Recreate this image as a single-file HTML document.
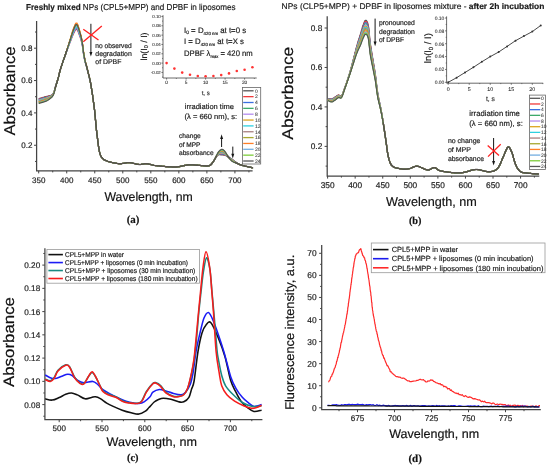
<!DOCTYPE html>
<html><head><meta charset="utf-8"><style>
html,body{margin:0;padding:0;background:#fff;}
body{width:550px;height:466px;overflow:hidden;}
svg{display:block;will-change:transform;font-family:"Liberation Sans",sans-serif;}
text{stroke:currentColor;stroke-width:0.18px;text-rendering:geometricPrecision;}
</style></head><body>
<svg width="550" height="466" viewBox="0 0 550 466">
<rect width="550" height="466" fill="#fff"/>
<text x="26.00" y="9.90" font-size="8.60" fill="#1a1a1a" color="#1a1a1a" textLength="209.60" lengthAdjust="spacingAndGlyphs"><tspan font-weight="bold">Freshly mixed</tspan> NPs (CPL5+MPP) and DPBF in liposomes</text>
<path d="M36.60,20.90V170.80H252.60" fill="none" stroke="#444" stroke-width="1.25"/>
<line x1="34.00" y1="145.25" x2="36.60" y2="145.25" stroke="#444" stroke-width="1.00"/>
<line x1="34.00" y1="112.90" x2="36.60" y2="112.90" stroke="#444" stroke-width="1.00"/>
<line x1="34.00" y1="80.55" x2="36.60" y2="80.55" stroke="#444" stroke-width="1.00"/>
<line x1="34.00" y1="48.20" x2="36.60" y2="48.20" stroke="#444" stroke-width="1.00"/>
<line x1="35.00" y1="161.43" x2="36.60" y2="161.43" stroke="#444" stroke-width="1.00"/>
<line x1="35.00" y1="129.07" x2="36.60" y2="129.07" stroke="#444" stroke-width="1.00"/>
<line x1="35.00" y1="96.73" x2="36.60" y2="96.73" stroke="#444" stroke-width="1.00"/>
<line x1="35.00" y1="64.38" x2="36.60" y2="64.38" stroke="#444" stroke-width="1.00"/>
<line x1="35.00" y1="32.03" x2="36.60" y2="32.03" stroke="#444" stroke-width="1.00"/>
<text x="32.40" y="148.13" font-size="8.00" text-anchor="end" fill="#222" color="#222">0.2</text>
<text x="32.40" y="115.78" font-size="8.00" text-anchor="end" fill="#222" color="#222">0.4</text>
<text x="32.40" y="83.43" font-size="8.00" text-anchor="end" fill="#222" color="#222">0.6</text>
<text x="32.40" y="51.08" font-size="8.00" text-anchor="end" fill="#222" color="#222">0.8</text>
<line x1="38.70" y1="170.80" x2="38.70" y2="173.40" stroke="#444" stroke-width="1.00"/>
<line x1="66.73" y1="170.80" x2="66.73" y2="173.40" stroke="#444" stroke-width="1.00"/>
<line x1="94.76" y1="170.80" x2="94.76" y2="173.40" stroke="#444" stroke-width="1.00"/>
<line x1="122.79" y1="170.80" x2="122.79" y2="173.40" stroke="#444" stroke-width="1.00"/>
<line x1="150.82" y1="170.80" x2="150.82" y2="173.40" stroke="#444" stroke-width="1.00"/>
<line x1="178.85" y1="170.80" x2="178.85" y2="173.40" stroke="#444" stroke-width="1.00"/>
<line x1="206.88" y1="170.80" x2="206.88" y2="173.40" stroke="#444" stroke-width="1.00"/>
<line x1="234.91" y1="170.80" x2="234.91" y2="173.40" stroke="#444" stroke-width="1.00"/>
<line x1="52.72" y1="170.80" x2="52.72" y2="172.40" stroke="#444" stroke-width="1.00"/>
<line x1="80.75" y1="170.80" x2="80.75" y2="172.40" stroke="#444" stroke-width="1.00"/>
<line x1="108.78" y1="170.80" x2="108.78" y2="172.40" stroke="#444" stroke-width="1.00"/>
<line x1="136.81" y1="170.80" x2="136.81" y2="172.40" stroke="#444" stroke-width="1.00"/>
<line x1="164.83" y1="170.80" x2="164.83" y2="172.40" stroke="#444" stroke-width="1.00"/>
<line x1="192.87" y1="170.80" x2="192.87" y2="172.40" stroke="#444" stroke-width="1.00"/>
<line x1="220.89" y1="170.80" x2="220.89" y2="172.40" stroke="#444" stroke-width="1.00"/>
<line x1="248.93" y1="170.80" x2="248.93" y2="172.40" stroke="#444" stroke-width="1.00"/>
<text x="38.70" y="182.90" font-size="8.00" text-anchor="middle" fill="#222" color="#222">350</text>
<text x="66.73" y="182.90" font-size="8.00" text-anchor="middle" fill="#222" color="#222">400</text>
<text x="94.76" y="182.90" font-size="8.00" text-anchor="middle" fill="#222" color="#222">450</text>
<text x="122.79" y="182.90" font-size="8.00" text-anchor="middle" fill="#222" color="#222">500</text>
<text x="150.82" y="182.90" font-size="8.00" text-anchor="middle" fill="#222" color="#222">550</text>
<text x="178.85" y="182.90" font-size="8.00" text-anchor="middle" fill="#222" color="#222">600</text>
<text x="206.88" y="182.90" font-size="8.00" text-anchor="middle" fill="#222" color="#222">650</text>
<text x="234.91" y="182.90" font-size="8.00" text-anchor="middle" fill="#222" color="#222">700</text>
<text x="15.00" y="91.00" font-size="15.60" text-anchor="middle" fill="#111" color="#111" textLength="89.00" lengthAdjust="spacingAndGlyphs" transform="rotate(-90 15.00 91.00)">Absorbance</text>
<text x="148.60" y="200.90" font-size="12.60" text-anchor="middle" fill="#111" color="#111" textLength="88.30" lengthAdjust="spacingAndGlyphs">Wavelength, nm</text>
<text x="133.00" y="223.30" font-size="10.90" text-anchor="middle" font-weight="bold" font-family="Liberation Serif" fill="#111" color="#111" textLength="12.70" lengthAdjust="spacingAndGlyphs">(a)</text>
<path d="M38.7,98.6L39.2,98.5L39.8,98.3L40.6,98.1L41.5,97.8L42.4,97.6L43.2,97.3L44.0,97.1L44.7,96.9L45.4,96.7L46.2,96.6L46.9,96.4L47.6,96.3L48.2,96.1L48.9,95.9L49.6,95.7L50.2,95.5L50.8,95.3L51.5,95.0L52.1,94.7L52.6,94.2L53.1,93.6L53.4,93.1L53.7,92.6L53.9,91.9L54.2,91.3L54.4,90.5L54.6,89.8L54.8,89.0L55.0,88.2L55.2,87.4L55.5,86.5L55.7,85.9L55.9,85.2L56.2,84.4L56.4,83.6L56.7,82.8L56.9,82.0L57.2,81.2L57.4,80.4L57.7,79.7L57.9,78.9L58.1,78.2L58.3,77.5L58.5,76.8L58.7,76.0L58.9,75.2L59.1,74.5L59.2,73.8L59.4,73.2L59.5,72.6L59.7,71.9L59.9,71.2L60.1,70.4L60.3,69.7L60.5,68.9L60.8,68.1L61.0,67.3L61.3,66.5L61.6,65.7L61.9,64.8L62.1,64.0L62.4,63.3L62.6,62.6L62.8,62.0L63.1,61.1L63.3,60.5L63.5,60.0L63.7,59.5L64.0,58.7L64.4,57.5L64.6,57.0L64.8,56.4L65.0,55.8L65.2,55.1L65.5,54.4L65.7,53.7L66.0,52.9L66.2,52.1L66.5,51.3L66.8,50.5L67.1,49.7L67.4,48.9L67.6,48.0L67.9,47.2L68.2,46.4L68.5,45.6L68.7,44.8L69.0,44.1L69.3,43.3L69.5,42.5L69.8,41.7L70.1,40.8L70.4,40.0L70.7,39.1L70.9,38.3L71.2,37.4L71.5,36.6L71.8,35.8L72.0,35.0L72.3,34.3L72.5,33.5L72.8,32.8L73.0,32.2L73.3,31.6L73.5,31.0L74.0,29.8L74.5,28.7L74.9,27.8L75.3,27.0L75.7,26.5L76.1,26.1L76.5,26.0L76.9,26.1L77.2,26.5L77.6,27.1L77.9,27.9L78.3,28.8L78.6,29.9L79.0,31.0L79.2,31.6L79.4,32.2L79.6,32.9L79.8,33.6L80.1,34.3L80.3,35.1L80.5,35.8L80.7,36.7L81.0,37.5L81.2,38.4L81.4,39.2L81.6,40.1L81.8,41.1L82.0,42.0L82.1,42.7L82.3,43.5L82.4,44.2L82.5,45.0L82.6,45.8L82.7,46.7L82.9,47.5L83.0,48.4L83.1,49.2L83.2,50.1L83.3,51.0L83.4,51.8L83.5,52.7L83.6,53.5L83.8,54.4L83.9,55.2L84.0,56.0L84.2,56.7L84.3,57.5L84.5,58.4L84.7,59.2L84.8,60.0L85.0,60.8L85.2,61.6L85.4,62.4L85.6,63.1L85.8,63.9L86.1,64.6L86.3,65.4L86.5,66.1L86.7,66.9L86.9,67.6L87.1,68.4L87.3,69.2L87.5,70.0L87.7,70.8L87.9,71.5L88.1,72.2L88.2,72.9L88.4,73.6L88.6,74.3L88.8,75.1L89.0,75.8L89.2,76.5L89.4,77.3L89.5,78.1L89.7,78.9L89.9,79.8L90.1,80.7L90.3,81.6L90.5,82.6L90.7,83.7L90.8,84.4L90.9,85.0L91.1,85.7L91.2,86.4L91.3,87.2L91.4,87.9L91.5,88.7L91.7,89.5L91.8,90.3L91.9,91.1L92.1,91.9L92.2,92.8L92.3,93.6L92.4,94.4L92.6,95.3L92.7,96.2L92.8,97.0L92.9,97.9L93.1,98.8L93.2,99.6L93.3,100.5L93.4,101.4L93.5,102.2L93.7,103.1L93.8,104.0L93.9,104.8L94.0,105.6L94.1,106.5L94.2,107.3L94.3,108.1L94.4,108.9L94.5,109.8L94.6,110.6L94.7,111.5L94.8,112.3L94.9,113.2L94.9,114.0L95.0,114.9L95.1,115.7L95.2,116.6L95.3,117.4L95.4,118.3L95.4,119.1L95.5,120.0L95.6,120.8L95.7,121.7L95.8,122.5L95.8,123.3L95.9,124.1L96.0,124.9L96.1,125.7L96.1,126.5L96.2,127.3L96.3,128.1L96.4,128.8L96.4,129.6L96.5,130.3L96.6,131.0L96.7,132.0L96.8,132.9L96.9,133.9L97.0,134.8L97.1,135.7L97.3,136.6L97.4,137.5L97.5,138.4L97.6,139.3L97.7,140.1L97.8,140.9L97.9,141.7L98.0,142.5L98.1,143.3L98.2,144.0L98.3,144.8L98.4,145.5L98.5,146.1L98.6,146.8L98.7,147.4L98.8,148.0L99.0,149.2L99.2,150.2L99.3,151.1L99.5,151.9L99.6,152.6L99.8,153.2L100.0,153.8L100.2,154.4L100.4,154.9L100.6,155.5L101.0,156.4L101.5,157.2L102.1,157.8L102.6,158.4L103.2,158.9L103.7,159.4L104.3,159.9L105.0,160.2L105.6,160.5L106.3,160.7L107.0,161.0L107.6,161.3L108.2,161.5L108.9,161.7L109.7,161.9L110.8,162.2L111.4,162.3L112.0,162.5L112.7,162.6L113.5,162.8L114.2,162.9L115.0,163.1L115.9,163.2L116.7,163.4L117.6,163.5L118.4,163.6L119.2,163.7L120.0,163.7L120.8,163.7L121.6,163.6L122.3,163.5L123.1,163.4L123.9,163.3L124.7,163.1L125.5,163.0L126.3,162.8L127.0,162.7L127.8,162.6L128.6,162.6L129.4,162.6L130.2,162.7L131.0,162.8L131.8,162.9L132.6,163.1L133.4,163.3L134.3,163.5L135.1,163.7L135.9,164.0L136.7,164.1L137.4,164.3L138.2,164.4L138.9,164.5L139.7,164.5L140.5,164.5L141.3,164.4L142.0,164.2L142.7,164.1L143.4,164.0L144.1,163.8L144.9,163.7L145.7,163.7L146.5,163.7L147.2,163.8L147.9,163.9L148.5,164.0L149.2,164.2L149.9,164.3L150.6,164.5L151.3,164.7L152.1,164.9L153.0,165.1L153.9,165.3L155.0,165.5L156.1,165.6L156.7,165.7L157.4,165.8L158.2,165.8L158.9,165.9L159.7,166.0L160.5,166.1L161.4,166.2L162.3,166.3L163.1,166.3L164.0,166.4L165.0,166.5L165.9,166.6L166.8,166.7L167.7,166.7L168.6,166.8L169.5,166.8L170.4,166.9L171.2,166.9L172.1,167.0L172.9,167.0L173.7,167.0L174.5,167.0L175.2,167.0L176.1,167.0L177.0,166.9L177.9,166.8L178.8,166.7L179.6,166.6L180.4,166.4L181.2,166.2L181.9,166.1L182.7,165.9L183.4,165.7L184.2,165.6L184.9,165.4L185.7,165.3L186.4,165.1L187.2,165.0L187.9,165.0L188.7,164.9L189.5,164.9L190.4,164.9L191.3,164.9L192.2,164.9L193.1,164.9L194.0,165.0L194.9,165.0L195.8,165.1L196.6,165.2L197.5,165.2L198.3,165.3L199.1,165.4L199.8,165.4L200.5,165.5L201.2,165.6L201.8,165.6L203.0,165.7L203.9,165.8L204.7,165.9L205.3,165.9L205.9,166.0L206.4,166.0L207.0,166.0L207.8,165.9L208.5,165.9L209.2,165.7L209.8,165.4L210.5,165.0L211.0,164.6L211.5,164.0L212.0,163.4L212.5,162.7L213.0,162.0L213.5,161.3L214.0,160.6L214.4,160.0L214.8,159.4L215.2,158.7L215.6,158.0L216.0,157.4L216.4,156.8L216.8,156.3L217.2,155.8L217.5,155.4L218.2,155.0L218.8,154.7L219.4,154.7L220.0,154.7L220.8,154.8L221.5,154.9L222.2,155.0L223.0,155.0L223.7,155.1L224.5,155.1L225.0,155.2L225.5,155.4L226.0,155.7L226.5,155.9L227.0,156.2L227.5,156.4L227.9,156.7L228.4,156.9L228.9,157.2L229.4,157.5L230.0,157.9L230.5,158.2L231.0,158.5L231.5,158.8L232.1,159.2L232.7,159.7L233.3,160.2L234.0,160.7L234.6,161.2L235.2,161.7L235.9,162.2L236.5,162.7L237.2,163.1L237.9,163.6L238.6,163.9L239.3,164.3L240.0,164.6L240.7,164.9L241.5,165.1L242.2,165.3L243.0,165.5L243.7,165.7L244.5,165.9L245.2,166.1L246.0,166.3L246.8,166.5L247.6,166.7L248.4,166.9L249.3,167.1L250.1,167.2L250.9,167.4L251.6,167.6L252.2,167.7L252.7,167.8" fill="none" stroke="#555555" stroke-width="1.20"/>
<path d="M38.7,99.0L39.2,98.9L39.8,98.7L40.6,98.5L41.5,98.2L42.4,98.0L43.2,97.7L44.0,97.5L44.7,97.3L45.4,97.1L46.2,96.9L46.9,96.8L47.6,96.6L48.2,96.4L48.9,96.2L49.6,96.0L50.2,95.8L50.8,95.5L51.5,95.2L52.1,94.9L52.6,94.4L53.1,93.8L53.4,93.3L53.7,92.7L53.9,92.1L54.2,91.4L54.4,90.6L54.6,89.9L54.8,89.1L55.0,88.3L55.2,87.5L55.5,86.6L55.7,85.9L55.9,85.2L56.2,84.5L56.4,83.7L56.7,82.9L56.9,82.1L57.2,81.3L57.4,80.5L57.7,79.7L57.9,78.9L58.1,78.2L58.3,77.5L58.5,76.9L58.7,76.0L58.9,75.2L59.1,74.5L59.2,73.9L59.4,73.2L59.5,72.6L59.7,71.9L59.9,71.2L60.1,70.4L60.3,69.7L60.5,69.0L60.8,68.2L61.0,67.4L61.3,66.5L61.6,65.7L61.9,64.9L62.1,64.1L62.4,63.4L62.6,62.7L62.8,62.0L63.1,61.2L63.3,60.6L63.5,60.1L63.7,59.6L64.0,58.8L64.4,57.7L64.6,57.2L64.8,56.6L65.0,56.0L65.2,55.4L65.5,54.7L65.7,54.0L66.0,53.3L66.2,52.5L66.5,51.8L66.8,51.0L67.1,50.3L67.4,49.5L67.6,48.7L67.9,48.0L68.2,47.3L68.5,46.5L68.7,45.8L69.0,45.2L69.3,44.5L69.5,43.8L69.8,43.0L70.1,42.3L70.4,41.6L70.7,40.8L70.9,40.1L71.2,39.4L71.5,38.6L71.8,38.0L72.0,37.3L72.3,36.6L72.5,36.0L72.8,35.4L73.0,34.8L73.3,34.3L73.5,33.8L74.0,32.8L74.5,31.8L74.9,31.0L75.3,30.3L75.7,29.8L76.1,29.5L76.5,29.4L76.9,29.5L77.2,29.9L77.6,30.4L77.9,31.2L78.3,32.0L78.6,33.0L79.0,34.0L79.2,34.5L79.4,35.1L79.6,35.7L79.8,36.3L80.1,36.9L80.3,37.6L80.5,38.3L80.7,39.0L81.0,39.8L81.2,40.5L81.4,41.3L81.6,42.1L81.8,43.0L82.0,43.8L82.1,44.5L82.3,45.2L82.4,45.9L82.5,46.6L82.6,47.4L82.7,48.2L82.9,49.0L83.0,49.8L83.1,50.6L83.2,51.5L83.3,52.3L83.4,53.1L83.5,53.9L83.6,54.7L83.8,55.5L83.9,56.3L84.0,57.0L84.2,57.8L84.3,58.5L84.5,59.3L84.7,60.1L84.8,60.8L85.0,61.6L85.2,62.3L85.4,63.0L85.6,63.7L85.8,64.4L86.1,65.1L86.3,65.8L86.5,66.6L86.7,67.3L86.9,68.0L87.1,68.7L87.3,69.5L87.5,70.3L87.7,71.0L87.9,71.7L88.1,72.4L88.2,73.1L88.4,73.8L88.6,74.5L88.8,75.2L89.0,75.9L89.2,76.7L89.4,77.4L89.5,78.2L89.7,79.0L89.9,79.9L90.1,80.8L90.3,81.7L90.5,82.7L90.7,83.8L90.8,84.4L90.9,85.1L91.1,85.8L91.2,86.5L91.3,87.2L91.4,88.0L91.5,88.7L91.7,89.5L91.8,90.3L91.9,91.1L92.1,91.9L92.2,92.8L92.3,93.6L92.4,94.5L92.6,95.3L92.7,96.2L92.8,97.0L92.9,97.9L93.1,98.8L93.2,99.7L93.3,100.5L93.4,101.4L93.5,102.3L93.7,103.1L93.8,104.0L93.9,104.8L94.0,105.7L94.1,106.5L94.2,107.3L94.3,108.1L94.4,109.0L94.5,109.8L94.6,110.6L94.7,111.5L94.8,112.3L94.9,113.2L94.9,114.0L95.0,114.9L95.1,115.7L95.2,116.6L95.3,117.4L95.4,118.3L95.4,119.1L95.5,120.0L95.6,120.8L95.7,121.7L95.8,122.5L95.8,123.3L95.9,124.1L96.0,124.9L96.1,125.7L96.1,126.5L96.2,127.3L96.3,128.1L96.4,128.8L96.4,129.6L96.5,130.3L96.6,131.0L96.7,132.0L96.8,132.9L96.9,133.9L97.0,134.8L97.1,135.7L97.3,136.6L97.4,137.5L97.5,138.4L97.6,139.3L97.7,140.1L97.8,140.9L97.9,141.7L98.0,142.5L98.1,143.3L98.2,144.0L98.3,144.8L98.4,145.5L98.5,146.1L98.6,146.8L98.7,147.4L98.8,148.0L99.0,149.2L99.2,150.2L99.3,151.1L99.5,151.9L99.6,152.6L99.8,153.2L100.0,153.8L100.2,154.4L100.4,154.9L100.6,155.5L101.0,156.4L101.5,157.2L102.1,157.8L102.6,158.4L103.2,158.9L103.7,159.4L104.3,159.9L105.0,160.2L105.6,160.5L106.3,160.7L107.0,161.0L107.6,161.3L108.2,161.5L108.9,161.7L109.7,161.9L110.8,162.2L111.4,162.3L112.0,162.5L112.7,162.6L113.5,162.8L114.2,162.9L115.0,163.1L115.9,163.2L116.7,163.4L117.6,163.5L118.4,163.6L119.2,163.7L120.0,163.7L120.8,163.7L121.6,163.6L122.3,163.5L123.1,163.4L123.9,163.3L124.7,163.1L125.5,163.0L126.3,162.8L127.0,162.7L127.8,162.6L128.6,162.6L129.4,162.6L130.2,162.7L131.0,162.8L131.8,162.9L132.6,163.1L133.4,163.3L134.3,163.5L135.1,163.7L135.9,164.0L136.7,164.1L137.4,164.3L138.2,164.4L138.9,164.5L139.7,164.5L140.5,164.5L141.3,164.4L142.0,164.2L142.7,164.1L143.4,164.0L144.1,163.8L144.9,163.7L145.7,163.7L146.5,163.7L147.2,163.8L147.9,163.9L148.5,164.0L149.2,164.2L149.9,164.3L150.6,164.5L151.3,164.7L152.1,164.9L153.0,165.1L153.9,165.3L155.0,165.5L156.1,165.6L156.7,165.7L157.4,165.8L158.2,165.8L158.9,165.9L159.7,166.0L160.5,166.1L161.4,166.2L162.3,166.3L163.1,166.3L164.0,166.4L165.0,166.5L165.9,166.6L166.8,166.7L167.7,166.7L168.6,166.8L169.5,166.8L170.4,166.9L171.2,166.9L172.1,167.0L172.9,167.0L173.7,167.0L174.5,167.0L175.2,167.0L176.1,167.0L177.0,166.9L177.9,166.8L178.8,166.7L179.6,166.6L180.4,166.4L181.2,166.2L181.9,166.1L182.7,165.9L183.4,165.7L184.2,165.6L184.9,165.4L185.7,165.3L186.4,165.1L187.2,165.0L187.9,165.0L188.7,164.9L189.5,164.9L190.4,164.9L191.3,164.9L192.2,164.9L193.1,164.9L194.0,165.0L194.9,165.0L195.8,165.1L196.6,165.2L197.5,165.2L198.3,165.3L199.1,165.4L199.8,165.4L200.5,165.5L201.2,165.6L201.8,165.6L203.0,165.7L203.9,165.8L204.7,165.9L205.3,165.9L205.9,166.0L206.4,166.0L207.0,166.0L207.8,165.9L208.5,165.9L209.2,165.7L209.8,165.4L210.5,165.0L211.0,164.6L211.5,164.0L212.0,163.4L212.5,162.7L213.0,162.0L213.5,161.3L214.0,160.6L214.4,160.0L214.8,159.3L215.2,158.7L215.6,158.0L216.0,157.3L216.4,156.7L216.8,156.1L217.2,155.7L217.5,155.3L218.2,154.7L218.8,154.5L219.4,154.4L220.0,154.3L220.8,154.3L221.5,154.4L222.2,154.5L223.0,154.6L223.7,154.6L224.5,154.8L225.0,154.9L225.5,155.2L226.0,155.5L226.5,155.8L227.0,156.1L227.5,156.3L227.9,156.6L228.4,156.9L228.9,157.3L229.4,157.6L230.0,158.0L230.5,158.3L231.0,158.6L231.5,159.0L232.1,159.4L232.7,159.8L233.3,160.3L234.0,160.9L234.6,161.3L235.2,161.8L235.9,162.2L236.5,162.7L237.2,163.2L237.9,163.6L238.6,163.9L239.3,164.3L240.0,164.6L240.7,164.9L241.5,165.1L242.2,165.3L243.0,165.5L243.7,165.7L244.5,165.9L245.2,166.1L246.0,166.3L246.8,166.5L247.6,166.7L248.4,166.9L249.3,167.1L250.1,167.2L250.9,167.4L251.6,167.6L252.2,167.7L252.7,167.8" fill="none" stroke="#f03a3a" stroke-width="1.20"/>
<path d="M38.7,99.4L39.2,99.3L39.8,99.1L40.6,98.9L41.5,98.6L42.4,98.4L43.2,98.1L44.0,97.9L44.7,97.7L45.4,97.5L46.2,97.3L46.9,97.1L47.6,97.0L48.2,96.8L48.9,96.5L49.6,96.3L50.2,96.0L50.8,95.8L51.5,95.4L52.1,95.0L52.6,94.6L53.1,93.9L53.4,93.4L53.7,92.8L53.9,92.2L54.2,91.5L54.4,90.8L54.6,90.0L54.8,89.2L55.0,88.4L55.2,87.5L55.5,86.7L55.7,86.0L55.9,85.3L56.2,84.5L56.4,83.8L56.7,83.0L56.9,82.1L57.2,81.3L57.4,80.5L57.7,79.7L57.9,79.0L58.1,78.2L58.3,77.5L58.5,76.9L58.7,76.0L58.9,75.3L59.1,74.6L59.2,73.9L59.4,73.3L59.5,72.6L59.7,71.9L59.9,71.2L60.1,70.4L60.3,69.7L60.5,69.0L60.8,68.2L61.0,67.4L61.3,66.5L61.6,65.7L61.9,64.9L62.1,64.1L62.4,63.3L62.6,62.7L62.8,62.0L63.1,61.2L63.3,60.6L63.5,60.1L63.7,59.6L64.0,58.8L64.4,57.6L64.6,57.1L64.8,56.5L65.0,55.9L65.2,55.3L65.5,54.6L65.7,53.9L66.0,53.2L66.2,52.4L66.5,51.6L66.8,50.9L67.1,50.1L67.4,49.3L67.6,48.5L67.9,47.8L68.2,47.0L68.5,46.3L68.7,45.6L69.0,44.9L69.3,44.1L69.5,43.4L69.8,42.6L70.1,41.9L70.4,41.1L70.7,40.3L70.9,39.6L71.2,38.8L71.5,38.0L71.8,37.3L72.0,36.6L72.3,35.9L72.5,35.3L72.8,34.6L73.0,34.0L73.3,33.5L73.5,33.0L74.0,31.9L74.5,30.9L74.9,30.0L75.3,29.4L75.7,28.8L76.1,28.5L76.5,28.4L76.9,28.5L77.2,28.9L77.6,29.5L77.9,30.2L78.3,31.1L78.6,32.1L79.0,33.1L79.2,33.7L79.4,34.2L79.6,34.8L79.8,35.5L80.1,36.2L80.3,36.8L80.5,37.6L80.7,38.3L81.0,39.1L81.2,39.9L81.4,40.7L81.6,41.6L81.8,42.4L82.0,43.3L82.1,44.0L82.3,44.7L82.4,45.4L82.5,46.2L82.6,46.9L82.7,47.7L82.9,48.6L83.0,49.4L83.1,50.2L83.2,51.1L83.3,51.9L83.4,52.7L83.5,53.5L83.6,54.4L83.8,55.2L83.9,56.0L84.0,56.7L84.2,57.5L84.3,58.2L84.5,59.0L84.7,59.8L84.8,60.6L85.0,61.4L85.2,62.1L85.4,62.8L85.6,63.5L85.8,64.3L86.1,65.0L86.3,65.7L86.5,66.4L86.7,67.2L86.9,67.9L87.1,68.6L87.3,69.4L87.5,70.2L87.7,70.9L87.9,71.7L88.1,72.4L88.2,73.1L88.4,73.8L88.6,74.5L88.8,75.2L89.0,75.9L89.2,76.6L89.4,77.4L89.5,78.2L89.7,79.0L89.9,79.8L90.1,80.7L90.3,81.7L90.5,82.7L90.7,83.7L90.8,84.4L90.9,85.1L91.1,85.8L91.2,86.5L91.3,87.2L91.4,88.0L91.5,88.7L91.7,89.5L91.8,90.3L91.9,91.1L92.1,91.9L92.2,92.8L92.3,93.6L92.4,94.5L92.6,95.3L92.7,96.2L92.8,97.0L92.9,97.9L93.1,98.8L93.2,99.6L93.3,100.5L93.4,101.4L93.5,102.2L93.7,103.1L93.8,104.0L93.9,104.8L94.0,105.7L94.1,106.5L94.2,107.3L94.3,108.1L94.4,108.9L94.5,109.8L94.6,110.6L94.7,111.5L94.8,112.3L94.9,113.2L94.9,114.0L95.0,114.9L95.1,115.7L95.2,116.6L95.3,117.4L95.4,118.3L95.4,119.1L95.5,120.0L95.6,120.8L95.7,121.7L95.8,122.5L95.8,123.3L95.9,124.1L96.0,124.9L96.1,125.7L96.1,126.5L96.2,127.3L96.3,128.1L96.4,128.8L96.4,129.6L96.5,130.3L96.6,131.0L96.7,132.0L96.8,132.9L96.9,133.9L97.0,134.8L97.1,135.7L97.3,136.6L97.4,137.5L97.5,138.4L97.6,139.3L97.7,140.1L97.8,140.9L97.9,141.7L98.0,142.5L98.1,143.3L98.2,144.0L98.3,144.8L98.4,145.5L98.5,146.1L98.6,146.8L98.7,147.4L98.8,148.0L99.0,149.2L99.2,150.2L99.3,151.1L99.5,151.9L99.6,152.6L99.8,153.2L100.0,153.8L100.2,154.4L100.4,154.9L100.6,155.5L101.0,156.4L101.5,157.2L102.1,157.8L102.6,158.4L103.2,158.9L103.7,159.4L104.3,159.9L105.0,160.2L105.6,160.5L106.3,160.7L107.0,161.0L107.6,161.3L108.2,161.5L108.9,161.7L109.7,161.9L110.8,162.2L111.4,162.3L112.0,162.5L112.7,162.6L113.5,162.8L114.2,162.9L115.0,163.1L115.9,163.2L116.7,163.4L117.6,163.5L118.4,163.6L119.2,163.7L120.0,163.7L120.8,163.7L121.6,163.6L122.3,163.5L123.1,163.4L123.9,163.3L124.7,163.1L125.5,163.0L126.3,162.8L127.0,162.7L127.8,162.6L128.6,162.6L129.4,162.6L130.2,162.7L131.0,162.8L131.8,162.9L132.6,163.1L133.4,163.3L134.3,163.5L135.1,163.7L135.9,164.0L136.7,164.1L137.4,164.3L138.2,164.4L138.9,164.5L139.7,164.5L140.5,164.5L141.3,164.4L142.0,164.2L142.7,164.1L143.4,164.0L144.1,163.8L144.9,163.7L145.7,163.7L146.5,163.7L147.2,163.8L147.9,163.9L148.5,164.0L149.2,164.2L149.9,164.3L150.6,164.5L151.3,164.7L152.1,164.9L153.0,165.1L153.9,165.3L155.0,165.5L156.1,165.6L156.7,165.7L157.4,165.8L158.2,165.8L158.9,165.9L159.7,166.0L160.5,166.1L161.4,166.2L162.3,166.3L163.1,166.3L164.0,166.4L165.0,166.5L165.9,166.6L166.8,166.7L167.7,166.7L168.6,166.8L169.5,166.8L170.4,166.9L171.2,166.9L172.1,167.0L172.9,167.0L173.7,167.0L174.5,167.0L175.2,167.0L176.1,167.0L177.0,166.9L177.9,166.8L178.8,166.7L179.6,166.6L180.4,166.4L181.2,166.2L181.9,166.1L182.7,165.9L183.4,165.7L184.2,165.6L184.9,165.4L185.7,165.3L186.4,165.1L187.2,165.0L187.9,165.0L188.7,164.9L189.5,164.9L190.4,164.9L191.3,164.9L192.2,164.9L193.1,164.9L194.0,165.0L194.9,165.0L195.8,165.1L196.6,165.2L197.5,165.2L198.3,165.3L199.1,165.4L199.8,165.4L200.5,165.5L201.2,165.6L201.8,165.6L203.0,165.7L203.9,165.8L204.7,165.9L205.3,165.9L205.9,166.0L206.4,166.0L207.0,166.0L207.8,165.9L208.5,165.9L209.2,165.7L209.8,165.4L210.5,165.0L211.0,164.6L211.5,164.0L212.0,163.4L212.5,162.7L213.0,162.0L213.5,161.3L214.0,160.6L214.4,160.0L214.8,159.3L215.2,158.6L215.6,157.9L216.0,157.3L216.4,156.6L216.8,156.0L217.2,155.5L217.5,155.1L218.2,154.5L218.8,154.2L219.4,154.1L220.0,154.0L220.8,153.9L221.5,154.0L222.2,154.1L223.0,154.1L223.7,154.2L224.5,154.4L225.0,154.6L225.5,154.9L226.0,155.2L226.5,155.6L227.0,156.0L227.5,156.3L227.9,156.6L228.4,156.9L228.9,157.3L229.4,157.7L230.0,158.1L230.5,158.4L231.0,158.8L231.5,159.1L232.1,159.6L232.7,160.0L233.3,160.5L234.0,161.0L234.6,161.4L235.2,161.9L235.9,162.3L236.5,162.8L237.2,163.2L237.9,163.6L238.6,164.0L239.3,164.3L240.0,164.6L240.7,164.9L241.5,165.1L242.2,165.3L243.0,165.5L243.7,165.7L244.5,165.9L245.2,166.1L246.0,166.3L246.8,166.5L247.6,166.7L248.4,166.9L249.3,167.1L250.1,167.2L250.9,167.4L251.6,167.6L252.2,167.7L252.7,167.8" fill="none" stroke="#3a6fe0" stroke-width="1.20"/>
<path d="M38.7,99.8L39.2,99.7L39.8,99.5L40.6,99.3L41.5,99.0L42.4,98.8L43.2,98.5L44.0,98.3L44.7,98.1L45.4,97.9L46.2,97.7L46.9,97.5L47.6,97.3L48.2,97.1L48.9,96.8L49.6,96.5L50.2,96.3L50.8,96.0L51.5,95.6L52.1,95.2L52.6,94.7L53.1,94.1L53.4,93.5L53.7,92.9L53.9,92.3L54.2,91.6L54.4,90.9L54.6,90.1L54.8,89.3L55.0,88.5L55.2,87.6L55.5,86.8L55.7,86.1L55.9,85.4L56.2,84.6L56.4,83.8L56.7,83.0L56.9,82.2L57.2,81.4L57.4,80.6L57.7,79.8L57.9,79.0L58.1,78.3L58.3,77.6L58.5,76.9L58.7,76.1L58.9,75.3L59.1,74.6L59.2,73.9L59.4,73.3L59.5,72.6L59.7,72.0L59.9,71.2L60.1,70.4L60.3,69.7L60.5,69.0L60.8,68.2L61.0,67.4L61.3,66.5L61.6,65.7L61.9,64.8L62.1,64.1L62.4,63.3L62.6,62.6L62.8,62.0L63.1,61.1L63.3,60.5L63.5,60.0L63.7,59.5L64.0,58.7L64.4,57.5L64.6,56.9L64.8,56.4L65.0,55.7L65.2,55.1L65.5,54.4L65.7,53.6L66.0,52.9L66.2,52.1L66.5,51.3L66.8,50.4L67.1,49.6L67.4,48.8L67.6,47.9L67.9,47.1L68.2,46.3L68.5,45.5L68.7,44.7L69.0,43.9L69.3,43.1L69.5,42.3L69.8,41.4L70.1,40.6L70.4,39.7L70.7,38.8L70.9,38.0L71.2,37.1L71.5,36.3L71.8,35.4L72.0,34.6L72.3,33.8L72.5,33.1L72.8,32.4L73.0,31.7L73.3,31.1L73.5,30.5L74.0,29.2L74.5,28.1L74.9,27.2L75.3,26.4L75.7,25.9L76.1,25.5L76.5,25.4L76.9,25.5L77.2,25.9L77.6,26.5L77.9,27.3L78.3,28.3L78.6,29.3L79.0,30.5L79.2,31.1L79.4,31.7L79.6,32.4L79.8,33.1L80.1,33.8L80.3,34.6L80.5,35.4L80.7,36.2L81.0,37.1L81.2,38.0L81.4,38.9L81.6,39.8L81.8,40.7L82.0,41.7L82.1,42.4L82.3,43.2L82.4,43.9L82.5,44.7L82.6,45.6L82.7,46.4L82.9,47.2L83.0,48.1L83.1,49.0L83.2,49.8L83.3,50.7L83.4,51.6L83.5,52.5L83.6,53.3L83.8,54.2L83.9,55.0L84.0,55.8L84.2,56.6L84.3,57.3L84.5,58.2L84.7,59.0L84.8,59.9L85.0,60.7L85.2,61.5L85.4,62.2L85.6,63.0L85.8,63.8L86.1,64.5L86.3,65.3L86.5,66.0L86.7,66.8L86.9,67.6L87.1,68.3L87.3,69.1L87.5,69.9L87.7,70.7L87.9,71.5L88.1,72.2L88.2,72.9L88.4,73.6L88.6,74.3L88.8,75.0L89.0,75.8L89.2,76.5L89.4,77.3L89.5,78.1L89.7,78.9L89.9,79.8L90.1,80.7L90.3,81.6L90.5,82.6L90.7,83.7L90.8,84.3L90.9,85.0L91.1,85.7L91.2,86.4L91.3,87.2L91.4,87.9L91.5,88.7L91.7,89.5L91.8,90.3L91.9,91.1L92.1,91.9L92.2,92.8L92.3,93.6L92.4,94.4L92.6,95.3L92.7,96.2L92.8,97.0L92.9,97.9L93.1,98.8L93.2,99.6L93.3,100.5L93.4,101.4L93.5,102.2L93.7,103.1L93.8,104.0L93.9,104.8L94.0,105.6L94.1,106.5L94.2,107.3L94.3,108.1L94.4,108.9L94.5,109.8L94.6,110.6L94.7,111.5L94.8,112.3L94.9,113.2L94.9,114.0L95.0,114.9L95.1,115.7L95.2,116.6L95.3,117.4L95.4,118.3L95.4,119.1L95.5,120.0L95.6,120.8L95.7,121.7L95.8,122.5L95.8,123.3L95.9,124.1L96.0,124.9L96.1,125.7L96.1,126.5L96.2,127.3L96.3,128.1L96.4,128.8L96.4,129.6L96.5,130.3L96.6,131.0L96.7,132.0L96.8,132.9L96.9,133.9L97.0,134.8L97.1,135.7L97.3,136.6L97.4,137.5L97.5,138.4L97.6,139.3L97.7,140.1L97.8,140.9L97.9,141.7L98.0,142.5L98.1,143.3L98.2,144.0L98.3,144.8L98.4,145.5L98.5,146.1L98.6,146.8L98.7,147.4L98.8,148.0L99.0,149.2L99.2,150.2L99.3,151.1L99.5,151.9L99.6,152.6L99.8,153.2L100.0,153.8L100.2,154.4L100.4,154.9L100.6,155.5L101.0,156.4L101.5,157.2L102.1,157.8L102.6,158.4L103.2,158.9L103.7,159.4L104.3,159.9L105.0,160.2L105.6,160.5L106.3,160.7L107.0,161.0L107.6,161.3L108.2,161.5L108.9,161.7L109.7,161.9L110.8,162.2L111.4,162.3L112.0,162.5L112.7,162.6L113.5,162.8L114.2,162.9L115.0,163.1L115.9,163.2L116.7,163.4L117.6,163.5L118.4,163.6L119.2,163.7L120.0,163.7L120.8,163.7L121.6,163.6L122.3,163.5L123.1,163.4L123.9,163.3L124.7,163.1L125.5,163.0L126.3,162.8L127.0,162.7L127.8,162.6L128.6,162.6L129.4,162.6L130.2,162.7L131.0,162.8L131.8,162.9L132.6,163.1L133.4,163.3L134.3,163.5L135.1,163.7L135.9,164.0L136.7,164.1L137.4,164.3L138.2,164.4L138.9,164.5L139.7,164.5L140.5,164.5L141.3,164.4L142.0,164.2L142.7,164.1L143.4,164.0L144.1,163.8L144.9,163.7L145.7,163.7L146.5,163.7L147.2,163.8L147.9,163.9L148.5,164.0L149.2,164.2L149.9,164.3L150.6,164.5L151.3,164.7L152.1,164.9L153.0,165.1L153.9,165.3L155.0,165.5L156.1,165.6L156.7,165.7L157.4,165.8L158.2,165.8L158.9,165.9L159.7,166.0L160.5,166.1L161.4,166.2L162.3,166.3L163.1,166.3L164.0,166.4L165.0,166.5L165.9,166.6L166.8,166.7L167.7,166.7L168.6,166.8L169.5,166.8L170.4,166.9L171.2,166.9L172.1,167.0L172.9,167.0L173.7,167.0L174.5,167.0L175.2,167.0L176.1,167.0L177.0,166.9L177.9,166.8L178.8,166.7L179.6,166.6L180.4,166.4L181.2,166.2L181.9,166.1L182.7,165.9L183.4,165.7L184.2,165.6L184.9,165.4L185.7,165.3L186.4,165.1L187.2,165.0L187.9,165.0L188.7,164.9L189.5,164.9L190.4,164.9L191.3,164.9L192.2,164.9L193.1,164.9L194.0,165.0L194.9,165.0L195.8,165.1L196.6,165.2L197.5,165.2L198.3,165.3L199.1,165.4L199.8,165.4L200.5,165.5L201.2,165.6L201.8,165.6L203.0,165.7L203.9,165.8L204.7,165.9L205.3,165.9L205.9,166.0L206.4,166.0L207.0,166.0L207.8,165.9L208.5,165.9L209.2,165.7L209.8,165.4L210.5,165.0L211.0,164.6L211.5,164.0L212.0,163.4L212.5,162.7L213.0,162.0L213.5,161.3L214.0,160.6L214.4,159.9L214.8,159.3L215.2,158.6L215.6,157.9L216.0,157.2L216.4,156.5L216.8,155.9L217.2,155.4L217.5,155.0L218.2,154.3L218.8,153.9L219.4,153.7L220.0,153.6L220.8,153.5L221.5,153.5L222.2,153.6L223.0,153.7L223.7,153.8L224.5,154.1L225.0,154.3L225.5,154.6L226.0,155.0L226.5,155.4L227.0,155.8L227.5,156.2L227.9,156.6L228.4,157.0L228.9,157.4L229.4,157.8L230.0,158.2L230.5,158.5L231.0,158.9L231.5,159.3L232.1,159.7L232.7,160.2L233.3,160.6L234.0,161.1L234.6,161.5L235.2,161.9L235.9,162.4L236.5,162.8L237.2,163.2L237.9,163.6L238.6,164.0L239.3,164.3L240.0,164.6L240.7,164.9L241.5,165.1L242.2,165.3L243.0,165.5L243.7,165.7L244.5,165.9L245.2,166.1L246.0,166.3L246.8,166.5L247.6,166.7L248.4,166.9L249.3,167.1L250.1,167.2L250.9,167.4L251.6,167.6L252.2,167.7L252.7,167.8" fill="none" stroke="#3daa6a" stroke-width="1.20"/>
<path d="M38.7,100.2L39.2,100.1L39.8,99.9L40.6,99.7L41.5,99.4L42.4,99.2L43.2,98.9L44.0,98.7L44.7,98.5L45.4,98.3L46.2,98.1L46.9,97.9L47.6,97.6L48.2,97.4L48.9,97.1L49.6,96.8L50.2,96.5L50.8,96.2L51.5,95.8L52.1,95.4L52.6,94.9L53.1,94.2L53.4,93.7L53.7,93.1L53.9,92.4L54.2,91.7L54.4,91.0L54.6,90.2L54.8,89.4L55.0,88.5L55.2,87.7L55.5,86.8L55.7,86.2L55.9,85.4L56.2,84.7L56.4,83.9L56.7,83.1L56.9,82.3L57.2,81.4L57.4,80.6L57.7,79.8L57.9,79.0L58.1,78.3L58.3,77.6L58.5,76.9L58.7,76.1L58.9,75.3L59.1,74.6L59.2,73.9L59.4,73.3L59.5,72.6L59.7,72.0L59.9,71.3L60.1,70.5L60.3,69.8L60.5,69.0L60.8,68.2L61.0,67.4L61.3,66.5L61.6,65.7L61.9,64.9L62.1,64.1L62.4,63.3L62.6,62.6L62.8,62.0L63.1,61.2L63.3,60.6L63.5,60.1L63.7,59.6L64.0,58.8L64.4,57.6L64.6,57.1L64.8,56.5L65.0,55.9L65.2,55.2L65.5,54.5L65.7,53.8L66.0,53.1L66.2,52.3L66.5,51.5L66.8,50.7L67.1,49.9L67.4,49.1L67.6,48.4L67.9,47.6L68.2,46.8L68.5,46.0L68.7,45.3L69.0,44.6L69.3,43.8L69.5,43.1L69.8,42.3L70.1,41.5L70.4,40.7L70.7,39.9L70.9,39.1L71.2,38.3L71.5,37.5L71.8,36.8L72.0,36.0L72.3,35.3L72.5,34.6L72.8,34.0L73.0,33.3L73.3,32.8L73.5,32.2L74.0,31.1L74.5,30.1L74.9,29.2L75.3,28.5L75.7,27.9L76.1,27.6L76.5,27.5L76.9,27.6L77.2,28.0L77.6,28.6L77.9,29.4L78.3,30.3L78.6,31.3L79.0,32.3L79.2,32.9L79.4,33.5L79.6,34.1L79.8,34.8L80.1,35.5L80.3,36.2L80.5,36.9L80.7,37.7L81.0,38.5L81.2,39.3L81.4,40.2L81.6,41.0L81.8,41.9L82.0,42.8L82.1,43.5L82.3,44.2L82.4,45.0L82.5,45.7L82.6,46.5L82.7,47.3L82.9,48.2L83.0,49.0L83.1,49.8L83.2,50.7L83.3,51.5L83.4,52.4L83.5,53.2L83.6,54.0L83.8,54.9L83.9,55.7L84.0,56.4L84.2,57.2L84.3,57.9L84.5,58.8L84.7,59.6L84.8,60.4L85.0,61.1L85.2,61.9L85.4,62.6L85.6,63.4L85.8,64.1L86.1,64.8L86.3,65.6L86.5,66.3L86.7,67.0L86.9,67.8L87.1,68.6L87.3,69.3L87.5,70.1L87.7,70.9L87.9,71.6L88.1,72.3L88.2,73.0L88.4,73.7L88.6,74.4L88.8,75.1L89.0,75.8L89.2,76.6L89.4,77.3L89.5,78.1L89.7,79.0L89.9,79.8L90.1,80.7L90.3,81.7L90.5,82.7L90.7,83.7L90.8,84.4L90.9,85.1L91.1,85.7L91.2,86.5L91.3,87.2L91.4,88.0L91.5,88.7L91.7,89.5L91.8,90.3L91.9,91.1L92.1,91.9L92.2,92.8L92.3,93.6L92.4,94.5L92.6,95.3L92.7,96.2L92.8,97.0L92.9,97.9L93.1,98.8L93.2,99.6L93.3,100.5L93.4,101.4L93.5,102.2L93.7,103.1L93.8,104.0L93.9,104.8L94.0,105.7L94.1,106.5L94.2,107.3L94.3,108.1L94.4,108.9L94.5,109.8L94.6,110.6L94.7,111.5L94.8,112.3L94.9,113.2L94.9,114.0L95.0,114.9L95.1,115.7L95.2,116.6L95.3,117.4L95.4,118.3L95.4,119.1L95.5,120.0L95.6,120.8L95.7,121.7L95.8,122.5L95.8,123.3L95.9,124.1L96.0,124.9L96.1,125.7L96.1,126.5L96.2,127.3L96.3,128.1L96.4,128.8L96.4,129.6L96.5,130.3L96.6,131.0L96.7,132.0L96.8,132.9L96.9,133.9L97.0,134.8L97.1,135.7L97.3,136.6L97.4,137.5L97.5,138.4L97.6,139.3L97.7,140.1L97.8,140.9L97.9,141.7L98.0,142.5L98.1,143.3L98.2,144.0L98.3,144.8L98.4,145.5L98.5,146.1L98.6,146.8L98.7,147.4L98.8,148.0L99.0,149.2L99.2,150.2L99.3,151.1L99.5,151.9L99.6,152.6L99.8,153.2L100.0,153.8L100.2,154.4L100.4,154.9L100.6,155.5L101.0,156.4L101.5,157.2L102.1,157.8L102.6,158.4L103.2,158.9L103.7,159.4L104.3,159.9L105.0,160.2L105.6,160.5L106.3,160.7L107.0,161.0L107.6,161.3L108.2,161.5L108.9,161.7L109.7,161.9L110.8,162.2L111.4,162.3L112.0,162.5L112.7,162.6L113.5,162.8L114.2,162.9L115.0,163.1L115.9,163.2L116.7,163.4L117.6,163.5L118.4,163.6L119.2,163.7L120.0,163.7L120.8,163.7L121.6,163.6L122.3,163.5L123.1,163.4L123.9,163.3L124.7,163.1L125.5,163.0L126.3,162.8L127.0,162.7L127.8,162.6L128.6,162.6L129.4,162.6L130.2,162.7L131.0,162.8L131.8,162.9L132.6,163.1L133.4,163.3L134.3,163.5L135.1,163.7L135.9,164.0L136.7,164.1L137.4,164.3L138.2,164.4L138.9,164.5L139.7,164.5L140.5,164.5L141.3,164.4L142.0,164.2L142.7,164.1L143.4,164.0L144.1,163.8L144.9,163.7L145.7,163.7L146.5,163.7L147.2,163.8L147.9,163.9L148.5,164.0L149.2,164.2L149.9,164.3L150.6,164.5L151.3,164.7L152.1,164.9L153.0,165.1L153.9,165.3L155.0,165.5L156.1,165.6L156.7,165.7L157.4,165.8L158.2,165.8L158.9,165.9L159.7,166.0L160.5,166.1L161.4,166.2L162.3,166.3L163.1,166.3L164.0,166.4L165.0,166.5L165.9,166.6L166.8,166.7L167.7,166.7L168.6,166.8L169.5,166.8L170.4,166.9L171.2,166.9L172.1,167.0L172.9,167.0L173.7,167.0L174.5,167.0L175.2,167.0L176.1,167.0L177.0,166.9L177.9,166.8L178.8,166.7L179.6,166.6L180.4,166.4L181.2,166.2L181.9,166.1L182.7,165.9L183.4,165.7L184.2,165.6L184.9,165.4L185.7,165.3L186.4,165.1L187.2,165.0L187.9,165.0L188.7,164.9L189.5,164.9L190.4,164.9L191.3,164.9L192.2,164.9L193.1,164.9L194.0,165.0L194.9,165.0L195.8,165.1L196.6,165.2L197.5,165.2L198.3,165.3L199.1,165.4L199.8,165.4L200.5,165.5L201.2,165.6L201.8,165.6L203.0,165.7L203.9,165.8L204.7,165.9L205.3,165.9L205.9,166.0L206.4,166.0L207.0,166.0L207.8,165.9L208.5,165.9L209.2,165.7L209.8,165.4L210.5,165.0L211.0,164.6L211.5,164.0L212.0,163.4L212.5,162.7L213.0,162.0L213.5,161.3L214.0,160.5L214.4,159.9L214.8,159.3L215.2,158.5L215.6,157.8L216.0,157.1L216.4,156.4L216.8,155.8L217.2,155.3L217.5,154.8L218.2,154.1L218.8,153.7L219.4,153.4L220.0,153.2L220.8,153.1L221.5,153.1L222.2,153.1L223.0,153.2L223.7,153.4L224.5,153.7L225.0,154.0L225.5,154.4L226.0,154.8L226.5,155.3L227.0,155.7L227.5,156.1L227.9,156.5L228.4,157.0L228.9,157.4L229.4,157.8L230.0,158.3L230.5,158.7L231.0,159.1L231.5,159.5L232.1,159.9L232.7,160.3L233.3,160.8L234.0,161.2L234.6,161.6L235.2,162.0L235.9,162.4L236.5,162.9L237.2,163.3L237.9,163.6L238.6,164.0L239.3,164.3L240.0,164.6L240.7,164.9L241.5,165.1L242.2,165.3L243.0,165.5L243.7,165.7L244.5,165.9L245.2,166.1L246.0,166.3L246.8,166.5L247.6,166.7L248.4,166.9L249.3,167.1L250.1,167.2L250.9,167.4L251.6,167.6L252.2,167.7L252.7,167.8" fill="none" stroke="#b48cf0" stroke-width="1.20"/>
<path d="M38.7,100.6L39.2,100.5L39.8,100.3L40.6,100.1L41.5,99.8L42.4,99.6L43.2,99.3L44.0,99.1L44.7,98.9L45.4,98.7L46.2,98.4L46.9,98.2L47.6,98.0L48.2,97.7L48.9,97.4L49.6,97.1L50.2,96.8L50.8,96.4L51.5,96.0L52.1,95.6L52.6,95.0L53.1,94.4L53.4,93.8L53.7,93.2L53.9,92.5L54.2,91.8L54.4,91.1L54.6,90.3L54.8,89.5L55.0,88.6L55.2,87.8L55.5,86.9L55.7,86.2L55.9,85.5L56.2,84.7L56.4,83.9L56.7,83.1L56.9,82.3L57.2,81.5L57.4,80.7L57.7,79.9L57.9,79.1L58.1,78.3L58.3,77.6L58.5,77.0L58.7,76.1L58.9,75.3L59.1,74.6L59.2,74.0L59.4,73.3L59.5,72.7L59.7,72.0L59.9,71.3L60.1,70.5L60.3,69.8L60.5,69.0L60.8,68.2L61.0,67.4L61.3,66.5L61.6,65.7L61.9,64.8L62.1,64.0L62.4,63.3L62.6,62.6L62.8,62.0L63.1,61.1L63.3,60.5L63.5,60.0L63.7,59.4L64.0,58.6L64.4,57.4L64.6,56.9L64.8,56.3L65.0,55.6L65.2,55.0L65.5,54.2L65.7,53.5L66.0,52.7L66.2,51.9L66.5,51.1L66.8,50.2L67.1,49.4L67.4,48.5L67.6,47.6L67.9,46.8L68.2,45.9L68.5,45.1L68.7,44.3L69.0,43.5L69.3,42.6L69.5,41.8L69.8,40.9L70.1,40.0L70.4,39.0L70.7,38.1L70.9,37.2L71.2,36.3L71.5,35.4L71.8,34.5L72.0,33.7L72.3,32.9L72.5,32.1L72.8,31.3L73.0,30.6L73.3,29.9L73.5,29.3L74.0,28.0L74.5,26.8L74.9,25.9L75.3,25.1L75.7,24.5L76.1,24.1L76.5,24.0L76.9,24.1L77.2,24.5L77.6,25.2L77.9,26.0L78.3,27.0L78.6,28.1L79.0,29.2L79.2,29.9L79.4,30.5L79.6,31.2L79.8,32.0L80.1,32.8L80.3,33.6L80.5,34.4L80.7,35.3L81.0,36.2L81.2,37.1L81.4,38.0L81.6,39.0L81.8,39.9L82.0,40.9L82.1,41.7L82.3,42.4L82.4,43.2L82.5,44.1L82.6,44.9L82.7,45.8L82.9,46.6L83.0,47.5L83.1,48.4L83.2,49.3L83.3,50.2L83.4,51.1L83.5,51.9L83.6,52.8L83.8,53.7L83.9,54.5L84.0,55.3L84.2,56.1L84.3,56.9L84.5,57.8L84.7,58.7L84.8,59.5L85.0,60.4L85.2,61.2L85.4,62.0L85.6,62.7L85.8,63.5L86.1,64.3L86.3,65.1L86.5,65.8L86.7,66.6L86.9,67.4L87.1,68.2L87.3,69.0L87.5,69.8L87.7,70.6L87.9,71.4L88.1,72.1L88.2,72.8L88.4,73.5L88.6,74.2L88.8,75.0L89.0,75.7L89.2,76.5L89.4,77.2L89.5,78.0L89.7,78.9L89.9,79.7L90.1,80.6L90.3,81.6L90.5,82.6L90.7,83.7L90.8,84.3L90.9,85.0L91.1,85.7L91.2,86.4L91.3,87.2L91.4,87.9L91.5,88.7L91.7,89.5L91.8,90.3L91.9,91.1L92.1,91.9L92.2,92.7L92.3,93.6L92.4,94.4L92.6,95.3L92.7,96.2L92.8,97.0L92.9,97.9L93.1,98.8L93.2,99.6L93.3,100.5L93.4,101.4L93.5,102.2L93.7,103.1L93.8,104.0L93.9,104.8L94.0,105.6L94.1,106.5L94.2,107.3L94.3,108.1L94.4,108.9L94.5,109.8L94.6,110.6L94.7,111.5L94.8,112.3L94.9,113.2L94.9,114.0L95.0,114.9L95.1,115.7L95.2,116.6L95.3,117.4L95.4,118.3L95.4,119.1L95.5,120.0L95.6,120.8L95.7,121.7L95.8,122.5L95.8,123.3L95.9,124.1L96.0,124.9L96.1,125.7L96.1,126.5L96.2,127.3L96.3,128.1L96.4,128.8L96.4,129.6L96.5,130.3L96.6,131.0L96.7,132.0L96.8,132.9L96.9,133.9L97.0,134.8L97.1,135.7L97.3,136.6L97.4,137.5L97.5,138.4L97.6,139.3L97.7,140.1L97.8,140.9L97.9,141.7L98.0,142.5L98.1,143.3L98.2,144.0L98.3,144.8L98.4,145.5L98.5,146.1L98.6,146.8L98.7,147.4L98.8,148.0L99.0,149.2L99.2,150.2L99.3,151.1L99.5,151.9L99.6,152.6L99.8,153.2L100.0,153.8L100.2,154.4L100.4,154.9L100.6,155.5L101.0,156.4L101.5,157.2L102.1,157.8L102.6,158.4L103.2,158.9L103.7,159.4L104.3,159.9L105.0,160.2L105.6,160.5L106.3,160.7L107.0,161.0L107.6,161.3L108.2,161.5L108.9,161.7L109.7,161.9L110.8,162.2L111.4,162.3L112.0,162.5L112.7,162.6L113.5,162.8L114.2,162.9L115.0,163.1L115.9,163.2L116.7,163.4L117.6,163.5L118.4,163.6L119.2,163.7L120.0,163.7L120.8,163.7L121.6,163.6L122.3,163.5L123.1,163.4L123.9,163.3L124.7,163.1L125.5,163.0L126.3,162.8L127.0,162.7L127.8,162.6L128.6,162.6L129.4,162.6L130.2,162.7L131.0,162.8L131.8,162.9L132.6,163.1L133.4,163.3L134.3,163.5L135.1,163.7L135.9,164.0L136.7,164.1L137.4,164.3L138.2,164.4L138.9,164.5L139.7,164.5L140.5,164.5L141.3,164.4L142.0,164.2L142.7,164.1L143.4,164.0L144.1,163.8L144.9,163.7L145.7,163.7L146.5,163.7L147.2,163.8L147.9,163.9L148.5,164.0L149.2,164.2L149.9,164.3L150.6,164.5L151.3,164.7L152.1,164.9L153.0,165.1L153.9,165.3L155.0,165.5L156.1,165.6L156.7,165.7L157.4,165.8L158.2,165.8L158.9,165.9L159.7,166.0L160.5,166.1L161.4,166.2L162.3,166.3L163.1,166.3L164.0,166.4L165.0,166.5L165.9,166.6L166.8,166.7L167.7,166.7L168.6,166.8L169.5,166.8L170.4,166.9L171.2,166.9L172.1,167.0L172.9,167.0L173.7,167.0L174.5,167.0L175.2,167.0L176.1,167.0L177.0,166.9L177.9,166.8L178.8,166.7L179.6,166.6L180.4,166.4L181.2,166.2L181.9,166.1L182.7,165.9L183.4,165.7L184.2,165.6L184.9,165.4L185.7,165.3L186.4,165.1L187.2,165.0L187.9,165.0L188.7,164.9L189.5,164.9L190.4,164.9L191.3,164.9L192.2,164.9L193.1,164.9L194.0,165.0L194.9,165.0L195.8,165.1L196.6,165.2L197.5,165.2L198.3,165.3L199.1,165.4L199.8,165.4L200.5,165.5L201.2,165.6L201.8,165.6L203.0,165.7L203.9,165.8L204.7,165.9L205.3,165.9L205.9,166.0L206.4,166.0L207.0,166.0L207.8,165.9L208.5,165.9L209.2,165.7L209.8,165.4L210.5,165.0L211.0,164.6L211.5,164.0L212.0,163.4L212.5,162.7L213.0,162.0L213.5,161.3L214.0,160.5L214.4,159.9L214.8,159.2L215.2,158.5L215.6,157.8L216.0,157.0L216.4,156.3L216.8,155.7L217.2,155.1L217.5,154.7L218.2,153.9L218.8,153.4L219.4,153.1L220.0,152.9L220.8,152.7L221.5,152.6L222.2,152.7L223.0,152.8L223.7,153.0L224.5,153.4L225.0,153.7L225.5,154.1L226.0,154.6L226.5,155.1L227.0,155.6L227.5,156.0L227.9,156.5L228.4,157.0L228.9,157.4L229.4,157.9L230.0,158.4L230.5,158.8L231.0,159.2L231.5,159.6L232.1,160.0L232.7,160.5L233.3,160.9L234.0,161.4L234.6,161.7L235.2,162.1L235.9,162.5L236.5,162.9L237.2,163.3L237.9,163.6L238.6,164.0L239.3,164.3L240.0,164.6L240.7,164.9L241.5,165.1L242.2,165.3L243.0,165.5L243.7,165.7L244.5,165.9L245.2,166.1L246.0,166.3L246.8,166.5L247.6,166.7L248.4,166.9L249.3,167.1L250.1,167.2L250.9,167.4L251.6,167.6L252.2,167.7L252.7,167.8" fill="none" stroke="#dda520" stroke-width="1.20"/>
<path d="M38.7,101.0L39.2,100.9L39.8,100.7L40.6,100.5L41.5,100.2L42.4,100.0L43.2,99.7L44.0,99.5L44.7,99.3L45.4,99.0L46.2,98.8L46.9,98.6L47.6,98.3L48.2,98.0L48.9,97.7L49.6,97.4L50.2,97.0L50.8,96.7L51.5,96.2L52.1,95.8L52.6,95.2L53.1,94.5L53.4,93.9L53.7,93.3L53.9,92.6L54.2,91.9L54.4,91.2L54.6,90.4L54.8,89.6L55.0,88.7L55.2,87.9L55.5,87.0L55.7,86.3L55.9,85.6L56.2,84.8L56.4,84.0L56.7,83.2L56.9,82.4L57.2,81.5L57.4,80.7L57.7,79.9L57.9,79.1L58.1,78.4L58.3,77.7L58.5,77.0L58.7,76.1L58.9,75.4L59.1,74.7L59.2,74.0L59.4,73.3L59.5,72.7L59.7,72.0L59.9,71.3L60.1,70.5L60.3,69.8L60.5,69.0L60.8,68.2L61.0,67.4L61.3,66.6L61.6,65.7L61.9,64.9L62.1,64.1L62.4,63.3L62.6,62.6L62.8,62.0L63.1,61.1L63.3,60.6L63.5,60.1L63.7,59.5L64.0,58.8L64.4,57.5L64.6,57.0L64.8,56.5L65.0,55.8L65.2,55.2L65.5,54.5L65.7,53.8L66.0,53.0L66.2,52.2L66.5,51.5L66.8,50.7L67.1,49.8L67.4,49.0L67.6,48.2L67.9,47.4L68.2,46.6L68.5,45.9L68.7,45.1L69.0,44.4L69.3,43.6L69.5,42.8L69.8,42.0L70.1,41.2L70.4,40.4L70.7,39.6L70.9,38.8L71.2,37.9L71.5,37.2L71.8,36.4L72.0,35.6L72.3,34.9L72.5,34.2L72.8,33.5L73.0,32.9L73.3,32.3L73.5,31.7L74.0,30.6L74.5,29.5L74.9,28.6L75.3,27.9L75.7,27.4L76.1,27.0L76.5,26.9L76.9,27.0L77.2,27.4L77.6,28.0L77.9,28.8L78.3,29.7L78.6,30.7L79.0,31.8L79.2,32.4L79.4,33.0L79.6,33.6L79.8,34.3L80.1,35.0L80.3,35.7L80.5,36.5L80.7,37.3L81.0,38.1L81.2,38.9L81.4,39.8L81.6,40.7L81.8,41.6L82.0,42.5L82.1,43.2L82.3,43.9L82.4,44.7L82.5,45.5L82.6,46.3L82.7,47.1L82.9,47.9L83.0,48.7L83.1,49.6L83.2,50.4L83.3,51.3L83.4,52.2L83.5,53.0L83.6,53.8L83.8,54.7L83.9,55.5L84.0,56.3L84.2,57.0L84.3,57.8L84.5,58.6L84.7,59.4L84.8,60.2L85.0,61.0L85.2,61.8L85.4,62.5L85.6,63.3L85.8,64.0L86.1,64.7L86.3,65.5L86.5,66.2L86.7,67.0L86.9,67.7L87.1,68.5L87.3,69.3L87.5,70.1L87.7,70.8L87.9,71.6L88.1,72.3L88.2,73.0L88.4,73.7L88.6,74.4L88.8,75.1L89.0,75.8L89.2,76.6L89.4,77.3L89.5,78.1L89.7,78.9L89.9,79.8L90.1,80.7L90.3,81.6L90.5,82.7L90.7,83.7L90.8,84.4L90.9,85.0L91.1,85.7L91.2,86.5L91.3,87.2L91.4,87.9L91.5,88.7L91.7,89.5L91.8,90.3L91.9,91.1L92.1,91.9L92.2,92.8L92.3,93.6L92.4,94.5L92.6,95.3L92.7,96.2L92.8,97.0L92.9,97.9L93.1,98.8L93.2,99.6L93.3,100.5L93.4,101.4L93.5,102.2L93.7,103.1L93.8,104.0L93.9,104.8L94.0,105.6L94.1,106.5L94.2,107.3L94.3,108.1L94.4,108.9L94.5,109.8L94.6,110.6L94.7,111.5L94.8,112.3L94.9,113.2L94.9,114.0L95.0,114.9L95.1,115.7L95.2,116.6L95.3,117.4L95.4,118.3L95.4,119.1L95.5,120.0L95.6,120.8L95.7,121.7L95.8,122.5L95.8,123.3L95.9,124.1L96.0,124.9L96.1,125.7L96.1,126.5L96.2,127.3L96.3,128.1L96.4,128.8L96.4,129.6L96.5,130.3L96.6,131.0L96.7,132.0L96.8,132.9L96.9,133.9L97.0,134.8L97.1,135.7L97.3,136.6L97.4,137.5L97.5,138.4L97.6,139.3L97.7,140.1L97.8,140.9L97.9,141.7L98.0,142.5L98.1,143.3L98.2,144.0L98.3,144.8L98.4,145.5L98.5,146.1L98.6,146.8L98.7,147.4L98.8,148.0L99.0,149.2L99.2,150.2L99.3,151.1L99.5,151.9L99.6,152.6L99.8,153.2L100.0,153.8L100.2,154.4L100.4,154.9L100.6,155.5L101.0,156.4L101.5,157.2L102.1,157.8L102.6,158.4L103.2,158.9L103.7,159.4L104.3,159.9L105.0,160.2L105.6,160.5L106.3,160.7L107.0,161.0L107.6,161.3L108.2,161.5L108.9,161.7L109.7,161.9L110.8,162.2L111.4,162.3L112.0,162.5L112.7,162.6L113.5,162.8L114.2,162.9L115.0,163.1L115.9,163.2L116.7,163.4L117.6,163.5L118.4,163.6L119.2,163.7L120.0,163.7L120.8,163.7L121.6,163.6L122.3,163.5L123.1,163.4L123.9,163.3L124.7,163.1L125.5,163.0L126.3,162.8L127.0,162.7L127.8,162.6L128.6,162.6L129.4,162.6L130.2,162.7L131.0,162.8L131.8,162.9L132.6,163.1L133.4,163.3L134.3,163.5L135.1,163.7L135.9,164.0L136.7,164.1L137.4,164.3L138.2,164.4L138.9,164.5L139.7,164.5L140.5,164.5L141.3,164.4L142.0,164.2L142.7,164.1L143.4,164.0L144.1,163.8L144.9,163.7L145.7,163.7L146.5,163.7L147.2,163.8L147.9,163.9L148.5,164.0L149.2,164.2L149.9,164.3L150.6,164.5L151.3,164.7L152.1,164.9L153.0,165.1L153.9,165.3L155.0,165.5L156.1,165.6L156.7,165.7L157.4,165.8L158.2,165.8L158.9,165.9L159.7,166.0L160.5,166.1L161.4,166.2L162.3,166.3L163.1,166.3L164.0,166.4L165.0,166.5L165.9,166.6L166.8,166.7L167.7,166.7L168.6,166.8L169.5,166.8L170.4,166.9L171.2,166.9L172.1,167.0L172.9,167.0L173.7,167.0L174.5,167.0L175.2,167.0L176.1,167.0L177.0,166.9L177.9,166.8L178.8,166.7L179.6,166.6L180.4,166.4L181.2,166.2L181.9,166.1L182.7,165.9L183.4,165.7L184.2,165.6L184.9,165.4L185.7,165.3L186.4,165.1L187.2,165.0L187.9,165.0L188.7,164.9L189.5,164.9L190.4,164.9L191.3,164.9L192.2,164.9L193.1,164.9L194.0,165.0L194.9,165.0L195.8,165.1L196.6,165.2L197.5,165.2L198.3,165.3L199.1,165.4L199.8,165.4L200.5,165.5L201.2,165.6L201.8,165.6L203.0,165.7L203.9,165.8L204.7,165.9L205.3,165.9L205.9,166.0L206.4,166.0L207.0,166.0L207.8,165.9L208.5,165.9L209.2,165.7L209.8,165.4L210.5,165.0L211.0,164.6L211.5,164.0L212.0,163.4L212.5,162.7L213.0,162.0L213.5,161.3L214.0,160.5L214.4,159.9L214.8,159.2L215.2,158.5L215.6,157.7L216.0,157.0L216.4,156.3L216.8,155.6L217.2,155.0L217.5,154.5L218.2,153.7L218.8,153.1L219.4,152.8L220.0,152.5L220.8,152.2L221.5,152.2L222.2,152.2L223.0,152.3L223.7,152.6L224.5,153.0L225.0,153.4L225.5,153.9L226.0,154.4L226.5,154.9L227.0,155.5L227.5,156.0L227.9,156.5L228.4,157.0L228.9,157.5L229.4,158.0L230.0,158.5L230.5,158.9L231.0,159.4L231.5,159.8L232.1,160.2L232.7,160.6L233.3,161.1L234.0,161.5L234.6,161.8L235.2,162.2L235.9,162.6L236.5,162.9L237.2,163.3L237.9,163.7L238.6,164.0L239.3,164.3L240.0,164.6L240.7,164.9L241.5,165.1L242.2,165.3L243.0,165.6L243.7,165.7L244.5,165.9L245.2,166.1L246.0,166.3L246.8,166.5L247.6,166.7L248.4,166.9L249.3,167.1L250.1,167.2L250.9,167.4L251.6,167.6L252.2,167.7L252.7,167.8" fill="none" stroke="#2ed0e0" stroke-width="1.20"/>
<path d="M38.7,101.4L39.2,101.3L39.8,101.1L40.6,100.9L41.5,100.6L42.4,100.4L43.2,100.1L44.0,99.9L44.7,99.7L45.4,99.4L46.2,99.2L46.9,98.9L47.6,98.7L48.2,98.4L48.9,98.0L49.6,97.6L50.2,97.3L50.8,96.9L51.5,96.4L52.1,95.9L52.6,95.4L53.1,94.6L53.4,94.1L53.7,93.4L53.9,92.8L54.2,92.0L54.4,91.3L54.6,90.5L54.8,89.7L55.0,88.8L55.2,88.0L55.5,87.1L55.7,86.4L55.9,85.6L56.2,84.9L56.4,84.1L56.7,83.2L56.9,82.4L57.2,81.6L57.4,80.7L57.7,79.9L57.9,79.2L58.1,78.4L58.3,77.7L58.5,77.0L58.7,76.2L58.9,75.4L59.1,74.7L59.2,74.0L59.4,73.4L59.5,72.7L59.7,72.0L59.9,71.3L60.1,70.5L60.3,69.8L60.5,69.0L60.8,68.2L61.0,67.4L61.3,66.5L61.6,65.7L61.9,64.9L62.1,64.1L62.4,63.3L62.6,62.6L62.8,62.0L63.1,61.1L63.3,60.5L63.5,60.0L63.7,59.5L64.0,58.7L64.4,57.4L64.6,56.9L64.8,56.3L65.0,55.7L65.2,55.0L65.5,54.3L65.7,53.6L66.0,52.8L66.2,52.0L66.5,51.2L66.8,50.3L67.1,49.5L67.4,48.6L67.6,47.8L67.9,46.9L68.2,46.1L68.5,45.3L68.7,44.5L69.0,43.7L69.3,42.9L69.5,42.0L69.8,41.1L70.1,40.3L70.4,39.4L70.7,38.5L70.9,37.6L71.2,36.7L71.5,35.8L71.8,35.0L72.0,34.1L72.3,33.3L72.5,32.6L72.8,31.8L73.0,31.2L73.3,30.5L73.5,29.9L74.0,28.6L74.5,27.5L74.9,26.5L75.3,25.8L75.7,25.2L76.1,24.8L76.5,24.7L76.9,24.8L77.2,25.2L77.6,25.9L77.9,26.7L78.3,27.6L78.6,28.7L79.0,29.9L79.2,30.5L79.4,31.1L79.6,31.8L79.8,32.5L80.1,33.3L80.3,34.1L80.5,34.9L80.7,35.8L81.0,36.6L81.2,37.5L81.4,38.4L81.6,39.4L81.8,40.3L82.0,41.3L82.1,42.0L82.3,42.8L82.4,43.6L82.5,44.4L82.6,45.2L82.7,46.1L82.9,46.9L83.0,47.8L83.1,48.7L83.2,49.6L83.3,50.4L83.4,51.3L83.5,52.2L83.6,53.1L83.8,53.9L83.9,54.7L84.0,55.6L84.2,56.4L84.3,57.1L84.5,58.0L84.7,58.9L84.8,59.7L85.0,60.5L85.2,61.3L85.4,62.1L85.6,62.9L85.8,63.6L86.1,64.4L86.3,65.2L86.5,65.9L86.7,66.7L86.9,67.5L87.1,68.3L87.3,69.1L87.5,69.9L87.7,70.7L87.9,71.4L88.1,72.1L88.2,72.9L88.4,73.6L88.6,74.3L88.8,75.0L89.0,75.7L89.2,76.5L89.4,77.2L89.5,78.0L89.7,78.9L89.9,79.7L90.1,80.6L90.3,81.6L90.5,82.6L90.7,83.7L90.8,84.3L90.9,85.0L91.1,85.7L91.2,86.4L91.3,87.2L91.4,87.9L91.5,88.7L91.7,89.5L91.8,90.3L91.9,91.1L92.1,91.9L92.2,92.7L92.3,93.6L92.4,94.4L92.6,95.3L92.7,96.2L92.8,97.0L92.9,97.9L93.1,98.8L93.2,99.6L93.3,100.5L93.4,101.4L93.5,102.2L93.7,103.1L93.8,104.0L93.9,104.8L94.0,105.6L94.1,106.5L94.2,107.3L94.3,108.1L94.4,108.9L94.5,109.8L94.6,110.6L94.7,111.5L94.8,112.3L94.9,113.2L94.9,114.0L95.0,114.9L95.1,115.7L95.2,116.6L95.3,117.4L95.4,118.3L95.4,119.1L95.5,120.0L95.6,120.8L95.7,121.7L95.8,122.5L95.8,123.3L95.9,124.1L96.0,124.9L96.1,125.7L96.1,126.5L96.2,127.3L96.3,128.1L96.4,128.8L96.4,129.6L96.5,130.3L96.6,131.0L96.7,132.0L96.8,132.9L96.9,133.9L97.0,134.8L97.1,135.7L97.3,136.6L97.4,137.5L97.5,138.4L97.6,139.3L97.7,140.1L97.8,140.9L97.9,141.7L98.0,142.5L98.1,143.3L98.2,144.0L98.3,144.8L98.4,145.5L98.5,146.1L98.6,146.8L98.7,147.4L98.8,148.0L99.0,149.2L99.2,150.2L99.3,151.1L99.5,151.9L99.6,152.6L99.8,153.2L100.0,153.8L100.2,154.4L100.4,154.9L100.6,155.5L101.0,156.4L101.5,157.2L102.1,157.8L102.6,158.4L103.2,158.9L103.7,159.4L104.3,159.9L105.0,160.2L105.6,160.5L106.3,160.7L107.0,161.0L107.6,161.3L108.2,161.5L108.9,161.7L109.7,161.9L110.8,162.2L111.4,162.3L112.0,162.5L112.7,162.6L113.5,162.8L114.2,162.9L115.0,163.1L115.9,163.2L116.7,163.4L117.6,163.5L118.4,163.6L119.2,163.7L120.0,163.7L120.8,163.7L121.6,163.6L122.3,163.5L123.1,163.4L123.9,163.3L124.7,163.1L125.5,163.0L126.3,162.8L127.0,162.7L127.8,162.6L128.6,162.6L129.4,162.6L130.2,162.7L131.0,162.8L131.8,162.9L132.6,163.1L133.4,163.3L134.3,163.5L135.1,163.7L135.9,164.0L136.7,164.1L137.4,164.3L138.2,164.4L138.9,164.5L139.7,164.5L140.5,164.5L141.3,164.4L142.0,164.2L142.7,164.1L143.4,164.0L144.1,163.8L144.9,163.7L145.7,163.7L146.5,163.7L147.2,163.8L147.9,163.9L148.5,164.0L149.2,164.2L149.9,164.3L150.6,164.5L151.3,164.7L152.1,164.9L153.0,165.1L153.9,165.3L155.0,165.5L156.1,165.6L156.7,165.7L157.4,165.8L158.2,165.8L158.9,165.9L159.7,166.0L160.5,166.1L161.4,166.2L162.3,166.3L163.1,166.3L164.0,166.4L165.0,166.5L165.9,166.6L166.8,166.7L167.7,166.7L168.6,166.8L169.5,166.8L170.4,166.9L171.2,166.9L172.1,167.0L172.9,167.0L173.7,167.0L174.5,167.0L175.2,167.0L176.1,167.0L177.0,166.9L177.9,166.8L178.8,166.7L179.6,166.6L180.4,166.4L181.2,166.2L181.9,166.1L182.7,165.9L183.4,165.7L184.2,165.6L184.9,165.4L185.7,165.3L186.4,165.1L187.2,165.0L187.9,165.0L188.7,164.9L189.5,164.9L190.4,164.9L191.3,164.9L192.2,164.9L193.1,164.9L194.0,165.0L194.9,165.0L195.8,165.1L196.6,165.2L197.5,165.2L198.3,165.3L199.1,165.4L199.8,165.4L200.5,165.5L201.2,165.6L201.8,165.6L203.0,165.7L203.9,165.8L204.7,165.9L205.3,165.9L205.9,166.0L206.4,166.0L207.0,166.0L207.8,165.9L208.5,165.9L209.2,165.7L209.8,165.4L210.5,165.0L211.0,164.6L211.5,164.0L212.0,163.4L212.5,162.7L213.0,162.0L213.5,161.2L214.0,160.5L214.4,159.9L214.8,159.2L215.2,158.4L215.6,157.7L216.0,156.9L216.4,156.2L216.8,155.5L217.2,154.9L217.5,154.3L218.2,153.5L218.8,152.9L219.4,152.5L220.0,152.1L220.8,151.8L221.5,151.7L222.2,151.7L223.0,151.9L223.7,152.2L224.5,152.6L225.0,153.1L225.5,153.6L226.0,154.2L226.5,154.8L227.0,155.4L227.5,155.9L227.9,156.4L228.4,157.0L228.9,157.5L229.4,158.1L230.0,158.6L230.5,159.1L231.0,159.5L231.5,159.9L232.1,160.4L232.7,160.8L233.3,161.2L234.0,161.6L234.6,162.0L235.2,162.3L235.9,162.6L236.5,163.0L237.2,163.3L237.9,163.7L238.6,164.0L239.3,164.3L240.0,164.6L240.7,164.9L241.5,165.1L242.2,165.3L243.0,165.6L243.7,165.7L244.5,165.9L245.2,166.1L246.0,166.3L246.8,166.5L247.6,166.7L248.4,166.9L249.3,167.1L250.1,167.2L250.9,167.4L251.6,167.6L252.2,167.7L252.7,167.8" fill="none" stroke="#a88080" stroke-width="1.20"/>
<path d="M38.7,101.8L39.2,101.7L39.8,101.5L40.6,101.3L41.5,101.0L42.4,100.8L43.2,100.5L44.0,100.3L44.7,100.1L45.4,99.8L46.2,99.6L46.9,99.3L47.6,99.0L48.2,98.7L48.9,98.3L49.6,97.9L50.2,97.5L50.8,97.1L51.5,96.6L52.1,96.1L52.6,95.5L53.1,94.8L53.4,94.2L53.7,93.6L53.9,92.9L54.2,92.2L54.4,91.4L54.6,90.6L54.8,89.8L55.0,88.9L55.2,88.0L55.5,87.2L55.7,86.4L55.9,85.7L56.2,84.9L56.4,84.1L56.7,83.3L56.9,82.5L57.2,81.6L57.4,80.8L57.7,80.0L57.9,79.2L58.1,78.4L58.3,77.7L58.5,77.1L58.7,76.2L58.9,75.4L59.1,74.7L59.2,74.0L59.4,73.4L59.5,72.7L59.7,72.0L59.9,71.3L60.1,70.5L60.3,69.8L60.5,69.0L60.8,68.2L61.0,67.4L61.3,66.5L61.6,65.7L61.9,64.9L62.1,64.1L62.4,63.3L62.6,62.6L62.8,62.0L63.1,61.1L63.3,60.5L63.5,60.0L63.7,59.4L64.0,58.6L64.4,57.4L64.6,56.9L64.8,56.3L65.0,55.6L65.2,54.9L65.5,54.2L65.7,53.5L66.0,52.7L66.2,51.9L66.5,51.0L66.8,50.2L67.1,49.3L67.4,48.5L67.6,47.6L67.9,46.7L68.2,45.9L68.5,45.0L68.7,44.2L69.0,43.4L69.3,42.5L69.5,41.6L69.8,40.7L70.1,39.8L70.4,38.9L70.7,38.0L70.9,37.1L71.2,36.1L71.5,35.2L71.8,34.3L72.0,33.5L72.3,32.6L72.5,31.8L72.8,31.1L73.0,30.4L73.3,29.7L73.5,29.1L74.0,27.7L74.5,26.6L74.9,25.6L75.3,24.8L75.7,24.2L76.1,23.8L76.5,23.7L76.9,23.8L77.2,24.3L77.6,24.9L77.9,25.7L78.3,26.7L78.6,27.8L79.0,29.0L79.2,29.6L79.4,30.3L79.6,31.0L79.8,31.7L80.1,32.5L80.3,33.3L80.5,34.2L80.7,35.1L81.0,36.0L81.2,36.9L81.4,37.8L81.6,38.8L81.8,39.8L82.0,40.8L82.1,41.5L82.3,42.3L82.4,43.1L82.5,43.9L82.6,44.8L82.7,45.6L82.9,46.5L83.0,47.4L83.1,48.3L83.2,49.2L83.3,50.1L83.4,51.0L83.5,51.8L83.6,52.7L83.8,53.6L83.9,54.4L84.0,55.2L84.2,56.1L84.3,56.8L84.5,57.7L84.7,58.6L84.8,59.5L85.0,60.3L85.2,61.1L85.4,61.9L85.6,62.7L85.8,63.5L86.1,64.3L86.3,65.0L86.5,65.8L86.7,66.6L86.9,67.4L87.1,68.2L87.3,69.0L87.5,69.8L87.7,70.6L87.9,71.3L88.1,72.1L88.2,72.8L88.4,73.5L88.6,74.2L88.8,75.0L89.0,75.7L89.2,76.4L89.4,77.2L89.5,78.0L89.7,78.8L89.9,79.7L90.1,80.6L90.3,81.6L90.5,82.6L90.7,83.7L90.8,84.3L90.9,85.0L91.1,85.7L91.2,86.4L91.3,87.2L91.4,87.9L91.5,88.7L91.7,89.5L91.8,90.3L91.9,91.1L92.1,91.9L92.2,92.7L92.3,93.6L92.4,94.4L92.6,95.3L92.7,96.2L92.8,97.0L92.9,97.9L93.1,98.8L93.2,99.6L93.3,100.5L93.4,101.4L93.5,102.2L93.7,103.1L93.8,104.0L93.9,104.8L94.0,105.6L94.1,106.5L94.2,107.3L94.3,108.1L94.4,108.9L94.5,109.8L94.6,110.6L94.7,111.5L94.8,112.3L94.9,113.2L94.9,114.0L95.0,114.9L95.1,115.7L95.2,116.6L95.3,117.4L95.4,118.3L95.4,119.1L95.5,120.0L95.6,120.8L95.7,121.7L95.8,122.5L95.8,123.3L95.9,124.1L96.0,124.9L96.1,125.7L96.1,126.5L96.2,127.3L96.3,128.1L96.4,128.8L96.4,129.6L96.5,130.3L96.6,131.0L96.7,132.0L96.8,132.9L96.9,133.9L97.0,134.8L97.1,135.7L97.3,136.6L97.4,137.5L97.5,138.4L97.6,139.3L97.7,140.1L97.8,140.9L97.9,141.7L98.0,142.5L98.1,143.3L98.2,144.0L98.3,144.8L98.4,145.5L98.5,146.1L98.6,146.8L98.7,147.4L98.8,148.0L99.0,149.2L99.2,150.2L99.3,151.1L99.5,151.9L99.6,152.6L99.8,153.2L100.0,153.8L100.2,154.4L100.4,154.9L100.6,155.5L101.0,156.4L101.5,157.2L102.1,157.8L102.6,158.4L103.2,158.9L103.7,159.4L104.3,159.9L105.0,160.2L105.6,160.5L106.3,160.7L107.0,161.0L107.6,161.3L108.2,161.5L108.9,161.7L109.7,161.9L110.8,162.2L111.4,162.3L112.0,162.5L112.7,162.6L113.5,162.8L114.2,162.9L115.0,163.1L115.9,163.2L116.7,163.4L117.6,163.5L118.4,163.6L119.2,163.7L120.0,163.7L120.8,163.7L121.6,163.6L122.3,163.5L123.1,163.4L123.9,163.3L124.7,163.1L125.5,163.0L126.3,162.8L127.0,162.7L127.8,162.6L128.6,162.6L129.4,162.6L130.2,162.7L131.0,162.8L131.8,162.9L132.6,163.1L133.4,163.3L134.3,163.5L135.1,163.7L135.9,164.0L136.7,164.1L137.4,164.3L138.2,164.4L138.9,164.5L139.7,164.5L140.5,164.5L141.3,164.4L142.0,164.2L142.7,164.1L143.4,164.0L144.1,163.8L144.9,163.7L145.7,163.7L146.5,163.7L147.2,163.8L147.9,163.9L148.5,164.0L149.2,164.2L149.9,164.3L150.6,164.5L151.3,164.7L152.1,164.9L153.0,165.1L153.9,165.3L155.0,165.5L156.1,165.6L156.7,165.7L157.4,165.8L158.2,165.8L158.9,165.9L159.7,166.0L160.5,166.1L161.4,166.2L162.3,166.3L163.1,166.3L164.0,166.4L165.0,166.5L165.9,166.6L166.8,166.7L167.7,166.7L168.6,166.8L169.5,166.8L170.4,166.9L171.2,166.9L172.1,167.0L172.9,167.0L173.7,167.0L174.5,167.0L175.2,167.0L176.1,167.0L177.0,166.9L177.9,166.8L178.8,166.7L179.6,166.6L180.4,166.4L181.2,166.2L181.9,166.1L182.7,165.9L183.4,165.7L184.2,165.6L184.9,165.4L185.7,165.3L186.4,165.1L187.2,165.0L187.9,165.0L188.7,164.9L189.5,164.9L190.4,164.9L191.3,164.9L192.2,164.9L193.1,164.9L194.0,165.0L194.9,165.0L195.8,165.1L196.6,165.2L197.5,165.2L198.3,165.3L199.1,165.4L199.8,165.4L200.5,165.5L201.2,165.6L201.8,165.6L203.0,165.7L203.9,165.8L204.7,165.9L205.3,165.9L205.9,166.0L206.4,166.0L207.0,166.0L207.8,165.9L208.5,165.9L209.2,165.7L209.8,165.4L210.5,165.0L211.0,164.6L211.5,164.0L212.0,163.4L212.5,162.7L213.0,162.0L213.5,161.2L214.0,160.5L214.4,159.8L214.8,159.1L215.2,158.4L215.6,157.6L216.0,156.8L216.4,156.1L216.8,155.4L217.2,154.7L217.5,154.2L218.2,153.3L218.8,152.6L219.4,152.1L220.0,151.8L220.8,151.4L221.5,151.2L222.2,151.3L223.0,151.4L223.7,151.7L224.5,152.3L225.0,152.8L225.5,153.3L226.0,154.0L226.5,154.6L227.0,155.3L227.5,155.8L227.9,156.4L228.4,157.0L228.9,157.6L229.4,158.1L230.0,158.7L230.5,159.2L231.0,159.6L231.5,160.1L232.1,160.5L232.7,161.0L233.3,161.4L234.0,161.8L234.6,162.1L235.2,162.4L235.9,162.7L236.5,163.0L237.2,163.4L237.9,163.7L238.6,164.0L239.3,164.3L240.0,164.6L240.7,164.9L241.5,165.1L242.2,165.3L243.0,165.6L243.7,165.7L244.5,165.9L245.2,166.1L246.0,166.3L246.8,166.5L247.6,166.7L248.4,166.9L249.3,167.1L250.1,167.2L250.9,167.4L251.6,167.6L252.2,167.7L252.7,167.8" fill="none" stroke="#a8a830" stroke-width="1.20"/>
<path d="M38.7,102.2L39.2,102.1L39.8,101.9L40.6,101.7L41.5,101.4L42.4,101.2L43.2,100.9L44.0,100.7L44.7,100.5L45.4,100.2L46.2,100.0L46.9,99.7L47.6,99.4L48.2,99.0L48.9,98.6L49.6,98.2L50.2,97.8L50.8,97.3L51.5,96.8L52.1,96.3L52.6,95.7L53.1,94.9L53.4,94.3L53.7,93.7L53.9,93.0L54.2,92.3L54.4,91.5L54.6,90.7L54.8,89.9L55.0,89.0L55.2,88.1L55.5,87.2L55.7,86.5L55.9,85.8L56.2,85.0L56.4,84.2L56.7,83.3L56.9,82.5L57.2,81.7L57.4,80.8L57.7,80.0L57.9,79.2L58.1,78.5L58.3,77.8L58.5,77.1L58.7,76.2L58.9,75.4L59.1,74.7L59.2,74.0L59.4,73.4L59.5,72.7L59.7,72.1L59.9,71.3L60.1,70.5L60.3,69.8L60.5,69.0L60.8,68.2L61.0,67.4L61.3,66.5L61.6,65.7L61.9,64.9L62.1,64.1L62.4,63.3L62.6,62.6L62.8,62.0L63.1,61.1L63.3,60.5L63.5,60.0L63.7,59.4L64.0,58.6L64.4,57.4L64.6,56.8L64.8,56.2L65.0,55.6L65.2,54.9L65.5,54.2L65.7,53.4L66.0,52.6L66.2,51.8L66.5,50.9L66.8,50.1L67.1,49.2L67.4,48.3L67.6,47.4L67.9,46.6L68.2,45.7L68.5,44.8L68.7,44.0L69.0,43.1L69.3,42.3L69.5,41.4L69.8,40.5L70.1,39.5L70.4,38.6L70.7,37.6L70.9,36.7L71.2,35.7L71.5,34.8L71.8,33.9L72.0,33.0L72.3,32.2L72.5,31.3L72.8,30.6L73.0,29.8L73.3,29.1L73.5,28.5L74.0,27.1L74.5,25.9L74.9,24.9L75.3,24.1L75.7,23.5L76.1,23.1L76.5,23.0L76.9,23.1L77.2,23.6L77.6,24.2L77.9,25.0L78.3,26.0L78.6,27.1L79.0,28.4L79.2,29.0L79.4,29.7L79.6,30.4L79.8,31.2L80.1,32.0L80.3,32.8L80.5,33.7L80.7,34.6L81.0,35.5L81.2,36.4L81.4,37.4L81.6,38.4L81.8,39.4L82.0,40.4L82.1,41.1L82.3,41.9L82.4,42.8L82.5,43.6L82.6,44.4L82.7,45.3L82.9,46.2L83.0,47.1L83.1,48.0L83.2,48.9L83.3,49.8L83.4,50.7L83.5,51.6L83.6,52.5L83.8,53.3L83.9,54.2L84.0,55.0L84.2,55.8L84.3,56.6L84.5,57.5L84.7,58.4L84.8,59.3L85.0,60.1L85.2,61.0L85.4,61.8L85.6,62.6L85.8,63.4L86.1,64.1L86.3,64.9L86.5,65.7L86.7,66.5L86.9,67.3L87.1,68.1L87.3,68.9L87.5,69.7L87.7,70.5L87.9,71.3L88.1,72.0L88.2,72.8L88.4,73.5L88.6,74.2L88.8,74.9L89.0,75.7L89.2,76.4L89.4,77.2L89.5,78.0L89.7,78.8L89.9,79.7L90.1,80.6L90.3,81.6L90.5,82.6L90.7,83.7L90.8,84.3L90.9,85.0L91.1,85.7L91.2,86.4L91.3,87.1L91.4,87.9L91.5,88.7L91.7,89.5L91.8,90.3L91.9,91.1L92.1,91.9L92.2,92.7L92.3,93.6L92.4,94.4L92.6,95.3L92.7,96.2L92.8,97.0L92.9,97.9L93.1,98.8L93.2,99.6L93.3,100.5L93.4,101.4L93.5,102.2L93.7,103.1L93.8,104.0L93.9,104.8L94.0,105.6L94.1,106.5L94.2,107.3L94.3,108.1L94.4,108.9L94.5,109.8L94.6,110.6L94.7,111.5L94.8,112.3L94.9,113.2L94.9,114.0L95.0,114.9L95.1,115.7L95.2,116.6L95.3,117.4L95.4,118.3L95.4,119.1L95.5,120.0L95.6,120.8L95.7,121.7L95.8,122.5L95.8,123.3L95.9,124.1L96.0,124.9L96.1,125.7L96.1,126.5L96.2,127.3L96.3,128.1L96.4,128.8L96.4,129.6L96.5,130.3L96.6,131.0L96.7,132.0L96.8,132.9L96.9,133.9L97.0,134.8L97.1,135.7L97.3,136.6L97.4,137.5L97.5,138.4L97.6,139.3L97.7,140.1L97.8,140.9L97.9,141.7L98.0,142.5L98.1,143.3L98.2,144.0L98.3,144.8L98.4,145.5L98.5,146.1L98.6,146.8L98.7,147.4L98.8,148.0L99.0,149.2L99.2,150.2L99.3,151.1L99.5,151.9L99.6,152.6L99.8,153.2L100.0,153.8L100.2,154.4L100.4,154.9L100.6,155.5L101.0,156.4L101.5,157.2L102.1,157.8L102.6,158.4L103.2,158.9L103.7,159.4L104.3,159.9L105.0,160.2L105.6,160.5L106.3,160.7L107.0,161.0L107.6,161.3L108.2,161.5L108.9,161.7L109.7,161.9L110.8,162.2L111.4,162.3L112.0,162.5L112.7,162.6L113.5,162.8L114.2,162.9L115.0,163.1L115.9,163.2L116.7,163.4L117.6,163.5L118.4,163.6L119.2,163.7L120.0,163.7L120.8,163.7L121.6,163.6L122.3,163.5L123.1,163.4L123.9,163.3L124.7,163.1L125.5,163.0L126.3,162.8L127.0,162.7L127.8,162.6L128.6,162.6L129.4,162.6L130.2,162.7L131.0,162.8L131.8,162.9L132.6,163.1L133.4,163.3L134.3,163.5L135.1,163.7L135.9,164.0L136.7,164.1L137.4,164.3L138.2,164.4L138.9,164.5L139.7,164.5L140.5,164.5L141.3,164.4L142.0,164.2L142.7,164.1L143.4,164.0L144.1,163.8L144.9,163.7L145.7,163.7L146.5,163.7L147.2,163.8L147.9,163.9L148.5,164.0L149.2,164.2L149.9,164.3L150.6,164.5L151.3,164.7L152.1,164.9L153.0,165.1L153.9,165.3L155.0,165.5L156.1,165.6L156.7,165.7L157.4,165.8L158.2,165.8L158.9,165.9L159.7,166.0L160.5,166.1L161.4,166.2L162.3,166.3L163.1,166.3L164.0,166.4L165.0,166.5L165.9,166.6L166.8,166.7L167.7,166.7L168.6,166.8L169.5,166.8L170.4,166.9L171.2,166.9L172.1,167.0L172.9,167.0L173.7,167.0L174.5,167.0L175.2,167.0L176.1,167.0L177.0,166.9L177.9,166.8L178.8,166.7L179.6,166.6L180.4,166.4L181.2,166.2L181.9,166.1L182.7,165.9L183.4,165.7L184.2,165.6L184.9,165.4L185.7,165.3L186.4,165.1L187.2,165.0L187.9,165.0L188.7,164.9L189.5,164.9L190.4,164.9L191.3,164.9L192.2,164.9L193.1,164.9L194.0,165.0L194.9,165.0L195.8,165.1L196.6,165.2L197.5,165.2L198.3,165.3L199.1,165.4L199.8,165.4L200.5,165.5L201.2,165.6L201.8,165.6L203.0,165.7L203.9,165.8L204.7,165.9L205.3,165.9L205.9,166.0L206.4,166.0L207.0,166.0L207.8,165.9L208.5,165.9L209.2,165.7L209.8,165.4L210.5,165.0L211.0,164.6L211.5,164.0L212.0,163.4L212.5,162.7L213.0,162.0L213.5,161.2L214.0,160.4L214.4,159.8L214.8,159.1L215.2,158.3L215.6,157.6L216.0,156.8L216.4,156.0L216.8,155.3L217.2,154.6L217.5,154.0L218.2,153.0L218.8,152.3L219.4,151.8L220.0,151.4L220.8,151.0L221.5,150.8L222.2,150.8L223.0,151.0L223.7,151.3L224.5,151.9L225.0,152.5L225.5,153.1L226.0,153.7L226.5,154.4L227.0,155.2L227.5,155.8L227.9,156.4L228.4,157.0L228.9,157.6L229.4,158.2L230.0,158.8L230.5,159.3L231.0,159.8L231.5,160.3L232.1,160.7L232.7,161.1L233.3,161.5L234.0,161.9L234.6,162.2L235.2,162.5L235.9,162.8L236.5,163.1L237.2,163.4L237.9,163.7L238.6,164.0L239.3,164.3L240.0,164.6L240.7,164.9L241.5,165.1L242.2,165.3L243.0,165.6L243.7,165.7L244.5,165.9L245.2,166.1L246.0,166.3L246.8,166.5L247.6,166.7L248.4,166.9L249.3,167.1L250.1,167.2L250.9,167.4L251.6,167.6L252.2,167.7L252.7,167.8" fill="none" stroke="#ff7f27" stroke-width="1.20"/>
<path d="M38.7,102.6L39.2,102.5L39.8,102.3L40.6,102.1L41.5,101.8L42.4,101.6L43.2,101.3L44.0,101.1L44.7,100.9L45.4,100.6L46.2,100.3L46.9,100.0L47.6,99.7L48.2,99.3L48.9,98.9L49.6,98.4L50.2,98.0L50.8,97.5L51.5,97.1L52.1,96.5L52.6,95.8L53.1,95.1L53.4,94.5L53.7,93.8L53.9,93.1L54.2,92.4L54.4,91.6L54.6,90.8L54.8,89.9L55.0,89.1L55.2,88.2L55.5,87.3L55.7,86.6L55.9,85.8L56.2,85.0L56.4,84.2L56.7,83.4L56.9,82.6L57.2,81.7L57.4,80.9L57.7,80.1L57.9,79.3L58.1,78.5L58.3,77.8L58.5,77.1L58.7,76.2L58.9,75.5L59.1,74.7L59.2,74.1L59.4,73.4L59.5,72.8L59.7,72.1L59.9,71.4L60.1,70.6L60.3,69.8L60.5,69.1L60.8,68.3L61.0,67.4L61.3,66.6L61.6,65.7L61.9,64.9L62.1,64.1L62.4,63.4L62.6,62.7L62.8,62.0L63.1,61.1L63.3,60.6L63.5,60.1L63.7,59.5L64.0,58.7L64.4,57.5L64.6,57.0L64.8,56.4L65.0,55.8L65.2,55.1L65.5,54.4L65.7,53.7L66.0,53.0L66.2,52.2L66.5,51.4L66.8,50.6L67.1,49.8L67.4,48.9L67.6,48.1L67.9,47.3L68.2,46.5L68.5,45.7L68.7,44.9L69.0,44.2L69.3,43.4L69.5,42.6L69.8,41.8L70.1,41.0L70.4,40.1L70.7,39.3L70.9,38.4L71.2,37.6L71.5,36.8L71.8,36.0L72.0,35.2L72.3,34.5L72.5,33.7L72.8,33.1L73.0,32.4L73.3,31.8L73.5,31.2L74.0,30.0L74.5,29.0L74.9,28.1L75.3,27.3L75.7,26.8L76.1,26.4L76.5,26.3L76.9,26.4L77.2,26.8L77.6,27.4L77.9,28.2L78.3,29.1L78.6,30.2L79.0,31.3L79.2,31.8L79.4,32.5L79.6,33.1L79.8,33.8L80.1,34.5L80.3,35.3L80.5,36.1L80.7,36.9L81.0,37.7L81.2,38.5L81.4,39.4L81.6,40.3L81.8,41.2L82.0,42.2L82.1,42.9L82.3,43.6L82.4,44.4L82.5,45.2L82.6,46.0L82.7,46.8L82.9,47.6L83.0,48.5L83.1,49.3L83.2,50.2L83.3,51.1L83.4,51.9L83.5,52.8L83.6,53.6L83.8,54.5L83.9,55.3L84.0,56.1L84.2,56.8L84.3,57.6L84.5,58.4L84.7,59.3L84.8,60.1L85.0,60.9L85.2,61.7L85.4,62.4L85.6,63.2L85.8,63.9L86.1,64.7L86.3,65.4L86.5,66.1L86.7,66.9L86.9,67.7L87.1,68.4L87.3,69.2L87.5,70.0L87.7,70.8L87.9,71.5L88.1,72.2L88.2,72.9L88.4,73.7L88.6,74.4L88.8,75.1L89.0,75.8L89.2,76.5L89.4,77.3L89.5,78.1L89.7,78.9L89.9,79.8L90.1,80.7L90.3,81.6L90.5,82.6L90.7,83.7L90.8,84.4L90.9,85.0L91.1,85.7L91.2,86.5L91.3,87.2L91.4,87.9L91.5,88.7L91.7,89.5L91.8,90.3L91.9,91.1L92.1,91.9L92.2,92.8L92.3,93.6L92.4,94.4L92.6,95.3L92.7,96.2L92.8,97.0L92.9,97.9L93.1,98.8L93.2,99.6L93.3,100.5L93.4,101.4L93.5,102.2L93.7,103.1L93.8,104.0L93.9,104.8L94.0,105.6L94.1,106.5L94.2,107.3L94.3,108.1L94.4,108.9L94.5,109.8L94.6,110.6L94.7,111.5L94.8,112.3L94.9,113.2L94.9,114.0L95.0,114.9L95.1,115.7L95.2,116.6L95.3,117.4L95.4,118.3L95.4,119.1L95.5,120.0L95.6,120.8L95.7,121.7L95.8,122.5L95.8,123.3L95.9,124.1L96.0,124.9L96.1,125.7L96.1,126.5L96.2,127.3L96.3,128.1L96.4,128.8L96.4,129.6L96.5,130.3L96.6,131.0L96.7,132.0L96.8,132.9L96.9,133.9L97.0,134.8L97.1,135.7L97.3,136.6L97.4,137.5L97.5,138.4L97.6,139.3L97.7,140.1L97.8,140.9L97.9,141.7L98.0,142.5L98.1,143.3L98.2,144.0L98.3,144.8L98.4,145.5L98.5,146.1L98.6,146.8L98.7,147.4L98.8,148.0L99.0,149.2L99.2,150.2L99.3,151.1L99.5,151.9L99.6,152.6L99.8,153.2L100.0,153.8L100.2,154.4L100.4,154.9L100.6,155.5L101.0,156.4L101.5,157.2L102.1,157.8L102.6,158.4L103.2,158.9L103.7,159.4L104.3,159.9L105.0,160.2L105.6,160.5L106.3,160.7L107.0,161.0L107.6,161.3L108.2,161.5L108.9,161.7L109.7,161.9L110.8,162.2L111.4,162.3L112.0,162.5L112.7,162.6L113.5,162.8L114.2,162.9L115.0,163.1L115.9,163.2L116.7,163.4L117.6,163.5L118.4,163.6L119.2,163.7L120.0,163.7L120.8,163.7L121.6,163.6L122.3,163.5L123.1,163.4L123.9,163.3L124.7,163.1L125.5,163.0L126.3,162.8L127.0,162.7L127.8,162.6L128.6,162.6L129.4,162.6L130.2,162.7L131.0,162.8L131.8,162.9L132.6,163.1L133.4,163.3L134.3,163.5L135.1,163.7L135.9,164.0L136.7,164.1L137.4,164.3L138.2,164.4L138.9,164.5L139.7,164.5L140.5,164.5L141.3,164.4L142.0,164.2L142.7,164.1L143.4,164.0L144.1,163.8L144.9,163.7L145.7,163.7L146.5,163.7L147.2,163.8L147.9,163.9L148.5,164.0L149.2,164.2L149.9,164.3L150.6,164.5L151.3,164.7L152.1,164.9L153.0,165.1L153.9,165.3L155.0,165.5L156.1,165.6L156.7,165.7L157.4,165.8L158.2,165.8L158.9,165.9L159.7,166.0L160.5,166.1L161.4,166.2L162.3,166.3L163.1,166.3L164.0,166.4L165.0,166.5L165.9,166.6L166.8,166.7L167.7,166.7L168.6,166.8L169.5,166.8L170.4,166.9L171.2,166.9L172.1,167.0L172.9,167.0L173.7,167.0L174.5,167.0L175.2,167.0L176.1,167.0L177.0,166.9L177.9,166.8L178.8,166.7L179.6,166.6L180.4,166.4L181.2,166.2L181.9,166.1L182.7,165.9L183.4,165.7L184.2,165.6L184.9,165.4L185.7,165.3L186.4,165.1L187.2,165.0L187.9,165.0L188.7,164.9L189.5,164.9L190.4,164.9L191.3,164.9L192.2,164.9L193.1,164.9L194.0,165.0L194.9,165.0L195.8,165.1L196.6,165.2L197.5,165.2L198.3,165.3L199.1,165.4L199.8,165.4L200.5,165.5L201.2,165.6L201.8,165.6L203.0,165.7L203.9,165.8L204.7,165.9L205.3,165.9L205.9,166.0L206.4,166.0L207.0,166.0L207.8,165.9L208.5,165.9L209.2,165.7L209.8,165.4L210.5,165.0L211.0,164.6L211.5,164.0L212.0,163.4L212.5,162.7L213.0,162.0L213.5,161.2L214.0,160.4L214.4,159.8L214.8,159.1L215.2,158.3L215.6,157.5L216.0,156.7L216.4,155.9L216.8,155.2L217.2,154.5L217.5,153.9L218.2,152.8L218.8,152.1L219.4,151.5L220.0,151.0L220.8,150.6L221.5,150.3L222.2,150.3L223.0,150.5L223.7,150.9L224.5,151.6L225.0,152.1L225.5,152.8L226.0,153.5L226.5,154.3L227.0,155.0L227.5,155.7L227.9,156.3L228.4,157.0L228.9,157.6L229.4,158.3L230.0,158.9L230.5,159.4L231.0,159.9L231.5,160.4L232.1,160.9L232.7,161.3L233.3,161.7L234.0,162.0L234.6,162.3L235.2,162.6L235.9,162.8L236.5,163.1L237.2,163.4L237.9,163.7L238.6,164.0L239.3,164.3L240.0,164.6L240.7,164.9L241.5,165.1L242.2,165.3L243.0,165.6L243.7,165.7L244.5,165.9L245.2,166.1L246.0,166.3L246.8,166.5L247.6,166.7L248.4,166.9L249.3,167.1L250.1,167.2L250.9,167.4L251.6,167.6L252.2,167.7L252.7,167.8" fill="none" stroke="#74aee0" stroke-width="1.20"/>
<path d="M38.7,103.0L39.2,102.9L39.8,102.7L40.6,102.5L41.5,102.2L42.4,102.0L43.2,101.7L44.0,101.5L44.7,101.3L45.4,101.0L46.2,100.7L46.9,100.4L47.6,100.0L48.2,99.6L48.9,99.2L49.6,98.7L50.2,98.3L50.8,97.8L51.5,97.3L52.1,96.7L52.6,96.0L53.1,95.2L53.4,94.6L53.7,93.9L53.9,93.2L54.2,92.5L54.4,91.7L54.6,90.9L54.8,90.0L55.0,89.2L55.2,88.3L55.5,87.4L55.7,86.7L55.9,85.9L56.2,85.1L56.4,84.3L56.7,83.5L56.9,82.6L57.2,81.8L57.4,80.9L57.7,80.1L57.9,79.3L58.1,78.5L58.3,77.8L58.5,77.1L58.7,76.3L58.9,75.5L59.1,74.8L59.2,74.1L59.4,73.4L59.5,72.8L59.7,72.1L59.9,71.4L60.1,70.6L60.3,69.9L60.5,69.1L60.8,68.3L61.0,67.4L61.3,66.6L61.6,65.7L61.9,64.9L62.1,64.1L62.4,63.3L62.6,62.6L62.8,62.0L63.1,61.1L63.3,60.5L63.5,60.0L63.7,59.5L64.0,58.7L64.4,57.5L64.6,56.9L64.8,56.4L65.0,55.7L65.2,55.1L65.5,54.3L65.7,53.6L66.0,52.8L66.2,52.0L66.5,51.2L66.8,50.4L67.1,49.6L67.4,48.7L67.6,47.9L67.9,47.0L68.2,46.2L68.5,45.4L68.7,44.6L69.0,43.8L69.3,43.0L69.5,42.2L69.8,41.3L70.1,40.4L70.4,39.6L70.7,38.7L70.9,37.8L71.2,36.9L71.5,36.1L71.8,35.2L72.0,34.4L72.3,33.6L72.5,32.9L72.8,32.1L73.0,31.5L73.3,30.8L73.5,30.3L74.0,29.0L74.5,27.9L74.9,26.9L75.3,26.1L75.7,25.6L76.1,25.2L76.5,25.1L76.9,25.2L77.2,25.6L77.6,26.2L77.9,27.0L78.3,28.0L78.6,29.1L79.0,30.2L79.2,30.8L79.4,31.5L79.6,32.1L79.8,32.9L80.1,33.6L80.3,34.4L80.5,35.2L80.7,36.0L81.0,36.9L81.2,37.8L81.4,38.7L81.6,39.6L81.8,40.6L82.0,41.5L82.1,42.2L82.3,43.0L82.4,43.8L82.5,44.6L82.6,45.4L82.7,46.3L82.9,47.1L83.0,48.0L83.1,48.9L83.2,49.7L83.3,50.6L83.4,51.5L83.5,52.3L83.6,53.2L83.8,54.0L83.9,54.9L84.0,55.7L84.2,56.5L84.3,57.2L84.5,58.1L84.7,59.0L84.8,59.8L85.0,60.6L85.2,61.4L85.4,62.2L85.6,62.9L85.8,63.7L86.1,64.5L86.3,65.2L86.5,66.0L86.7,66.8L86.9,67.5L87.1,68.3L87.3,69.1L87.5,69.9L87.7,70.7L87.9,71.4L88.1,72.2L88.2,72.9L88.4,73.6L88.6,74.3L88.8,75.0L89.0,75.8L89.2,76.5L89.4,77.3L89.5,78.1L89.7,78.9L89.9,79.7L90.1,80.7L90.3,81.6L90.5,82.6L90.7,83.7L90.8,84.3L90.9,85.0L91.1,85.7L91.2,86.4L91.3,87.2L91.4,87.9L91.5,88.7L91.7,89.5L91.8,90.3L91.9,91.1L92.1,91.9L92.2,92.8L92.3,93.6L92.4,94.4L92.6,95.3L92.7,96.2L92.8,97.0L92.9,97.9L93.1,98.8L93.2,99.6L93.3,100.5L93.4,101.4L93.5,102.2L93.7,103.1L93.8,104.0L93.9,104.8L94.0,105.6L94.1,106.5L94.2,107.3L94.3,108.1L94.4,108.9L94.5,109.8L94.6,110.6L94.7,111.5L94.8,112.3L94.9,113.2L94.9,114.0L95.0,114.9L95.1,115.7L95.2,116.6L95.3,117.4L95.4,118.3L95.4,119.1L95.5,120.0L95.6,120.8L95.7,121.7L95.8,122.5L95.8,123.3L95.9,124.1L96.0,124.9L96.1,125.7L96.1,126.5L96.2,127.3L96.3,128.1L96.4,128.8L96.4,129.6L96.5,130.3L96.6,131.0L96.7,132.0L96.8,132.9L96.9,133.9L97.0,134.8L97.1,135.7L97.3,136.6L97.4,137.5L97.5,138.4L97.6,139.3L97.7,140.1L97.8,140.9L97.9,141.7L98.0,142.5L98.1,143.3L98.2,144.0L98.3,144.8L98.4,145.5L98.5,146.1L98.6,146.8L98.7,147.4L98.8,148.0L99.0,149.2L99.2,150.2L99.3,151.1L99.5,151.9L99.6,152.6L99.8,153.2L100.0,153.8L100.2,154.4L100.4,154.9L100.6,155.5L101.0,156.4L101.5,157.2L102.1,157.8L102.6,158.4L103.2,158.9L103.7,159.4L104.3,159.9L105.0,160.2L105.6,160.5L106.3,160.7L107.0,161.0L107.6,161.3L108.2,161.5L108.9,161.7L109.7,161.9L110.8,162.2L111.4,162.3L112.0,162.5L112.7,162.6L113.5,162.8L114.2,162.9L115.0,163.1L115.9,163.2L116.7,163.4L117.6,163.5L118.4,163.6L119.2,163.7L120.0,163.7L120.8,163.7L121.6,163.6L122.3,163.5L123.1,163.4L123.9,163.3L124.7,163.1L125.5,163.0L126.3,162.8L127.0,162.7L127.8,162.6L128.6,162.6L129.4,162.6L130.2,162.7L131.0,162.8L131.8,162.9L132.6,163.1L133.4,163.3L134.3,163.5L135.1,163.7L135.9,164.0L136.7,164.1L137.4,164.3L138.2,164.4L138.9,164.5L139.7,164.5L140.5,164.5L141.3,164.4L142.0,164.2L142.7,164.1L143.4,164.0L144.1,163.8L144.9,163.7L145.7,163.7L146.5,163.7L147.2,163.8L147.9,163.9L148.5,164.0L149.2,164.2L149.9,164.3L150.6,164.5L151.3,164.7L152.1,164.9L153.0,165.1L153.9,165.3L155.0,165.5L156.1,165.6L156.7,165.7L157.4,165.8L158.2,165.8L158.9,165.9L159.7,166.0L160.5,166.1L161.4,166.2L162.3,166.3L163.1,166.3L164.0,166.4L165.0,166.5L165.9,166.6L166.8,166.7L167.7,166.7L168.6,166.8L169.5,166.8L170.4,166.9L171.2,166.9L172.1,167.0L172.9,167.0L173.7,167.0L174.5,167.0L175.2,167.0L176.1,167.0L177.0,166.9L177.9,166.8L178.8,166.7L179.6,166.6L180.4,166.4L181.2,166.2L181.9,166.1L182.7,165.9L183.4,165.7L184.2,165.6L184.9,165.4L185.7,165.3L186.4,165.1L187.2,165.0L187.9,165.0L188.7,164.9L189.5,164.9L190.4,164.9L191.3,164.9L192.2,164.9L193.1,164.9L194.0,165.0L194.9,165.0L195.8,165.1L196.6,165.2L197.5,165.2L198.3,165.3L199.1,165.4L199.8,165.4L200.5,165.5L201.2,165.6L201.8,165.6L203.0,165.7L203.9,165.8L204.7,165.9L205.3,165.9L205.9,166.0L206.4,166.0L207.0,166.0L207.8,165.9L208.5,165.9L209.2,165.7L209.8,165.4L210.5,165.0L211.0,164.5L211.5,164.0L212.0,163.4L212.5,162.7L213.0,162.0L213.5,161.2L214.0,160.4L214.4,159.8L214.8,159.0L215.2,158.3L215.6,157.4L216.0,156.6L216.4,155.8L216.8,155.0L217.2,154.3L217.5,153.7L218.2,152.6L218.8,151.8L219.4,151.2L220.0,150.7L220.8,150.1L221.5,149.9L222.2,149.9L223.0,150.1L223.7,150.5L224.5,151.2L225.0,151.8L225.5,152.5L226.0,153.3L226.5,154.1L227.0,154.9L227.5,155.6L227.9,156.3L228.4,157.0L228.9,157.7L229.4,158.4L230.0,159.0L230.5,159.6L231.0,160.1L231.5,160.6L232.1,161.0L232.7,161.4L233.3,161.8L234.0,162.1L234.6,162.4L235.2,162.6L235.9,162.9L236.5,163.2L237.2,163.5L237.9,163.8L238.6,164.1L239.3,164.3L240.0,164.6L240.7,164.9L241.5,165.1L242.2,165.4L243.0,165.6L243.7,165.7L244.5,165.9L245.2,166.1L246.0,166.3L246.8,166.5L247.6,166.7L248.4,166.9L249.3,167.1L250.1,167.2L250.9,167.4L251.6,167.6L252.2,167.7L252.7,167.8" fill="none" stroke="#7dcc3a" stroke-width="1.20"/>
<path d="M38.7,103.4L39.2,103.3L39.8,103.1L40.6,102.9L41.5,102.6L42.4,102.4L43.2,102.1L44.0,101.9L44.7,101.7L45.4,101.4L46.2,101.1L46.9,100.8L47.6,100.4L48.2,100.0L48.9,99.5L49.6,99.0L50.2,98.5L50.8,98.0L51.5,97.5L52.1,96.8L52.6,96.2L53.1,95.4L53.4,94.7L53.7,94.1L53.9,93.4L54.2,92.6L54.4,91.8L54.6,91.0L54.8,90.1L55.0,89.3L55.2,88.4L55.5,87.5L55.7,86.7L55.9,86.0L56.2,85.2L56.4,84.3L56.7,83.5L56.9,82.7L57.2,81.8L57.4,81.0L57.7,80.1L57.9,79.3L58.1,78.6L58.3,77.9L58.5,77.2L58.7,76.3L58.9,75.5L59.1,74.8L59.2,74.1L59.4,73.5L59.5,72.8L59.7,72.1L59.9,71.4L60.1,70.6L60.3,69.9L60.5,69.1L60.8,68.3L61.0,67.4L61.3,66.6L61.6,65.7L61.9,64.9L62.1,64.1L62.4,63.3L62.6,62.6L62.8,62.0L63.1,61.1L63.3,60.5L63.5,60.0L63.7,59.5L64.0,58.7L64.4,57.4L64.6,56.9L64.8,56.3L65.0,55.7L65.2,55.0L65.5,54.3L65.7,53.5L66.0,52.8L66.2,52.0L66.5,51.1L66.8,50.3L67.1,49.5L67.4,48.6L67.6,47.7L67.9,46.9L68.2,46.1L68.5,45.2L68.7,44.4L69.0,43.6L69.3,42.8L69.5,41.9L69.8,41.1L70.1,40.2L70.4,39.3L70.7,38.4L70.9,37.5L71.2,36.6L71.5,35.7L71.8,34.9L72.0,34.0L72.3,33.2L72.5,32.4L72.8,31.7L73.0,31.0L73.3,30.3L73.5,29.8L74.0,28.5L74.5,27.3L74.9,26.3L75.3,25.6L75.7,25.0L76.1,24.6L76.5,24.5L76.9,24.6L77.2,25.0L77.6,25.7L77.9,26.5L78.3,27.4L78.6,28.5L79.0,29.7L79.2,30.3L79.4,31.0L79.6,31.6L79.8,32.4L80.1,33.1L80.3,33.9L80.5,34.8L80.7,35.6L81.0,36.5L81.2,37.4L81.4,38.3L81.6,39.3L81.8,40.2L82.0,41.2L82.1,41.9L82.3,42.7L82.4,43.5L82.5,44.3L82.6,45.1L82.7,46.0L82.9,46.9L83.0,47.7L83.1,48.6L83.2,49.5L83.3,50.4L83.4,51.3L83.5,52.1L83.6,53.0L83.8,53.8L83.9,54.7L84.0,55.5L84.2,56.3L84.3,57.1L84.5,58.0L84.7,58.8L84.8,59.7L85.0,60.5L85.2,61.3L85.4,62.1L85.6,62.8L85.8,63.6L86.1,64.4L86.3,65.1L86.5,65.9L86.7,66.7L86.9,67.5L87.1,68.2L87.3,69.1L87.5,69.9L87.7,70.6L87.9,71.4L88.1,72.1L88.2,72.8L88.4,73.6L88.6,74.3L88.8,75.0L89.0,75.7L89.2,76.5L89.4,77.2L89.5,78.0L89.7,78.9L89.9,79.7L90.1,80.6L90.3,81.6L90.5,82.6L90.7,83.7L90.8,84.3L90.9,85.0L91.1,85.7L91.2,86.4L91.3,87.2L91.4,87.9L91.5,88.7L91.7,89.5L91.8,90.3L91.9,91.1L92.1,91.9L92.2,92.7L92.3,93.6L92.4,94.4L92.6,95.3L92.7,96.2L92.8,97.0L92.9,97.9L93.1,98.8L93.2,99.6L93.3,100.5L93.4,101.4L93.5,102.2L93.7,103.1L93.8,104.0L93.9,104.8L94.0,105.6L94.1,106.5L94.2,107.3L94.3,108.1L94.4,108.9L94.5,109.8L94.6,110.6L94.7,111.5L94.8,112.3L94.9,113.2L94.9,114.0L95.0,114.9L95.1,115.7L95.2,116.6L95.3,117.4L95.4,118.3L95.4,119.1L95.5,120.0L95.6,120.8L95.7,121.7L95.8,122.5L95.8,123.3L95.9,124.1L96.0,124.9L96.1,125.7L96.1,126.5L96.2,127.3L96.3,128.1L96.4,128.8L96.4,129.6L96.5,130.3L96.6,131.0L96.7,132.0L96.8,132.9L96.9,133.9L97.0,134.8L97.1,135.7L97.3,136.6L97.4,137.5L97.5,138.4L97.6,139.3L97.7,140.1L97.8,140.9L97.9,141.7L98.0,142.5L98.1,143.3L98.2,144.0L98.3,144.8L98.4,145.5L98.5,146.1L98.6,146.8L98.7,147.4L98.8,148.0L99.0,149.2L99.2,150.2L99.3,151.1L99.5,151.9L99.6,152.6L99.8,153.2L100.0,153.8L100.2,154.4L100.4,154.9L100.6,155.5L101.0,156.4L101.5,157.2L102.1,157.8L102.6,158.4L103.2,158.9L103.7,159.4L104.3,159.9L105.0,160.2L105.6,160.5L106.3,160.7L107.0,161.0L107.6,161.3L108.2,161.5L108.9,161.7L109.7,161.9L110.8,162.2L111.4,162.3L112.0,162.5L112.7,162.6L113.5,162.8L114.2,162.9L115.0,163.1L115.9,163.2L116.7,163.4L117.6,163.5L118.4,163.6L119.2,163.7L120.0,163.7L120.8,163.7L121.6,163.6L122.3,163.5L123.1,163.4L123.9,163.3L124.7,163.1L125.5,163.0L126.3,162.8L127.0,162.7L127.8,162.6L128.6,162.6L129.4,162.6L130.2,162.7L131.0,162.8L131.8,162.9L132.6,163.1L133.4,163.3L134.3,163.5L135.1,163.7L135.9,164.0L136.7,164.1L137.4,164.3L138.2,164.4L138.9,164.5L139.7,164.5L140.5,164.5L141.3,164.4L142.0,164.2L142.7,164.1L143.4,164.0L144.1,163.8L144.9,163.7L145.7,163.7L146.5,163.7L147.2,163.8L147.9,163.9L148.5,164.0L149.2,164.2L149.9,164.3L150.6,164.5L151.3,164.7L152.1,164.9L153.0,165.1L153.9,165.3L155.0,165.5L156.1,165.6L156.7,165.7L157.4,165.8L158.2,165.8L158.9,165.9L159.7,166.0L160.5,166.1L161.4,166.2L162.3,166.3L163.1,166.3L164.0,166.4L165.0,166.5L165.9,166.6L166.8,166.7L167.7,166.7L168.6,166.8L169.5,166.8L170.4,166.9L171.2,166.9L172.1,167.0L172.9,167.0L173.7,167.0L174.5,167.0L175.2,167.0L176.1,167.0L177.0,166.9L177.9,166.8L178.8,166.7L179.6,166.6L180.4,166.4L181.2,166.2L181.9,166.1L182.7,165.9L183.4,165.7L184.2,165.6L184.9,165.4L185.7,165.3L186.4,165.1L187.2,165.0L187.9,165.0L188.7,164.9L189.5,164.9L190.4,164.9L191.3,164.9L192.2,164.9L193.1,164.9L194.0,165.0L194.9,165.0L195.8,165.1L196.6,165.2L197.5,165.2L198.3,165.3L199.1,165.4L199.8,165.4L200.5,165.5L201.2,165.6L201.8,165.6L203.0,165.7L203.9,165.8L204.7,165.9L205.3,165.9L205.9,166.0L206.4,166.0L207.0,166.0L207.8,165.9L208.5,165.9L209.2,165.7L209.8,165.4L210.5,165.0L211.0,164.5L211.5,164.0L212.0,163.4L212.5,162.7L213.0,162.0L213.5,161.2L214.0,160.4L214.4,159.7L214.8,159.0L215.2,158.2L215.6,157.4L216.0,156.6L216.4,155.7L216.8,154.9L217.2,154.2L217.5,153.6L218.2,152.4L218.8,151.5L219.4,150.9L220.0,150.3L220.8,149.7L221.5,149.4L222.2,149.4L223.0,149.6L223.7,150.1L224.5,150.9L225.0,151.5L225.5,152.3L226.0,153.1L226.5,153.9L227.0,154.8L227.5,155.5L227.9,156.3L228.4,157.0L228.9,157.7L229.4,158.4L230.0,159.1L230.5,159.7L231.0,160.2L231.5,160.7L232.1,161.2L232.7,161.6L233.3,162.0L234.0,162.3L234.6,162.5L235.2,162.7L235.9,163.0L236.5,163.2L237.2,163.5L237.9,163.8L238.6,164.1L239.3,164.4L240.0,164.6L240.7,164.9L241.5,165.1L242.2,165.4L243.0,165.6L243.7,165.7L244.5,165.9L245.2,166.1L246.0,166.3L246.8,166.5L247.6,166.7L248.4,166.9L249.3,167.1L250.1,167.2L250.9,167.4L251.6,167.6L252.2,167.7L252.7,167.8" fill="none" stroke="#555555" stroke-width="1.20"/>
<path d="M55.0,88.7L55.2,87.9L55.5,87.0L55.7,86.3L55.9,85.6L56.2,84.8L56.4,84.0L56.7,83.2L56.9,82.4L57.2,81.5L57.4,80.7L57.7,79.9L57.9,79.1L58.1,78.4L58.3,77.7L58.5,77.0L58.7,76.1L58.9,75.4L59.1,74.6L59.2,74.0L59.4,73.3L59.5,72.7L59.7,72.0L59.9,71.3L60.1,70.5L60.3,69.8L60.5,69.0L60.8,68.2L61.0,67.4L61.3,66.5L61.6,65.7L61.9,64.9L62.1,64.1L62.4,63.3L62.6,62.6L62.8,62.0L63.1,61.1L63.3,60.5L63.5,60.0L63.7,59.5L64.0,58.7L64.4,57.5L64.6,57.0L64.8,56.4L65.0,55.8L65.2,55.1L65.5,54.4L65.7,53.7L66.0,52.9L66.2,52.1L66.5,51.3L66.8,50.5L67.1,49.7 M85.8,63.8L86.1,64.6L86.3,65.3L86.5,66.1L86.7,66.8L86.9,67.6L87.1,68.4L87.3,69.2L87.5,70.0L87.7,70.7L87.9,71.5L88.1,72.2L88.2,72.9L88.4,73.6L88.6,74.3L88.8,75.1L89.0,75.8L89.2,76.5L89.4,77.3L89.5,78.1L89.7,78.9L89.9,79.8L90.1,80.7L90.3,81.6L90.5,82.6L90.7,83.7L90.8,84.4L90.9,85.0L91.1,85.7L91.2,86.4L91.3,87.2L91.4,87.9L91.5,88.7L91.7,89.5L91.8,90.3L91.9,91.1L92.1,91.9L92.2,92.8L92.3,93.6L92.4,94.4L92.6,95.3L92.7,96.2L92.8,97.0L92.9,97.9L93.1,98.8L93.2,99.6L93.3,100.5L93.4,101.4L93.5,102.2L93.7,103.1L93.8,104.0L93.9,104.8L94.0,105.6L94.1,106.5L94.2,107.3L94.3,108.1L94.4,108.9L94.5,109.8L94.6,110.6L94.7,111.5L94.8,112.3L94.9,113.2L94.9,114.0L95.0,114.9L95.1,115.7L95.2,116.6L95.3,117.4L95.4,118.3L95.4,119.1L95.5,120.0L95.6,120.8L95.7,121.7L95.8,122.5L95.8,123.3L95.9,124.1L96.0,124.9L96.1,125.7L96.1,126.5L96.2,127.3L96.3,128.1L96.4,128.8L96.4,129.6L96.5,130.3L96.6,131.0L96.7,132.0L96.8,132.9L96.9,133.9L97.0,134.8L97.1,135.7L97.3,136.6L97.4,137.5L97.5,138.4L97.6,139.3L97.7,140.1L97.8,140.9L97.9,141.7L98.0,142.5L98.1,143.3L98.2,144.0L98.3,144.8L98.4,145.5L98.5,146.1L98.6,146.8L98.7,147.4L98.8,148.0L99.0,149.2L99.2,150.2L99.3,151.1L99.5,151.9L99.6,152.6L99.8,153.2L100.0,153.8L100.2,154.4L100.4,154.9L100.6,155.5L101.0,156.4L101.5,157.2L102.1,157.8L102.6,158.4L103.2,158.9L103.7,159.4L104.3,159.9L105.0,160.2L105.6,160.5L106.3,160.7L107.0,161.0L107.6,161.3L108.2,161.5L108.9,161.7L109.7,161.9L110.8,162.2L111.4,162.3L112.0,162.5L112.7,162.6L113.5,162.8L114.2,162.9L115.0,163.1L115.9,163.2L116.7,163.4L117.6,163.5L118.4,163.6L119.2,163.7L120.0,163.7L120.8,163.7L121.6,163.6L122.3,163.5L123.1,163.4L123.9,163.3L124.7,163.1L125.5,163.0L126.3,162.8L127.0,162.7L127.8,162.6L128.6,162.6L129.4,162.6L130.2,162.7L131.0,162.8L131.8,162.9L132.6,163.1L133.4,163.3L134.3,163.5L135.1,163.7L135.9,164.0L136.7,164.1L137.4,164.3L138.2,164.4L138.9,164.5L139.7,164.5L140.5,164.5L141.3,164.4L142.0,164.2L142.7,164.1L143.4,164.0L144.1,163.8L144.9,163.7L145.7,163.7L146.5,163.7L147.2,163.8L147.9,163.9L148.5,164.0L149.2,164.2L149.9,164.3L150.6,164.5L151.3,164.7L152.1,164.9L153.0,165.1L153.9,165.3L155.0,165.5L156.1,165.6L156.7,165.7L157.4,165.8L158.2,165.8L158.9,165.9L159.7,166.0L160.5,166.1L161.4,166.2L162.3,166.3L163.1,166.3L164.0,166.4L165.0,166.5L165.9,166.6L166.8,166.7L167.7,166.7L168.6,166.8L169.5,166.8L170.4,166.9L171.2,166.9L172.1,167.0L172.9,167.0L173.7,167.0L174.5,167.0L175.2,167.0L176.1,167.0L177.0,166.9L177.9,166.8L178.8,166.7L179.6,166.6L180.4,166.4L181.2,166.2L181.9,166.1L182.7,165.9L183.4,165.7L184.2,165.6L184.9,165.4L185.7,165.3L186.4,165.1L187.2,165.0L187.9,165.0L188.7,164.9L189.5,164.9L190.4,164.9L191.3,164.9L192.2,164.9L193.1,164.9L194.0,165.0L194.9,165.0L195.8,165.1L196.6,165.2L197.5,165.2L198.3,165.3L199.1,165.4L199.8,165.4L200.5,165.5L201.2,165.6L201.8,165.6L203.0,165.7L203.9,165.8L204.7,165.9L205.3,165.9L205.9,166.0L206.4,166.0L207.0,166.0L207.8,165.9L208.5,165.9L209.2,165.7L209.8,165.4L210.5,165.0L211.0,164.6L211.5,164.0L212.0,163.4L212.5,162.7L213.0,162.0L213.5,161.3L214.0,160.5L214.4,159.9L214.8,159.2L215.2,158.5L215.6,157.7L216.0,157.0L216.4,156.3 M227.5,156.0L227.9,156.5L228.4,157.0L228.9,157.5L229.4,158.0 M235.2,162.2L235.9,162.6L236.5,162.9L237.2,163.3L237.9,163.7L238.6,164.0L239.3,164.3L240.0,164.6L240.7,164.9L241.5,165.1L242.2,165.3L243.0,165.6L243.7,165.7L244.5,165.9L245.2,166.1L246.0,166.3L246.8,166.5L247.6,166.7L248.4,166.9L249.3,167.1L250.1,167.2L250.9,167.4L251.6,167.6L252.2,167.7L252.7,167.8" fill="none" stroke="#57524c" stroke-width="1.35" stroke-linecap="round"/>
<line x1="90.90" y1="23.80" x2="90.90" y2="52.40" stroke="#151515" stroke-width="1.00"/>
<path d="M89.40,51.90L92.40,51.90L90.90,56.50Z" fill="#151515"/>
<line x1="83.30" y1="29.30" x2="98.50" y2="40.00" stroke="#ff2020" stroke-width="1.30"/>
<line x1="101.80" y1="26.00" x2="83.30" y2="41.80" stroke="#ff2020" stroke-width="1.30"/>
<text x="95.30" y="47.80" font-size="6.90" fill="#1a1a1a" color="#1a1a1a" textLength="36.50" lengthAdjust="spacingAndGlyphs">no observed</text>
<text x="95.30" y="56.00" font-size="6.90" fill="#1a1a1a" color="#1a1a1a" textLength="36.50" lengthAdjust="spacingAndGlyphs">degradation</text>
<text x="95.30" y="63.80" font-size="6.90" fill="#1a1a1a" color="#1a1a1a">of DPBF</text>
<text x="184.80" y="108.90" font-size="7.50" fill="#1a1a1a" color="#1a1a1a" textLength="49.20" lengthAdjust="spacingAndGlyphs">irradiation time</text>
<text x="184.50" y="119.20" font-size="7.50" fill="#1a1a1a" color="#1a1a1a" textLength="52.70" lengthAdjust="spacingAndGlyphs">(λ = 660 nm), s:</text>
<text x="179.00" y="138.20" font-size="6.70" fill="#1a1a1a" color="#1a1a1a" textLength="21.80" lengthAdjust="spacingAndGlyphs">change</text>
<text x="179.00" y="146.60" font-size="6.70" fill="#1a1a1a" color="#1a1a1a" textLength="21.50" lengthAdjust="spacingAndGlyphs">of MPP</text>
<text x="179.00" y="155.40" font-size="6.70" fill="#1a1a1a" color="#1a1a1a" textLength="34.60" lengthAdjust="spacingAndGlyphs">absorbance</text>
<line x1="221.60" y1="147.00" x2="221.60" y2="138.40" stroke="#151515" stroke-width="1.00"/>
<path d="M220.10,138.90L223.10,138.90L221.60,134.30Z" fill="#151515"/>
<line x1="232.80" y1="146.60" x2="232.80" y2="154.30" stroke="#151515" stroke-width="1.00"/>
<path d="M231.30,153.80L234.30,153.80L232.80,158.40Z" fill="#151515"/>
<rect x="242.40" y="87.40" width="18.30" height="76.60" fill="#fff" stroke="#666" stroke-width="0.8"/>
<line x1="243.20" y1="90.80" x2="253.60" y2="90.80" stroke="#555555" stroke-width="1.30"/>
<text x="255.00" y="92.60" font-size="5.00" fill="#333" color="#333" style="stroke-width:0.06px">0</text>
<line x1="243.20" y1="96.65" x2="253.60" y2="96.65" stroke="#f03a3a" stroke-width="1.30"/>
<text x="255.00" y="98.45" font-size="5.00" fill="#333" color="#333" style="stroke-width:0.06px">2</text>
<line x1="243.20" y1="102.50" x2="253.60" y2="102.50" stroke="#3a6fe0" stroke-width="1.30"/>
<text x="255.00" y="104.30" font-size="5.00" fill="#333" color="#333" style="stroke-width:0.06px">4</text>
<line x1="243.20" y1="108.35" x2="253.60" y2="108.35" stroke="#3daa6a" stroke-width="1.30"/>
<text x="255.00" y="110.15" font-size="5.00" fill="#333" color="#333" style="stroke-width:0.06px">6</text>
<line x1="243.20" y1="114.20" x2="253.60" y2="114.20" stroke="#b48cf0" stroke-width="1.30"/>
<text x="255.00" y="116.00" font-size="5.00" fill="#333" color="#333" style="stroke-width:0.06px">8</text>
<line x1="243.20" y1="120.05" x2="253.60" y2="120.05" stroke="#dda520" stroke-width="1.30"/>
<text x="255.00" y="121.85" font-size="5.00" fill="#333" color="#333" style="stroke-width:0.06px">10</text>
<line x1="243.20" y1="125.90" x2="253.60" y2="125.90" stroke="#2ed0e0" stroke-width="1.30"/>
<text x="255.00" y="127.70" font-size="5.00" fill="#333" color="#333" style="stroke-width:0.06px">12</text>
<line x1="243.20" y1="131.75" x2="253.60" y2="131.75" stroke="#a88080" stroke-width="1.30"/>
<text x="255.00" y="133.55" font-size="5.00" fill="#333" color="#333" style="stroke-width:0.06px">14</text>
<line x1="243.20" y1="137.60" x2="253.60" y2="137.60" stroke="#a8a830" stroke-width="1.30"/>
<text x="255.00" y="139.40" font-size="5.00" fill="#333" color="#333" style="stroke-width:0.06px">16</text>
<line x1="243.20" y1="143.45" x2="253.60" y2="143.45" stroke="#ff7f27" stroke-width="1.30"/>
<text x="255.00" y="145.25" font-size="5.00" fill="#333" color="#333" style="stroke-width:0.06px">18</text>
<line x1="243.20" y1="149.30" x2="253.60" y2="149.30" stroke="#74aee0" stroke-width="1.30"/>
<text x="255.00" y="151.10" font-size="5.00" fill="#333" color="#333" style="stroke-width:0.06px">20</text>
<line x1="243.20" y1="155.15" x2="253.60" y2="155.15" stroke="#7dcc3a" stroke-width="1.30"/>
<text x="255.00" y="156.95" font-size="5.00" fill="#333" color="#333" style="stroke-width:0.06px">22</text>
<line x1="243.20" y1="161.00" x2="253.60" y2="161.00" stroke="#555555" stroke-width="1.30"/>
<text x="255.00" y="162.80" font-size="5.00" fill="#333" color="#333" style="stroke-width:0.06px">24</text>
<path d="M163.00,15.20V78.00H256.70" fill="none" stroke="#444" stroke-width="0.80"/>
<line x1="161.40" y1="16.45" x2="163.00" y2="16.45" stroke="#444" stroke-width="0.70"/>
<line x1="161.40" y1="25.78" x2="163.00" y2="25.78" stroke="#444" stroke-width="0.70"/>
<line x1="161.40" y1="35.11" x2="163.00" y2="35.11" stroke="#444" stroke-width="0.70"/>
<line x1="161.40" y1="44.44" x2="163.00" y2="44.44" stroke="#444" stroke-width="0.70"/>
<line x1="161.40" y1="53.77" x2="163.00" y2="53.77" stroke="#444" stroke-width="0.70"/>
<line x1="161.40" y1="63.10" x2="163.00" y2="63.10" stroke="#444" stroke-width="0.70"/>
<line x1="161.40" y1="72.43" x2="163.00" y2="72.43" stroke="#444" stroke-width="0.70"/>
<line x1="162.10" y1="21.12" x2="163.00" y2="21.12" stroke="#444" stroke-width="0.70"/>
<line x1="162.10" y1="30.45" x2="163.00" y2="30.45" stroke="#444" stroke-width="0.70"/>
<line x1="162.10" y1="39.77" x2="163.00" y2="39.77" stroke="#444" stroke-width="0.70"/>
<line x1="162.10" y1="49.11" x2="163.00" y2="49.11" stroke="#444" stroke-width="0.70"/>
<line x1="162.10" y1="58.44" x2="163.00" y2="58.44" stroke="#444" stroke-width="0.70"/>
<line x1="162.10" y1="67.77" x2="163.00" y2="67.77" stroke="#444" stroke-width="0.70"/>
<line x1="162.10" y1="77.09" x2="163.00" y2="77.09" stroke="#444" stroke-width="0.70"/>
<text x="160.80" y="18.03" font-size="4.40" text-anchor="end" fill="#222" color="#222" style="stroke-width:0.06px">0.10</text>
<text x="160.80" y="27.36" font-size="4.40" text-anchor="end" fill="#222" color="#222" style="stroke-width:0.06px">0.08</text>
<text x="160.80" y="36.69" font-size="4.40" text-anchor="end" fill="#222" color="#222" style="stroke-width:0.06px">0.06</text>
<text x="160.80" y="46.02" font-size="4.40" text-anchor="end" fill="#222" color="#222" style="stroke-width:0.06px">0.04</text>
<text x="160.80" y="55.35" font-size="4.40" text-anchor="end" fill="#222" color="#222" style="stroke-width:0.06px">0.02</text>
<text x="160.80" y="64.68" font-size="4.40" text-anchor="end" fill="#222" color="#222" style="stroke-width:0.06px">0.00</text>
<text x="160.80" y="74.01" font-size="4.40" text-anchor="end" fill="#222" color="#222" style="stroke-width:0.06px">-0.02</text>
<line x1="166.60" y1="78.00" x2="166.60" y2="79.60" stroke="#444" stroke-width="0.70"/>
<line x1="186.10" y1="78.00" x2="186.10" y2="79.60" stroke="#444" stroke-width="0.70"/>
<line x1="205.60" y1="78.00" x2="205.60" y2="79.60" stroke="#444" stroke-width="0.70"/>
<line x1="225.10" y1="78.00" x2="225.10" y2="79.60" stroke="#444" stroke-width="0.70"/>
<line x1="244.60" y1="78.00" x2="244.60" y2="79.60" stroke="#444" stroke-width="0.70"/>
<line x1="176.35" y1="78.00" x2="176.35" y2="78.90" stroke="#444" stroke-width="0.70"/>
<line x1="195.85" y1="78.00" x2="195.85" y2="78.90" stroke="#444" stroke-width="0.70"/>
<line x1="215.35" y1="78.00" x2="215.35" y2="78.90" stroke="#444" stroke-width="0.70"/>
<line x1="234.85" y1="78.00" x2="234.85" y2="78.90" stroke="#444" stroke-width="0.70"/>
<line x1="254.35" y1="78.00" x2="254.35" y2="78.90" stroke="#444" stroke-width="0.70"/>
<text x="166.60" y="84.20" font-size="4.80" text-anchor="middle" fill="#222" color="#222" style="stroke-width:0.06px">0</text>
<text x="186.10" y="84.20" font-size="4.80" text-anchor="middle" fill="#222" color="#222" style="stroke-width:0.06px">5</text>
<text x="205.60" y="84.20" font-size="4.80" text-anchor="middle" fill="#222" color="#222" style="stroke-width:0.06px">10</text>
<text x="225.10" y="84.20" font-size="4.80" text-anchor="middle" fill="#222" color="#222" style="stroke-width:0.06px">15</text>
<text x="244.60" y="84.20" font-size="4.80" text-anchor="middle" fill="#222" color="#222" style="stroke-width:0.06px">20</text>
<text x="205.70" y="94.60" font-size="6.20" text-anchor="middle" fill="#333" color="#333" textLength="8.00" lengthAdjust="spacingAndGlyphs">t, s</text>
<text x="146.50" y="46.50" font-size="8.80" text-anchor="middle" fill="#222" color="#222" transform="rotate(-90 146.50 46.50)">ln(I<tspan font-size="5.60" dy="1.60">0</tspan><tspan dy="-1.60"> / I)</tspan></text>
<circle cx="166.60" cy="63.10" r="1.3" fill="#f33"/>
<circle cx="174.40" cy="68.60" r="1.3" fill="#f33"/>
<circle cx="182.20" cy="72.60" r="1.3" fill="#f33"/>
<circle cx="190.00" cy="74.70" r="1.3" fill="#f33"/>
<circle cx="197.80" cy="76.00" r="1.3" fill="#f33"/>
<circle cx="205.60" cy="76.30" r="1.3" fill="#f33"/>
<circle cx="213.40" cy="76.00" r="1.3" fill="#f33"/>
<circle cx="221.20" cy="75.10" r="1.3" fill="#f33"/>
<circle cx="229.00" cy="73.40" r="1.3" fill="#f33"/>
<circle cx="236.80" cy="71.00" r="1.3" fill="#f33"/>
<circle cx="244.60" cy="69.80" r="1.3" fill="#f33"/>
<circle cx="252.40" cy="67.20" r="1.3" fill="#f33"/>
<text x="184.00" y="32.80" font-size="8.00" fill="#1a1a1a" color="#1a1a1a" textLength="62.20" lengthAdjust="spacingAndGlyphs">I<tspan font-size="5.00" dy="1.60">0</tspan><tspan dy="-1.60"> = D</tspan><tspan font-size="4.40" dy="2.00">420 nm</tspan><tspan dy="-2.00"> at t=0 s</tspan></text>
<text x="184.00" y="43.80" font-size="8.00" fill="#1a1a1a" color="#1a1a1a" textLength="60.00" lengthAdjust="spacingAndGlyphs">I = D<tspan font-size="4.40" dy="2.00">420 nm</tspan><tspan dy="-2.00"> at t=X s</tspan></text>
<text x="184.00" y="55.60" font-size="8.00" fill="#1a1a1a" color="#1a1a1a" textLength="68.70" lengthAdjust="spacingAndGlyphs">DPBF λ<tspan font-size="4.40" dy="2.00">max</tspan><tspan dy="-2.00"> = 420 nm</tspan></text>
<text x="281.60" y="8.90" font-size="8.30" fill="#1a1a1a" color="#1a1a1a" textLength="262.80" lengthAdjust="spacingAndGlyphs">NPs (CLP5+MPP) + DPBF in liposomes mixture - <tspan font-weight="bold">after 2h incubation</tspan></text>
<path d="M327.20,16.30V176.00H539.30" fill="none" stroke="#444" stroke-width="1.25"/>
<line x1="324.60" y1="146.38" x2="327.20" y2="146.38" stroke="#444" stroke-width="1.00"/>
<line x1="324.60" y1="106.92" x2="327.20" y2="106.92" stroke="#444" stroke-width="1.00"/>
<line x1="324.60" y1="67.46" x2="327.20" y2="67.46" stroke="#444" stroke-width="1.00"/>
<line x1="324.60" y1="28.00" x2="327.20" y2="28.00" stroke="#444" stroke-width="1.00"/>
<line x1="325.60" y1="166.11" x2="327.20" y2="166.11" stroke="#444" stroke-width="1.00"/>
<line x1="325.60" y1="126.65" x2="327.20" y2="126.65" stroke="#444" stroke-width="1.00"/>
<line x1="325.60" y1="87.19" x2="327.20" y2="87.19" stroke="#444" stroke-width="1.00"/>
<line x1="325.60" y1="47.73" x2="327.20" y2="47.73" stroke="#444" stroke-width="1.00"/>
<text x="322.30" y="149.37" font-size="8.30" text-anchor="end" fill="#222" color="#222">0.2</text>
<text x="322.30" y="109.91" font-size="8.30" text-anchor="end" fill="#222" color="#222">0.4</text>
<text x="322.30" y="70.45" font-size="8.30" text-anchor="end" fill="#222" color="#222">0.6</text>
<text x="322.30" y="30.99" font-size="8.30" text-anchor="end" fill="#222" color="#222">0.8</text>
<line x1="327.60" y1="176.00" x2="327.60" y2="178.60" stroke="#444" stroke-width="1.00"/>
<line x1="355.17" y1="176.00" x2="355.17" y2="178.60" stroke="#444" stroke-width="1.00"/>
<line x1="382.74" y1="176.00" x2="382.74" y2="178.60" stroke="#444" stroke-width="1.00"/>
<line x1="410.31" y1="176.00" x2="410.31" y2="178.60" stroke="#444" stroke-width="1.00"/>
<line x1="437.88" y1="176.00" x2="437.88" y2="178.60" stroke="#444" stroke-width="1.00"/>
<line x1="465.45" y1="176.00" x2="465.45" y2="178.60" stroke="#444" stroke-width="1.00"/>
<line x1="493.02" y1="176.00" x2="493.02" y2="178.60" stroke="#444" stroke-width="1.00"/>
<line x1="520.59" y1="176.00" x2="520.59" y2="178.60" stroke="#444" stroke-width="1.00"/>
<line x1="341.39" y1="176.00" x2="341.39" y2="177.60" stroke="#444" stroke-width="1.00"/>
<line x1="368.96" y1="176.00" x2="368.96" y2="177.60" stroke="#444" stroke-width="1.00"/>
<line x1="396.53" y1="176.00" x2="396.53" y2="177.60" stroke="#444" stroke-width="1.00"/>
<line x1="424.10" y1="176.00" x2="424.10" y2="177.60" stroke="#444" stroke-width="1.00"/>
<line x1="451.67" y1="176.00" x2="451.67" y2="177.60" stroke="#444" stroke-width="1.00"/>
<line x1="479.24" y1="176.00" x2="479.24" y2="177.60" stroke="#444" stroke-width="1.00"/>
<line x1="506.81" y1="176.00" x2="506.81" y2="177.60" stroke="#444" stroke-width="1.00"/>
<line x1="534.38" y1="176.00" x2="534.38" y2="177.60" stroke="#444" stroke-width="1.00"/>
<text x="327.60" y="187.70" font-size="8.30" text-anchor="middle" fill="#222" color="#222">350</text>
<text x="355.17" y="187.70" font-size="8.30" text-anchor="middle" fill="#222" color="#222">400</text>
<text x="382.74" y="187.70" font-size="8.30" text-anchor="middle" fill="#222" color="#222">450</text>
<text x="410.31" y="187.70" font-size="8.30" text-anchor="middle" fill="#222" color="#222">500</text>
<text x="437.88" y="187.70" font-size="8.30" text-anchor="middle" fill="#222" color="#222">550</text>
<text x="465.45" y="187.70" font-size="8.30" text-anchor="middle" fill="#222" color="#222">600</text>
<text x="493.02" y="187.70" font-size="8.30" text-anchor="middle" fill="#222" color="#222">650</text>
<text x="520.59" y="187.70" font-size="8.30" text-anchor="middle" fill="#222" color="#222">700</text>
<text x="293.50" y="93.20" font-size="15.60" text-anchor="middle" fill="#111" color="#111" textLength="93.00" lengthAdjust="spacingAndGlyphs" transform="rotate(-90 293.50 93.20)">Absorbance</text>
<text x="431.50" y="205.80" font-size="12.80" text-anchor="middle" fill="#111" color="#111" textLength="90.80" lengthAdjust="spacingAndGlyphs">Wavelength, nm</text>
<text x="415.20" y="224.00" font-size="10.60" text-anchor="middle" font-weight="bold" font-family="Liberation Serif" fill="#111" color="#111" textLength="12.50" lengthAdjust="spacingAndGlyphs">(b)</text>
<path d="M327.9,98.6L328.4,98.7L329.2,98.8L330.1,98.9L331.0,99.0L331.8,98.9L332.5,98.7L333.1,98.3L333.7,97.9L334.4,97.4L335.0,97.0L335.6,96.7L336.2,96.3L336.8,95.8L337.4,95.5L337.9,95.2L338.5,95.0L339.3,95.3L340.0,95.8L340.7,96.2L341.4,95.9L341.7,95.6L341.9,95.2L342.2,94.7L342.4,94.2L342.7,93.6L342.9,92.9L343.2,92.1L343.5,91.3L343.8,90.4L344.1,89.4L344.5,88.4L344.7,87.8L344.9,87.2L345.1,86.6L345.4,86.0L345.6,85.3L345.9,84.7L346.1,83.9L346.4,83.2L346.6,82.5L346.9,81.7L347.2,80.9L347.4,80.1L347.7,79.3L348.0,78.4L348.3,77.5L348.5,76.7L348.8,75.7L349.1,74.8L349.4,73.9L349.7,72.9L350.0,71.9L350.2,71.2L350.4,70.4L350.6,69.7L350.9,68.9L351.1,68.0L351.3,67.2L351.6,66.3L351.8,65.4L352.0,64.5L352.3,63.6L352.5,62.6L352.8,61.7L353.0,60.7L353.3,59.8L353.5,58.8L353.8,57.9L354.0,56.9L354.2,56.0L354.5,55.0L354.7,54.1L354.9,53.2L355.2,52.3L355.4,51.4L355.6,50.5L355.8,49.7L356.0,48.9L356.2,48.1L356.4,47.4L356.6,46.7L356.8,46.0L357.2,44.7L357.5,43.5L357.8,42.4L358.1,41.4L358.4,40.4L358.7,39.6L358.9,38.8L359.2,38.0L359.4,37.3L359.6,36.6L359.8,35.9L360.1,35.3L360.3,34.6L360.5,33.9L360.8,32.8L361.1,31.9L361.3,30.9L361.6,30.0L361.8,29.2L362.1,28.4L362.3,27.6L362.5,26.8L362.8,26.1L363.0,25.4L363.4,24.4L363.7,23.4L364.1,22.4L364.5,21.6L364.8,20.9L365.2,20.5L365.6,20.3L366.0,20.4L366.4,20.6L366.8,21.1L367.2,21.7L367.6,22.7L367.9,23.9L368.3,25.4L368.4,26.0L368.5,26.6L368.6,27.2L368.7,27.8L368.8,28.5L368.8,29.2L368.9,30.0L369.0,30.7L369.1,31.5L369.1,32.3L369.2,33.2L369.3,34.0L369.4,34.9L369.5,35.8L369.6,36.8L369.6,37.7L369.8,38.7L369.9,39.7L370.0,40.7L370.1,41.8L370.2,42.8L370.4,43.9L370.5,44.7L370.6,45.4L370.7,46.2L370.9,47.0L371.0,47.9L371.1,48.7L371.3,49.6L371.4,50.5L371.6,51.4L371.7,52.3L371.9,53.3L372.0,54.2L372.2,55.2L372.4,56.2L372.5,57.1L372.7,58.1L372.9,59.1L373.0,60.1L373.2,61.0L373.3,62.0L373.5,63.0L373.7,63.9L373.8,64.9L374.0,65.8L374.1,66.7L374.3,67.6L374.4,68.5L374.6,69.4L374.7,70.2L374.8,71.1L375.0,71.9L375.1,72.7L375.2,73.4L375.4,74.5L375.5,75.5L375.6,76.5L375.8,77.5L375.9,78.4L376.0,79.4L376.1,80.3L376.2,81.2L376.3,82.0L376.4,82.9L376.5,83.7L376.6,84.5L376.7,85.4L376.8,86.1L376.9,86.9L377.0,87.7L377.1,88.5L377.2,89.2L377.3,90.0L377.4,90.7L377.5,91.5L377.6,92.2L377.7,92.9L377.9,93.9L378.0,94.9L378.2,95.9L378.4,96.8L378.6,97.7L378.7,98.6L378.9,99.5L379.1,100.3L379.3,101.1L379.5,101.9L379.6,102.8L379.8,103.6L380.0,104.4L380.2,105.2L380.3,106.0L380.5,106.9L380.7,107.7L380.8,108.5L381.0,109.4L381.1,110.2L381.3,111.0L381.4,111.7L381.6,112.5L381.7,113.3L381.9,114.1L382.0,114.9L382.1,115.8L382.3,116.6L382.4,117.5L382.6,118.4L382.7,119.3L382.9,120.2L383.0,121.0L383.1,121.7L383.3,122.5L383.4,123.3L383.5,124.1L383.6,124.9L383.8,125.7L383.9,126.6L384.0,127.4L384.1,128.2L384.3,129.1L384.4,130.0L384.5,130.8L384.6,131.7L384.8,132.5L384.9,133.4L385.0,134.3L385.1,135.1L385.3,136.0L385.4,136.8L385.5,137.6L385.6,138.5L385.7,139.3L385.9,140.2L386.0,141.1L386.1,142.0L386.2,142.8L386.3,143.7L386.5,144.6L386.6,145.5L386.7,146.4L386.8,147.3L386.9,148.2L387.0,149.0L387.2,149.8L387.3,150.7L387.4,151.5L387.5,152.2L387.6,153.0L387.8,153.7L387.9,154.4L388.0,155.0L388.2,156.1L388.5,157.2L388.7,158.1L388.9,159.0L389.1,159.8L389.4,160.6L389.6,161.3L389.8,161.9L390.1,162.5L390.3,163.1L390.6,163.7L391.1,164.6L391.6,165.3L392.2,165.8L392.7,166.3L393.3,166.7L394.0,167.1L394.6,167.4L395.3,167.7L396.0,167.9L396.8,168.1L397.5,168.2L398.3,168.4L399.0,168.5L399.7,168.6L400.5,168.8L401.2,168.9L402.0,169.0L402.7,169.1L403.5,169.2L404.3,169.2L405.1,169.2L405.9,169.1L406.6,169.1L407.4,169.0L408.3,168.9L409.1,168.7L410.0,168.5L410.6,168.3L411.3,168.0L411.9,167.7L412.6,167.4L413.3,167.1L414.0,166.8L414.8,166.5L415.5,166.3L416.3,166.2L417.2,166.2L417.9,166.3L418.6,166.5L419.3,166.7L420.1,167.0L420.9,167.4L421.7,167.7L422.5,168.1L423.3,168.5L424.1,168.9L424.9,169.2L425.6,169.5L426.4,169.7L427.1,169.9L427.7,170.0L428.6,170.0L429.4,169.8L430.2,169.4L430.9,169.0L431.6,168.6L432.3,168.2L433.0,167.9L433.7,167.6L434.4,167.6L435.0,167.7L435.5,167.9L436.0,168.2L436.5,168.6L437.0,169.0L437.5,169.5L438.2,169.9L439.0,170.3L439.9,170.7L441.1,171.0L441.7,171.1L442.3,171.2L442.9,171.3L443.6,171.5L444.3,171.6L445.1,171.7L445.9,171.8L446.7,171.9L447.5,172.1L448.4,172.2L449.2,172.3L450.1,172.4L451.0,172.5L451.9,172.6L452.8,172.6L453.7,172.7L454.5,172.8L455.4,172.8L456.3,172.9L457.1,172.9L457.9,172.9L458.7,172.9L459.5,172.9L460.2,172.9L461.1,172.8L462.0,172.7L462.9,172.6L463.7,172.4L464.6,172.2L465.4,172.0L466.3,171.8L467.1,171.6L467.9,171.3L468.7,171.1L469.5,170.8L470.3,170.6L471.1,170.3L471.8,170.1L472.6,169.9L473.3,169.8L474.1,169.7L474.8,169.6L475.5,169.5L476.4,169.5L477.3,169.5L478.1,169.6L479.0,169.7L479.8,169.9L480.6,170.1L481.4,170.3L482.2,170.5L483.0,170.7L483.7,170.9L484.4,171.1L485.1,171.3L485.8,171.4L486.5,171.5L487.1,171.6L488.1,171.7L489.0,171.7L489.9,171.7L490.7,171.6L491.5,171.5L492.2,171.4L492.9,171.3L493.5,171.1L494.2,170.8L494.9,170.5L495.5,170.1L496.1,169.8L496.7,169.3L497.2,168.8L497.8,168.2L498.3,167.5L498.9,166.6L499.2,166.0L499.6,165.4L499.9,164.7L500.2,164.0L500.6,163.2L500.9,162.4L501.3,161.6L501.6,160.8L501.9,159.9L502.3,159.1L502.6,158.3L502.9,157.5L503.3,156.7L503.6,156.0L504.0,155.2L504.4,154.3L504.8,153.3L505.1,152.4L505.5,151.4L505.9,150.5L506.3,149.7L506.7,148.9L507.0,148.3L507.4,147.7L507.8,147.3L508.1,147.1L508.6,147.0L509.1,147.3L509.6,147.8L510.1,148.5L510.5,149.4L511.0,150.4L511.4,151.4L511.9,152.5L512.1,153.1L512.4,153.8L512.6,154.5L512.8,155.3L513.1,156.1L513.3,157.0L513.5,157.9L513.8,158.7L514.0,159.6L514.2,160.5L514.5,161.3L514.7,162.1L515.0,162.9L515.2,163.6L515.5,164.3L515.9,165.1L516.3,165.9L516.6,166.7L517.0,167.5L517.4,168.1L517.8,168.8L518.3,169.4L518.7,170.0L519.2,170.5L519.7,171.0L520.2,171.4L520.9,171.8L521.5,172.2L522.2,172.4L523.0,172.6L523.7,172.7L524.5,172.8L525.4,172.9L526.3,173.0L527.3,173.1L528.0,173.2L528.8,173.3L529.6,173.4L530.5,173.4L531.5,173.5L532.4,173.6L533.3,173.7L534.3,173.7L535.2,173.8L536.0,173.8L536.8,173.9L537.5,173.9L538.0,174.0L538.5,174.0" fill="none" stroke="#555555" stroke-width="1.20"/>
<path d="M327.9,98.8L328.4,98.8L329.2,99.0L330.1,99.1L331.0,99.2L331.8,99.1L332.5,98.9L333.1,98.6L333.7,98.1L334.4,97.7L335.0,97.3L335.6,96.9L336.2,96.5L336.8,96.1L337.4,95.7L337.9,95.4L338.5,95.2L339.3,95.5L340.0,96.0L340.7,96.4L341.4,96.1L341.7,95.7L341.9,95.3L342.2,94.8L342.4,94.3L342.7,93.7L342.9,93.0L343.2,92.2L343.5,91.4L343.8,90.5L344.1,89.5L344.5,88.5L344.7,87.9L344.9,87.3L345.1,86.7L345.4,86.1L345.6,85.4L345.9,84.7L346.1,84.0L346.4,83.3L346.6,82.6L346.9,81.8L347.2,81.0L347.4,80.2L347.7,79.4L348.0,78.5L348.3,77.7L348.5,76.8L348.8,75.9L349.1,74.9L349.4,74.0L349.7,73.0L350.0,72.1L350.2,71.4L350.4,70.6L350.6,69.8L350.9,69.1L351.1,68.2L351.3,67.4L351.6,66.5L351.8,65.6L352.0,64.8L352.3,63.8L352.5,62.9L352.8,62.0L353.0,61.1L353.3,60.1L353.5,59.2L353.8,58.2L354.0,57.3L354.2,56.4L354.5,55.4L354.7,54.5L354.9,53.6L355.2,52.8L355.4,51.9L355.6,51.1L355.8,50.2L356.0,49.5L356.2,48.7L356.4,48.0L356.6,47.3L356.8,46.6L357.2,45.3L357.5,44.1L357.8,43.1L358.1,42.1L358.4,41.2L358.7,40.4L358.9,39.6L359.2,38.9L359.4,38.2L359.6,37.5L359.8,36.8L360.1,36.2L360.3,35.5L360.5,34.8L360.8,33.8L361.1,32.9L361.3,31.9L361.6,31.1L361.8,30.2L362.1,29.4L362.3,28.6L362.5,27.9L362.8,27.2L363.0,26.5L363.4,25.5L363.7,24.5L364.1,23.6L364.5,22.7L364.8,22.1L365.2,21.6L365.6,21.5L366.0,21.5L366.4,21.8L366.8,22.2L367.2,22.9L367.6,23.8L367.9,25.0L368.3,26.5L368.4,27.1L368.5,27.6L368.6,28.3L368.7,28.9L368.8,29.6L368.8,30.3L368.9,31.0L369.0,31.8L369.1,32.6L369.1,33.4L369.2,34.2L369.3,35.1L369.4,36.0L369.5,36.9L369.6,37.8L369.6,38.8L369.8,39.7L369.9,40.7L370.0,41.7L370.1,42.8L370.2,43.8L370.4,44.9L370.5,45.6L370.6,46.4L370.7,47.2L370.9,48.0L371.0,48.8L371.1,49.6L371.3,50.5L371.4,51.4L371.6,52.3L371.7,53.2L371.9,54.1L372.0,55.1L372.2,56.0L372.4,57.0L372.5,57.9L372.7,58.9L372.9,59.8L373.0,60.8L373.2,61.7L373.3,62.7L373.5,63.7L373.7,64.6L373.8,65.5L374.0,66.4L374.1,67.4L374.3,68.3L374.4,69.1L374.6,70.0L374.7,70.8L374.8,71.7L375.0,72.5L375.1,73.2L375.2,74.0L375.4,75.0L375.5,76.0L375.6,77.0L375.8,78.0L375.9,78.9L376.0,79.8L376.1,80.7L376.2,81.6L376.3,82.5L376.4,83.3L376.5,84.2L376.6,85.0L376.7,85.8L376.8,86.6L376.9,87.3L377.0,88.1L377.1,88.9L377.2,89.6L377.3,90.4L377.4,91.1L377.5,91.8L377.6,92.5L377.7,93.3L377.9,94.3L378.0,95.3L378.2,96.2L378.4,97.1L378.6,98.0L378.7,98.9L378.9,99.7L379.1,100.6L379.3,101.4L379.5,102.2L379.6,103.0L379.8,103.8L380.0,104.6L380.2,105.4L380.3,106.2L380.5,107.1L380.7,107.9L380.8,108.7L381.0,109.5L381.1,110.3L381.3,111.1L381.4,111.9L381.6,112.7L381.7,113.5L381.9,114.3L382.0,115.1L382.1,115.9L382.3,116.7L382.4,117.6L382.6,118.5L382.7,119.4L382.9,120.3L383.0,121.0L383.1,121.8L383.3,122.6L383.4,123.4L383.5,124.2L383.6,125.0L383.8,125.8L383.9,126.6L384.0,127.5L384.1,128.3L384.3,129.2L384.4,130.0L384.5,130.9L384.6,131.7L384.8,132.6L384.9,133.5L385.0,134.3L385.1,135.2L385.3,136.0L385.4,136.8L385.5,137.7L385.6,138.5L385.7,139.4L385.9,140.2L386.0,141.1L386.1,142.0L386.2,142.9L386.3,143.8L386.5,144.7L386.6,145.6L386.7,146.4L386.8,147.3L386.9,148.2L387.0,149.0L387.2,149.9L387.3,150.7L387.4,151.5L387.5,152.2L387.6,153.0L387.8,153.7L387.9,154.4L388.0,155.0L388.2,156.1L388.5,157.2L388.7,158.1L388.9,159.0L389.1,159.8L389.4,160.6L389.6,161.3L389.8,161.9L390.1,162.5L390.3,163.1L390.6,163.7L391.1,164.6L391.6,165.3L392.2,165.8L392.7,166.3L393.3,166.7L394.0,167.1L394.6,167.4L395.3,167.7L396.0,167.9L396.8,168.1L397.5,168.2L398.3,168.4L399.0,168.5L399.7,168.6L400.5,168.8L401.2,168.9L402.0,169.0L402.7,169.1L403.5,169.2L404.3,169.2L405.1,169.2L405.9,169.1L406.6,169.1L407.4,169.0L408.3,168.9L409.1,168.7L410.0,168.5L410.6,168.3L411.3,168.0L411.9,167.7L412.6,167.4L413.3,167.1L414.0,166.8L414.8,166.5L415.5,166.3L416.3,166.2L417.2,166.2L417.9,166.3L418.6,166.5L419.3,166.7L420.1,167.0L420.9,167.4L421.7,167.7L422.5,168.1L423.3,168.5L424.1,168.9L424.9,169.2L425.6,169.5L426.4,169.7L427.1,169.9L427.7,170.0L428.6,170.0L429.4,169.8L430.2,169.4L430.9,169.0L431.6,168.6L432.3,168.2L433.0,167.9L433.7,167.6L434.4,167.6L435.0,167.7L435.5,167.9L436.0,168.2L436.5,168.6L437.0,169.0L437.5,169.5L438.2,169.9L439.0,170.3L439.9,170.7L441.1,171.0L441.7,171.1L442.3,171.2L442.9,171.3L443.6,171.5L444.3,171.6L445.1,171.7L445.9,171.8L446.7,171.9L447.5,172.1L448.4,172.2L449.2,172.3L450.1,172.4L451.0,172.5L451.9,172.6L452.8,172.6L453.7,172.7L454.5,172.8L455.4,172.8L456.3,172.9L457.1,172.9L457.9,172.9L458.7,172.9L459.5,172.9L460.2,172.9L461.1,172.8L462.0,172.7L462.9,172.6L463.7,172.4L464.6,172.2L465.4,172.0L466.3,171.8L467.1,171.6L467.9,171.3L468.7,171.1L469.5,170.8L470.3,170.6L471.1,170.3L471.8,170.1L472.6,169.9L473.3,169.8L474.1,169.7L474.8,169.6L475.5,169.5L476.4,169.5L477.3,169.5L478.1,169.6L479.0,169.7L479.8,169.9L480.6,170.1L481.4,170.3L482.2,170.5L483.0,170.7L483.7,170.9L484.4,171.1L485.1,171.3L485.8,171.4L486.5,171.5L487.1,171.6L488.1,171.7L489.0,171.7L489.9,171.7L490.7,171.6L491.5,171.5L492.2,171.4L492.9,171.3L493.5,171.1L494.2,170.8L494.9,170.5L495.5,170.1L496.1,169.8L496.7,169.3L497.2,168.8L497.8,168.2L498.3,167.5L498.9,166.6L499.2,166.0L499.6,165.4L499.9,164.7L500.2,164.0L500.6,163.2L500.9,162.4L501.3,161.6L501.6,160.8L501.9,159.9L502.3,159.1L502.6,158.3L502.9,157.5L503.3,156.7L503.6,156.0L504.0,155.2L504.4,154.3L504.8,153.3L505.1,152.4L505.5,151.4L505.9,150.5L506.3,149.7L506.7,148.9L507.0,148.3L507.4,147.7L507.8,147.3L508.1,147.1L508.6,147.0L509.1,147.3L509.6,147.8L510.1,148.5L510.5,149.4L511.0,150.4L511.4,151.4L511.9,152.5L512.1,153.1L512.4,153.8L512.6,154.5L512.8,155.3L513.1,156.1L513.3,157.0L513.5,157.9L513.8,158.7L514.0,159.6L514.2,160.5L514.5,161.3L514.7,162.1L515.0,162.9L515.2,163.6L515.5,164.3L515.9,165.1L516.3,165.9L516.6,166.7L517.0,167.5L517.4,168.1L517.8,168.8L518.3,169.4L518.7,170.0L519.2,170.5L519.7,171.0L520.2,171.4L520.9,171.8L521.5,172.2L522.2,172.4L523.0,172.6L523.7,172.7L524.5,172.8L525.4,172.9L526.3,173.0L527.3,173.1L528.0,173.2L528.8,173.3L529.6,173.4L530.5,173.4L531.5,173.5L532.4,173.6L533.3,173.7L534.3,173.7L535.2,173.8L536.0,173.8L536.8,173.9L537.5,173.9L538.0,174.0L538.5,174.0" fill="none" stroke="#f03a3a" stroke-width="1.20"/>
<path d="M327.9,98.9L328.4,99.0L329.2,99.2L330.1,99.3L331.0,99.4L331.8,99.4L332.5,99.2L333.1,98.8L333.7,98.4L334.4,98.0L335.0,97.5L335.6,97.2L336.2,96.8L336.8,96.3L337.4,95.9L337.9,95.6L338.5,95.5L339.3,95.6L340.0,96.2L340.7,96.6L341.4,96.2L341.7,95.9L341.9,95.5L342.2,95.0L342.4,94.4L342.7,93.8L342.9,93.1L343.2,92.3L343.5,91.5L343.8,90.6L344.1,89.6L344.5,88.6L344.7,88.0L344.9,87.4L345.1,86.8L345.4,86.2L345.6,85.5L345.9,84.8L346.1,84.1L346.4,83.4L346.6,82.7L346.9,81.9L347.2,81.1L347.4,80.3L347.7,79.5L348.0,78.6L348.3,77.8L348.5,76.9L348.8,76.0L349.1,75.1L349.4,74.2L349.7,73.2L350.0,72.2L350.2,71.5L350.4,70.8L350.6,70.0L350.9,69.3L351.1,68.4L351.3,67.6L351.6,66.8L351.8,65.9L352.0,65.0L352.3,64.1L352.5,63.2L352.8,62.3L353.0,61.4L353.3,60.5L353.5,59.5L353.8,58.6L354.0,57.7L354.2,56.8L354.5,55.9L354.7,55.0L354.9,54.1L355.2,53.2L355.4,52.4L355.6,51.6L355.8,50.8L356.0,50.0L356.2,49.3L356.4,48.6L356.6,47.9L356.8,47.2L357.2,46.0L357.5,44.8L357.8,43.8L358.1,42.8L358.4,41.9L358.7,41.1L358.9,40.4L359.2,39.7L359.4,39.0L359.6,38.4L359.8,37.7L360.1,37.1L360.3,36.4L360.5,35.7L360.8,34.8L361.1,33.8L361.3,32.9L361.6,32.1L361.8,31.3L362.1,30.5L362.3,29.7L362.5,29.0L362.8,28.3L363.0,27.6L363.4,26.6L363.7,25.6L364.1,24.7L364.5,23.9L364.8,23.2L365.2,22.8L365.6,22.6L366.0,22.7L366.4,22.9L366.8,23.4L367.2,24.0L367.6,24.9L367.9,26.1L368.3,27.6L368.4,28.2L368.5,28.7L368.6,29.3L368.7,30.0L368.8,30.7L368.8,31.4L368.9,32.1L369.0,32.8L369.1,33.6L369.1,34.4L369.2,35.3L369.3,36.1L369.4,37.0L369.5,37.9L369.6,38.8L369.6,39.8L369.8,40.7L369.9,41.7L370.0,42.7L370.1,43.7L370.2,44.8L370.4,45.8L370.5,46.6L370.6,47.3L370.7,48.1L370.9,48.9L371.0,49.7L371.1,50.5L371.3,51.4L371.4,52.3L371.6,53.2L371.7,54.1L371.9,55.0L372.0,55.9L372.2,56.8L372.4,57.8L372.5,58.7L372.7,59.6L372.9,60.6L373.0,61.5L373.2,62.5L373.3,63.4L373.5,64.3L373.7,65.3L373.8,66.2L374.0,67.1L374.1,68.0L374.3,68.9L374.4,69.7L374.6,70.6L374.7,71.4L374.8,72.2L375.0,73.0L375.1,73.8L375.2,74.5L375.4,75.5L375.5,76.5L375.6,77.5L375.8,78.5L375.9,79.4L376.0,80.3L376.1,81.2L376.2,82.1L376.3,82.9L376.4,83.8L376.5,84.6L376.6,85.4L376.7,86.2L376.8,87.0L376.9,87.7L377.0,88.5L377.1,89.3L377.2,90.0L377.3,90.7L377.4,91.5L377.5,92.2L377.6,92.9L377.7,93.6L377.9,94.6L378.0,95.6L378.2,96.5L378.4,97.4L378.6,98.3L378.7,99.2L378.9,100.0L379.1,100.8L379.3,101.6L379.5,102.4L379.6,103.2L379.8,104.0L380.0,104.8L380.2,105.6L380.3,106.4L380.5,107.3L380.7,108.1L380.8,108.9L381.0,109.7L381.1,110.5L381.3,111.3L381.4,112.0L381.6,112.8L381.7,113.6L381.9,114.4L382.0,115.2L382.1,116.0L382.3,116.8L382.4,117.7L382.6,118.6L382.7,119.5L382.9,120.4L383.0,121.1L383.1,121.9L383.3,122.7L383.4,123.4L383.5,124.2L383.6,125.1L383.8,125.9L383.9,126.7L384.0,127.5L384.1,128.4L384.3,129.2L384.4,130.1L384.5,130.9L384.6,131.8L384.8,132.7L384.9,133.5L385.0,134.4L385.1,135.2L385.3,136.1L385.4,136.9L385.5,137.7L385.6,138.6L385.7,139.4L385.9,140.3L386.0,141.1L386.1,142.0L386.2,142.9L386.3,143.8L386.5,144.7L386.6,145.6L386.7,146.5L386.8,147.4L386.9,148.2L387.0,149.1L387.2,149.9L387.3,150.7L387.4,151.5L387.5,152.3L387.6,153.0L387.8,153.7L387.9,154.4L388.0,155.0L388.2,156.2L388.5,157.2L388.7,158.1L388.9,159.0L389.1,159.8L389.4,160.6L389.6,161.3L389.8,161.9L390.1,162.5L390.3,163.1L390.6,163.7L391.1,164.6L391.6,165.3L392.2,165.8L392.7,166.3L393.3,166.7L394.0,167.1L394.6,167.4L395.3,167.7L396.0,167.9L396.8,168.1L397.5,168.2L398.3,168.4L399.0,168.5L399.7,168.6L400.5,168.8L401.2,168.9L402.0,169.0L402.7,169.1L403.5,169.2L404.3,169.2L405.1,169.2L405.9,169.1L406.6,169.1L407.4,169.0L408.3,168.9L409.1,168.7L410.0,168.5L410.6,168.3L411.3,168.0L411.9,167.7L412.6,167.4L413.3,167.1L414.0,166.8L414.8,166.5L415.5,166.3L416.3,166.2L417.2,166.2L417.9,166.3L418.6,166.5L419.3,166.7L420.1,167.0L420.9,167.4L421.7,167.7L422.5,168.1L423.3,168.5L424.1,168.9L424.9,169.2L425.6,169.5L426.4,169.7L427.1,169.9L427.7,170.0L428.6,170.0L429.4,169.8L430.2,169.4L430.9,169.0L431.6,168.6L432.3,168.2L433.0,167.9L433.7,167.6L434.4,167.6L435.0,167.7L435.5,167.9L436.0,168.2L436.5,168.6L437.0,169.0L437.5,169.5L438.2,169.9L439.0,170.3L439.9,170.7L441.1,171.0L441.7,171.1L442.3,171.2L442.9,171.3L443.6,171.5L444.3,171.6L445.1,171.7L445.9,171.8L446.7,171.9L447.5,172.1L448.4,172.2L449.2,172.3L450.1,172.4L451.0,172.5L451.9,172.6L452.8,172.6L453.7,172.7L454.5,172.8L455.4,172.8L456.3,172.9L457.1,172.9L457.9,172.9L458.7,172.9L459.5,172.9L460.2,172.9L461.1,172.8L462.0,172.7L462.9,172.6L463.7,172.4L464.6,172.2L465.4,172.0L466.3,171.8L467.1,171.6L467.9,171.3L468.7,171.1L469.5,170.8L470.3,170.6L471.1,170.3L471.8,170.1L472.6,169.9L473.3,169.8L474.1,169.7L474.8,169.6L475.5,169.5L476.4,169.5L477.3,169.5L478.1,169.6L479.0,169.7L479.8,169.9L480.6,170.1L481.4,170.3L482.2,170.5L483.0,170.7L483.7,170.9L484.4,171.1L485.1,171.3L485.8,171.4L486.5,171.5L487.1,171.6L488.1,171.7L489.0,171.7L489.9,171.7L490.7,171.6L491.5,171.5L492.2,171.4L492.9,171.3L493.5,171.1L494.2,170.8L494.9,170.5L495.5,170.1L496.1,169.8L496.7,169.3L497.2,168.8L497.8,168.2L498.3,167.5L498.9,166.6L499.2,166.0L499.6,165.4L499.9,164.7L500.2,164.0L500.6,163.2L500.9,162.4L501.3,161.6L501.6,160.8L501.9,159.9L502.3,159.1L502.6,158.3L502.9,157.5L503.3,156.7L503.6,156.0L504.0,155.2L504.4,154.3L504.8,153.3L505.1,152.4L505.5,151.4L505.9,150.5L506.3,149.7L506.7,148.9L507.0,148.3L507.4,147.7L507.8,147.3L508.1,147.1L508.6,147.0L509.1,147.3L509.6,147.8L510.1,148.5L510.5,149.4L511.0,150.4L511.4,151.4L511.9,152.5L512.1,153.1L512.4,153.8L512.6,154.5L512.8,155.3L513.1,156.1L513.3,157.0L513.5,157.9L513.8,158.7L514.0,159.6L514.2,160.5L514.5,161.3L514.7,162.1L515.0,162.9L515.2,163.6L515.5,164.3L515.9,165.1L516.3,165.9L516.6,166.7L517.0,167.5L517.4,168.1L517.8,168.8L518.3,169.4L518.7,170.0L519.2,170.5L519.7,171.0L520.2,171.4L520.9,171.8L521.5,172.2L522.2,172.4L523.0,172.6L523.7,172.7L524.5,172.8L525.4,172.9L526.3,173.0L527.3,173.1L528.0,173.2L528.8,173.3L529.6,173.4L530.5,173.4L531.5,173.5L532.4,173.6L533.3,173.7L534.3,173.7L535.2,173.8L536.0,173.8L536.8,173.9L537.5,173.9L538.0,174.0L538.5,174.0" fill="none" stroke="#3a6fe0" stroke-width="1.20"/>
<path d="M327.9,99.1L328.4,99.2L329.2,99.4L330.1,99.6L331.0,99.7L331.8,99.6L332.5,99.4L333.1,99.1L333.7,98.7L334.4,98.2L335.0,97.8L335.6,97.4L336.2,97.0L336.8,96.6L337.4,96.2L337.9,95.9L338.5,95.7L339.3,95.8L340.0,96.4L340.7,96.7L341.4,96.4L341.7,96.0L341.9,95.6L342.2,95.1L342.4,94.5L342.7,93.9L342.9,93.2L343.2,92.5L343.5,91.6L343.8,90.7L344.1,89.7L344.5,88.7L344.7,88.1L344.9,87.5L345.1,86.9L345.4,86.3L345.6,85.6L345.9,84.9L346.1,84.2L346.4,83.5L346.6,82.8L346.9,82.0L347.2,81.2L347.4,80.4L347.7,79.6L348.0,78.8L348.3,77.9L348.5,77.0L348.8,76.1L349.1,75.2L349.4,74.3L349.7,73.4L350.0,72.4L350.2,71.7L350.4,71.0L350.6,70.2L350.9,69.5L351.1,68.7L351.3,67.8L351.6,67.0L351.8,66.1L352.0,65.3L352.3,64.4L352.5,63.5L352.8,62.6L353.0,61.7L353.3,60.8L353.5,59.9L353.8,59.0L354.0,58.1L354.2,57.2L354.5,56.3L354.7,55.4L354.9,54.6L355.2,53.7L355.4,52.9L355.6,52.1L355.8,51.3L356.0,50.6L356.2,49.8L356.4,49.1L356.6,48.5L356.8,47.9L357.2,46.6L357.5,45.5L357.8,44.5L358.1,43.6L358.4,42.7L358.7,41.9L358.9,41.2L359.2,40.5L359.4,39.9L359.6,39.2L359.8,38.6L360.1,38.0L360.3,37.3L360.5,36.7L360.8,35.7L361.1,34.8L361.3,34.0L361.6,33.1L361.8,32.3L362.1,31.5L362.3,30.8L362.5,30.0L362.8,29.4L363.0,28.7L363.4,27.7L363.7,26.8L364.1,25.9L364.5,25.0L364.8,24.4L365.2,24.0L365.6,23.8L366.0,23.9L366.4,24.1L366.8,24.5L367.2,25.2L367.6,26.0L367.9,27.2L368.3,28.7L368.4,29.2L368.5,29.8L368.6,30.4L368.7,31.1L368.8,31.7L368.8,32.4L368.9,33.2L369.0,33.9L369.1,34.7L369.1,35.5L369.2,36.3L369.3,37.2L369.4,38.0L369.5,38.9L369.6,39.9L369.6,40.8L369.8,41.8L369.9,42.7L370.0,43.7L370.1,44.7L370.2,45.8L370.4,46.8L370.5,47.5L370.6,48.3L370.7,49.0L370.9,49.8L371.0,50.6L371.1,51.4L371.3,52.3L371.4,53.1L371.6,54.0L371.7,54.9L371.9,55.8L372.0,56.7L372.2,57.6L372.4,58.6L372.5,59.5L372.7,60.4L372.9,61.3L373.0,62.3L373.2,63.2L373.3,64.1L373.5,65.0L373.7,66.0L373.8,66.9L374.0,67.8L374.1,68.6L374.3,69.5L374.4,70.4L374.6,71.2L374.7,72.0L374.8,72.8L375.0,73.6L375.1,74.3L375.2,75.1L375.4,76.1L375.5,77.1L375.6,78.0L375.8,79.0L375.9,79.9L376.0,80.8L376.1,81.7L376.2,82.5L376.3,83.4L376.4,84.2L376.5,85.0L376.6,85.8L376.7,86.6L376.8,87.4L376.9,88.2L377.0,88.9L377.1,89.6L377.2,90.4L377.3,91.1L377.4,91.8L377.5,92.5L377.6,93.3L377.7,94.0L377.9,94.9L378.0,95.9L378.2,96.8L378.4,97.7L378.6,98.6L378.7,99.4L378.9,100.3L379.1,101.1L379.3,101.9L379.5,102.7L379.6,103.4L379.8,104.2L380.0,105.0L380.2,105.8L380.3,106.6L380.5,107.4L380.7,108.3L380.8,109.1L381.0,109.9L381.1,110.6L381.3,111.4L381.4,112.2L381.6,113.0L381.7,113.7L381.9,114.5L382.0,115.3L382.1,116.1L382.3,117.0L382.4,117.8L382.6,118.7L382.7,119.6L382.9,120.5L383.0,121.2L383.1,122.0L383.3,122.8L383.4,123.5L383.5,124.3L383.6,125.1L383.8,125.9L383.9,126.8L384.0,127.6L384.1,128.5L384.3,129.3L384.4,130.1L384.5,131.0L384.6,131.9L384.8,132.7L384.9,133.6L385.0,134.4L385.1,135.3L385.3,136.1L385.4,136.9L385.5,137.8L385.6,138.6L385.7,139.4L385.9,140.3L386.0,141.2L386.1,142.1L386.2,143.0L386.3,143.8L386.5,144.7L386.6,145.6L386.7,146.5L386.8,147.4L386.9,148.2L387.0,149.1L387.2,149.9L387.3,150.7L387.4,151.5L387.5,152.3L387.6,153.0L387.8,153.7L387.9,154.4L388.0,155.0L388.2,156.2L388.5,157.2L388.7,158.2L388.9,159.0L389.1,159.8L389.4,160.6L389.6,161.3L389.8,161.9L390.1,162.5L390.3,163.1L390.6,163.7L391.1,164.6L391.6,165.3L392.2,165.8L392.7,166.3L393.3,166.7L394.0,167.1L394.6,167.4L395.3,167.7L396.0,167.9L396.8,168.1L397.5,168.2L398.3,168.4L399.0,168.5L399.7,168.6L400.5,168.8L401.2,168.9L402.0,169.0L402.7,169.1L403.5,169.2L404.3,169.2L405.1,169.2L405.9,169.1L406.6,169.1L407.4,169.0L408.3,168.9L409.1,168.7L410.0,168.5L410.6,168.3L411.3,168.0L411.9,167.7L412.6,167.4L413.3,167.1L414.0,166.8L414.8,166.5L415.5,166.3L416.3,166.2L417.2,166.2L417.9,166.3L418.6,166.5L419.3,166.7L420.1,167.0L420.9,167.4L421.7,167.7L422.5,168.1L423.3,168.5L424.1,168.9L424.9,169.2L425.6,169.5L426.4,169.7L427.1,169.9L427.7,170.0L428.6,170.0L429.4,169.8L430.2,169.4L430.9,169.0L431.6,168.6L432.3,168.2L433.0,167.9L433.7,167.6L434.4,167.6L435.0,167.7L435.5,167.9L436.0,168.2L436.5,168.6L437.0,169.0L437.5,169.5L438.2,169.9L439.0,170.3L439.9,170.7L441.1,171.0L441.7,171.1L442.3,171.2L442.9,171.3L443.6,171.5L444.3,171.6L445.1,171.7L445.9,171.8L446.7,171.9L447.5,172.1L448.4,172.2L449.2,172.3L450.1,172.4L451.0,172.5L451.9,172.6L452.8,172.6L453.7,172.7L454.5,172.8L455.4,172.8L456.3,172.9L457.1,172.9L457.9,172.9L458.7,172.9L459.5,172.9L460.2,172.9L461.1,172.8L462.0,172.7L462.9,172.6L463.7,172.4L464.6,172.2L465.4,172.0L466.3,171.8L467.1,171.6L467.9,171.3L468.7,171.1L469.5,170.8L470.3,170.6L471.1,170.3L471.8,170.1L472.6,169.9L473.3,169.8L474.1,169.7L474.8,169.6L475.5,169.5L476.4,169.5L477.3,169.5L478.1,169.6L479.0,169.7L479.8,169.9L480.6,170.1L481.4,170.3L482.2,170.5L483.0,170.7L483.7,170.9L484.4,171.1L485.1,171.3L485.8,171.4L486.5,171.5L487.1,171.6L488.1,171.7L489.0,171.7L489.9,171.7L490.7,171.6L491.5,171.5L492.2,171.4L492.9,171.3L493.5,171.1L494.2,170.8L494.9,170.5L495.5,170.1L496.1,169.8L496.7,169.3L497.2,168.8L497.8,168.2L498.3,167.5L498.9,166.6L499.2,166.0L499.6,165.4L499.9,164.7L500.2,164.0L500.6,163.2L500.9,162.4L501.3,161.6L501.6,160.8L501.9,159.9L502.3,159.1L502.6,158.3L502.9,157.5L503.3,156.7L503.6,156.0L504.0,155.2L504.4,154.3L504.8,153.3L505.1,152.4L505.5,151.4L505.9,150.5L506.3,149.7L506.7,148.9L507.0,148.3L507.4,147.7L507.8,147.3L508.1,147.1L508.6,147.0L509.1,147.3L509.6,147.8L510.1,148.5L510.5,149.4L511.0,150.4L511.4,151.4L511.9,152.5L512.1,153.1L512.4,153.8L512.6,154.5L512.8,155.3L513.1,156.1L513.3,157.0L513.5,157.9L513.8,158.7L514.0,159.6L514.2,160.5L514.5,161.3L514.7,162.1L515.0,162.9L515.2,163.6L515.5,164.3L515.9,165.1L516.3,165.9L516.6,166.7L517.0,167.5L517.4,168.1L517.8,168.8L518.3,169.4L518.7,170.0L519.2,170.5L519.7,171.0L520.2,171.4L520.9,171.8L521.5,172.2L522.2,172.4L523.0,172.6L523.7,172.7L524.5,172.8L525.4,172.9L526.3,173.0L527.3,173.1L528.0,173.2L528.8,173.3L529.6,173.4L530.5,173.4L531.5,173.5L532.4,173.6L533.3,173.7L534.3,173.7L535.2,173.8L536.0,173.8L536.8,173.9L537.5,173.9L538.0,174.0L538.5,174.0" fill="none" stroke="#3daa6a" stroke-width="1.20"/>
<path d="M327.9,99.3L328.4,99.4L329.2,99.6L330.1,99.8L331.0,99.9L331.8,99.9L332.5,99.7L333.1,99.4L333.7,98.9L334.4,98.5L335.0,98.1L335.6,97.7L336.2,97.3L336.8,96.8L337.4,96.4L337.9,96.1L338.5,95.9L339.3,96.0L340.0,96.5L340.7,96.9L341.4,96.5L341.7,96.2L341.9,95.7L342.2,95.2L342.4,94.7L342.7,94.0L342.9,93.3L343.2,92.6L343.5,91.7L343.8,90.8L344.1,89.9L344.5,88.8L344.7,88.2L344.9,87.6L345.1,87.0L345.4,86.4L345.6,85.7L345.9,85.0L346.1,84.3L346.4,83.6L346.6,82.9L346.9,82.1L347.2,81.3L347.4,80.5L347.7,79.7L348.0,78.9L348.3,78.0L348.5,77.2L348.8,76.3L349.1,75.4L349.4,74.4L349.7,73.5L350.0,72.6L350.2,71.9L350.4,71.2L350.6,70.4L350.9,69.7L351.1,68.9L351.3,68.1L351.6,67.2L351.8,66.4L352.0,65.5L352.3,64.7L352.5,63.8L352.8,62.9L353.0,62.0L353.3,61.1L353.5,60.2L353.8,59.3L354.0,58.5L354.2,57.6L354.5,56.7L354.7,55.9L354.9,55.0L355.2,54.2L355.4,53.4L355.6,52.6L355.8,51.8L356.0,51.1L356.2,50.4L356.4,49.7L356.6,49.1L356.8,48.5L357.2,47.3L357.5,46.2L357.8,45.2L358.1,44.3L358.4,43.5L358.7,42.7L358.9,42.0L359.2,41.3L359.4,40.7L359.6,40.1L359.8,39.5L360.1,38.9L360.3,38.3L360.5,37.6L360.8,36.7L361.1,35.8L361.3,35.0L361.6,34.1L361.8,33.3L362.1,32.6L362.3,31.8L362.5,31.1L362.8,30.4L363.0,29.8L363.4,28.9L363.7,27.9L364.1,27.0L364.5,26.2L364.8,25.6L365.2,25.1L365.6,25.0L366.0,25.0L366.4,25.3L366.8,25.7L367.2,26.3L367.6,27.2L367.9,28.3L368.3,29.8L368.4,30.3L368.5,30.9L368.6,31.5L368.7,32.1L368.8,32.8L368.8,33.5L368.9,34.2L369.0,35.0L369.1,35.7L369.1,36.5L369.2,37.4L369.3,38.2L369.4,39.1L369.5,40.0L369.6,40.9L369.6,41.8L369.8,42.8L369.9,43.7L370.0,44.7L370.1,45.7L370.2,46.7L370.4,47.8L370.5,48.5L370.6,49.2L370.7,50.0L370.9,50.7L371.0,51.5L371.1,52.4L371.3,53.2L371.4,54.0L371.6,54.9L371.7,55.8L371.9,56.6L372.0,57.5L372.2,58.4L372.4,59.4L372.5,60.3L372.7,61.2L372.9,62.1L373.0,63.0L373.2,63.9L373.3,64.8L373.5,65.7L373.7,66.6L373.8,67.5L374.0,68.4L374.1,69.3L374.3,70.1L374.4,71.0L374.6,71.8L374.7,72.6L374.8,73.4L375.0,74.2L375.1,74.9L375.2,75.6L375.4,76.6L375.5,77.6L375.6,78.5L375.8,79.5L375.9,80.4L376.0,81.3L376.1,82.1L376.2,83.0L376.3,83.8L376.4,84.7L376.5,85.5L376.6,86.3L376.7,87.0L376.8,87.8L376.9,88.6L377.0,89.3L377.1,90.0L377.2,90.8L377.3,91.5L377.4,92.2L377.5,92.9L377.6,93.6L377.7,94.3L377.9,95.3L378.0,96.2L378.2,97.1L378.4,98.0L378.6,98.9L378.7,99.7L378.9,100.5L379.1,101.3L379.3,102.1L379.5,102.9L379.6,103.7L379.8,104.4L380.0,105.2L380.2,106.0L380.3,106.8L380.5,107.6L380.7,108.4L380.8,109.2L381.0,110.0L381.1,110.8L381.3,111.6L381.4,112.3L381.6,113.1L381.7,113.9L381.9,114.7L382.0,115.4L382.1,116.2L382.3,117.1L382.4,117.9L382.6,118.8L382.7,119.7L382.9,120.6L383.0,121.3L383.1,122.1L383.3,122.8L383.4,123.6L383.5,124.4L383.6,125.2L383.8,126.0L383.9,126.8L384.0,127.7L384.1,128.5L384.3,129.4L384.4,130.2L384.5,131.1L384.6,131.9L384.8,132.8L384.9,133.6L385.0,134.5L385.1,135.3L385.3,136.2L385.4,137.0L385.5,137.8L385.6,138.6L385.7,139.5L385.9,140.3L386.0,141.2L386.1,142.1L386.2,143.0L386.3,143.9L386.5,144.8L386.6,145.7L386.7,146.5L386.8,147.4L386.9,148.3L387.0,149.1L387.2,149.9L387.3,150.8L387.4,151.6L387.5,152.3L387.6,153.1L387.8,153.8L387.9,154.4L388.0,155.1L388.2,156.2L388.5,157.2L388.7,158.2L388.9,159.1L389.1,159.9L389.4,160.6L389.6,161.3L389.8,161.9L390.1,162.6L390.3,163.1L390.6,163.7L391.1,164.6L391.6,165.3L392.2,165.8L392.7,166.3L393.3,166.7L394.0,167.1L394.6,167.4L395.3,167.7L396.0,167.9L396.8,168.1L397.5,168.2L398.3,168.4L399.0,168.5L399.7,168.6L400.5,168.8L401.2,168.9L402.0,169.0L402.7,169.1L403.5,169.2L404.3,169.2L405.1,169.2L405.9,169.1L406.6,169.1L407.4,169.0L408.3,168.9L409.1,168.7L410.0,168.5L410.6,168.3L411.3,168.0L411.9,167.7L412.6,167.4L413.3,167.1L414.0,166.8L414.8,166.5L415.5,166.3L416.3,166.2L417.2,166.2L417.9,166.3L418.6,166.5L419.3,166.7L420.1,167.0L420.9,167.4L421.7,167.7L422.5,168.1L423.3,168.5L424.1,168.9L424.9,169.2L425.6,169.5L426.4,169.7L427.1,169.9L427.7,170.0L428.6,170.0L429.4,169.8L430.2,169.4L430.9,169.0L431.6,168.6L432.3,168.2L433.0,167.9L433.7,167.6L434.4,167.6L435.0,167.7L435.5,167.9L436.0,168.2L436.5,168.6L437.0,169.0L437.5,169.5L438.2,169.9L439.0,170.3L439.9,170.7L441.1,171.0L441.7,171.1L442.3,171.2L442.9,171.3L443.6,171.5L444.3,171.6L445.1,171.7L445.9,171.8L446.7,171.9L447.5,172.1L448.4,172.2L449.2,172.3L450.1,172.4L451.0,172.5L451.9,172.6L452.8,172.6L453.7,172.7L454.5,172.8L455.4,172.8L456.3,172.9L457.1,172.9L457.9,172.9L458.7,172.9L459.5,172.9L460.2,172.9L461.1,172.8L462.0,172.7L462.9,172.6L463.7,172.4L464.6,172.2L465.4,172.0L466.3,171.8L467.1,171.6L467.9,171.3L468.7,171.1L469.5,170.8L470.3,170.6L471.1,170.3L471.8,170.1L472.6,169.9L473.3,169.8L474.1,169.7L474.8,169.6L475.5,169.5L476.4,169.5L477.3,169.5L478.1,169.6L479.0,169.7L479.8,169.9L480.6,170.1L481.4,170.3L482.2,170.5L483.0,170.7L483.7,170.9L484.4,171.1L485.1,171.3L485.8,171.4L486.5,171.5L487.1,171.6L488.1,171.7L489.0,171.7L489.9,171.7L490.7,171.6L491.5,171.5L492.2,171.4L492.9,171.3L493.5,171.1L494.2,170.8L494.9,170.5L495.5,170.1L496.1,169.8L496.7,169.3L497.2,168.8L497.8,168.2L498.3,167.5L498.9,166.6L499.2,166.0L499.6,165.4L499.9,164.7L500.2,164.0L500.6,163.2L500.9,162.4L501.3,161.6L501.6,160.8L501.9,159.9L502.3,159.1L502.6,158.3L502.9,157.5L503.3,156.7L503.6,156.0L504.0,155.2L504.4,154.3L504.8,153.3L505.1,152.4L505.5,151.4L505.9,150.5L506.3,149.7L506.7,148.9L507.0,148.3L507.4,147.7L507.8,147.3L508.1,147.1L508.6,147.0L509.1,147.3L509.6,147.8L510.1,148.5L510.5,149.4L511.0,150.4L511.4,151.4L511.9,152.5L512.1,153.1L512.4,153.8L512.6,154.5L512.8,155.3L513.1,156.1L513.3,157.0L513.5,157.9L513.8,158.7L514.0,159.6L514.2,160.5L514.5,161.3L514.7,162.1L515.0,162.9L515.2,163.6L515.5,164.3L515.9,165.1L516.3,165.9L516.6,166.7L517.0,167.5L517.4,168.1L517.8,168.8L518.3,169.4L518.7,170.0L519.2,170.5L519.7,171.0L520.2,171.4L520.9,171.8L521.5,172.2L522.2,172.4L523.0,172.6L523.7,172.7L524.5,172.8L525.4,172.9L526.3,173.0L527.3,173.1L528.0,173.2L528.8,173.3L529.6,173.4L530.5,173.4L531.5,173.5L532.4,173.6L533.3,173.7L534.3,173.7L535.2,173.8L536.0,173.8L536.8,173.9L537.5,173.9L538.0,174.0L538.5,174.0" fill="none" stroke="#b48cf0" stroke-width="1.20"/>
<path d="M327.9,99.4L328.4,99.6L329.2,99.8L330.1,100.0L331.0,100.2L331.8,100.1L332.5,100.0L333.1,99.6L333.7,99.2L334.4,98.8L335.0,98.3L335.6,98.0L336.2,97.5L336.8,97.1L337.4,96.6L337.9,96.3L338.5,96.1L339.3,96.2L340.0,96.7L340.7,97.0L341.4,96.7L341.7,96.3L341.9,95.9L342.2,95.4L342.4,94.8L342.7,94.2L342.9,93.5L343.2,92.7L343.5,91.8L343.8,90.9L344.1,90.0L344.5,88.9L344.7,88.3L344.9,87.7L345.1,87.1L345.4,86.5L345.6,85.8L345.9,85.1L346.1,84.4L346.4,83.7L346.6,83.0L346.9,82.2L347.2,81.4L347.4,80.6L347.7,79.8L348.0,79.0L348.3,78.1L348.5,77.3L348.8,76.4L349.1,75.5L349.4,74.6L349.7,73.7L350.0,72.7L350.2,72.1L350.4,71.3L350.6,70.6L350.9,69.9L351.1,69.1L351.3,68.3L351.6,67.5L351.8,66.6L352.0,65.8L352.3,64.9L352.5,64.1L352.8,63.2L353.0,62.3L353.3,61.5L353.5,60.6L353.8,59.7L354.0,58.8L354.2,58.0L354.5,57.1L354.7,56.3L354.9,55.5L355.2,54.7L355.4,53.9L355.6,53.1L355.8,52.4L356.0,51.6L356.2,51.0L356.4,50.3L356.6,49.7L356.8,49.1L357.2,47.9L357.5,46.9L357.8,45.9L358.1,45.0L358.4,44.2L358.7,43.5L358.9,42.8L359.2,42.2L359.4,41.6L359.6,41.0L359.8,40.4L360.1,39.8L360.3,39.2L360.5,38.6L360.8,37.7L361.1,36.8L361.3,36.0L361.6,35.2L361.8,34.4L362.1,33.6L362.3,32.9L362.5,32.2L362.8,31.5L363.0,30.9L363.4,30.0L363.7,29.0L364.1,28.2L364.5,27.4L364.8,26.7L365.2,26.3L365.6,26.1L366.0,26.2L366.4,26.4L366.8,26.8L367.2,27.4L367.6,28.3L367.9,29.4L368.3,30.9L368.4,31.4L368.5,32.0L368.6,32.6L368.7,33.2L368.8,33.9L368.8,34.6L368.9,35.3L369.0,36.0L369.1,36.8L369.1,37.6L369.2,38.4L369.3,39.3L369.4,40.1L369.5,41.0L369.6,41.9L369.6,42.8L369.8,43.8L369.9,44.7L370.0,45.7L370.1,46.7L370.2,47.7L370.4,48.7L370.5,49.4L370.6,50.2L370.7,50.9L370.9,51.7L371.0,52.5L371.1,53.3L371.3,54.1L371.4,54.9L371.6,55.8L371.7,56.6L371.9,57.5L372.0,58.4L372.2,59.3L372.4,60.2L372.5,61.0L372.7,61.9L372.9,62.9L373.0,63.8L373.2,64.7L373.3,65.5L373.5,66.4L373.7,67.3L373.8,68.2L374.0,69.1L374.1,69.9L374.3,70.8L374.4,71.6L374.6,72.4L374.7,73.2L374.8,74.0L375.0,74.7L375.1,75.4L375.2,76.2L375.4,77.1L375.5,78.1L375.6,79.0L375.8,80.0L375.9,80.9L376.0,81.8L376.1,82.6L376.2,83.5L376.3,84.3L376.4,85.1L376.5,85.9L376.6,86.7L376.7,87.5L376.8,88.2L376.9,89.0L377.0,89.7L377.1,90.4L377.2,91.2L377.3,91.9L377.4,92.6L377.5,93.3L377.6,94.0L377.7,94.7L377.9,95.6L378.0,96.6L378.2,97.5L378.4,98.3L378.6,99.2L378.7,100.0L378.9,100.8L379.1,101.6L379.3,102.4L379.5,103.1L379.6,103.9L379.8,104.7L380.0,105.4L380.2,106.2L380.3,107.0L380.5,107.8L380.7,108.6L380.8,109.4L381.0,110.2L381.1,111.0L381.3,111.7L381.4,112.5L381.6,113.2L381.7,114.0L381.9,114.8L382.0,115.6L382.1,116.4L382.3,117.2L382.4,118.0L382.6,118.9L382.7,119.8L382.9,120.7L383.0,121.4L383.1,122.2L383.3,122.9L383.4,123.7L383.5,124.5L383.6,125.3L383.8,126.1L383.9,126.9L384.0,127.8L384.1,128.6L384.3,129.4L384.4,130.3L384.5,131.1L384.6,132.0L384.8,132.8L384.9,133.7L385.0,134.5L385.1,135.4L385.3,136.2L385.4,137.0L385.5,137.9L385.6,138.7L385.7,139.5L385.9,140.4L386.0,141.3L386.1,142.1L386.2,143.0L386.3,143.9L386.5,144.8L386.6,145.7L386.7,146.6L386.8,147.4L386.9,148.3L387.0,149.1L387.2,150.0L387.3,150.8L387.4,151.6L387.5,152.3L387.6,153.1L387.8,153.8L387.9,154.4L388.0,155.1L388.2,156.2L388.5,157.2L388.7,158.2L388.9,159.1L389.1,159.9L389.4,160.6L389.6,161.3L389.8,162.0L390.1,162.6L390.3,163.1L390.6,163.7L391.1,164.6L391.6,165.3L392.2,165.8L392.7,166.3L393.3,166.7L394.0,167.1L394.6,167.4L395.3,167.7L396.0,167.9L396.8,168.1L397.5,168.2L398.3,168.4L399.0,168.5L399.7,168.6L400.5,168.8L401.2,168.9L402.0,169.0L402.7,169.1L403.5,169.2L404.3,169.2L405.1,169.2L405.9,169.1L406.6,169.1L407.4,169.0L408.3,168.9L409.1,168.7L410.0,168.5L410.6,168.3L411.3,168.0L411.9,167.7L412.6,167.4L413.3,167.1L414.0,166.8L414.8,166.5L415.5,166.3L416.3,166.2L417.2,166.2L417.9,166.3L418.6,166.5L419.3,166.7L420.1,167.0L420.9,167.4L421.7,167.7L422.5,168.1L423.3,168.5L424.1,168.9L424.9,169.2L425.6,169.5L426.4,169.7L427.1,169.9L427.7,170.0L428.6,170.0L429.4,169.8L430.2,169.4L430.9,169.0L431.6,168.6L432.3,168.2L433.0,167.9L433.7,167.6L434.4,167.6L435.0,167.7L435.5,167.9L436.0,168.2L436.5,168.6L437.0,169.0L437.5,169.5L438.2,169.9L439.0,170.3L439.9,170.7L441.1,171.0L441.7,171.1L442.3,171.2L442.9,171.3L443.6,171.5L444.3,171.6L445.1,171.7L445.9,171.8L446.7,171.9L447.5,172.1L448.4,172.2L449.2,172.3L450.1,172.4L451.0,172.5L451.9,172.6L452.8,172.6L453.7,172.7L454.5,172.8L455.4,172.8L456.3,172.9L457.1,172.9L457.9,172.9L458.7,172.9L459.5,172.9L460.2,172.9L461.1,172.8L462.0,172.7L462.9,172.6L463.7,172.4L464.6,172.2L465.4,172.0L466.3,171.8L467.1,171.6L467.9,171.3L468.7,171.1L469.5,170.8L470.3,170.6L471.1,170.3L471.8,170.1L472.6,169.9L473.3,169.8L474.1,169.7L474.8,169.6L475.5,169.5L476.4,169.5L477.3,169.5L478.1,169.6L479.0,169.7L479.8,169.9L480.6,170.1L481.4,170.3L482.2,170.5L483.0,170.7L483.7,170.9L484.4,171.1L485.1,171.3L485.8,171.4L486.5,171.5L487.1,171.6L488.1,171.7L489.0,171.7L489.9,171.7L490.7,171.6L491.5,171.5L492.2,171.4L492.9,171.3L493.5,171.1L494.2,170.8L494.9,170.5L495.5,170.1L496.1,169.8L496.7,169.3L497.2,168.8L497.8,168.2L498.3,167.5L498.9,166.6L499.2,166.0L499.6,165.4L499.9,164.7L500.2,164.0L500.6,163.2L500.9,162.4L501.3,161.6L501.6,160.8L501.9,159.9L502.3,159.1L502.6,158.3L502.9,157.5L503.3,156.7L503.6,156.0L504.0,155.2L504.4,154.3L504.8,153.3L505.1,152.4L505.5,151.4L505.9,150.5L506.3,149.7L506.7,148.9L507.0,148.3L507.4,147.7L507.8,147.3L508.1,147.1L508.6,147.0L509.1,147.3L509.6,147.8L510.1,148.5L510.5,149.4L511.0,150.4L511.4,151.4L511.9,152.5L512.1,153.1L512.4,153.8L512.6,154.5L512.8,155.3L513.1,156.1L513.3,157.0L513.5,157.9L513.8,158.7L514.0,159.6L514.2,160.5L514.5,161.3L514.7,162.1L515.0,162.9L515.2,163.6L515.5,164.3L515.9,165.1L516.3,165.9L516.6,166.7L517.0,167.5L517.4,168.1L517.8,168.8L518.3,169.4L518.7,170.0L519.2,170.5L519.7,171.0L520.2,171.4L520.9,171.8L521.5,172.2L522.2,172.4L523.0,172.6L523.7,172.7L524.5,172.8L525.4,172.9L526.3,173.0L527.3,173.1L528.0,173.2L528.8,173.3L529.6,173.4L530.5,173.4L531.5,173.5L532.4,173.6L533.3,173.7L534.3,173.7L535.2,173.8L536.0,173.8L536.8,173.9L537.5,173.9L538.0,174.0L538.5,174.0" fill="none" stroke="#dda520" stroke-width="1.20"/>
<path d="M327.9,99.6L328.4,99.8L329.2,100.0L330.1,100.2L331.0,100.4L331.8,100.4L332.5,100.2L333.1,99.9L333.7,99.5L334.4,99.0L335.0,98.6L335.6,98.2L336.2,97.8L336.8,97.3L337.4,96.9L337.9,96.5L338.5,96.3L339.3,96.4L340.0,96.9L340.7,97.2L341.4,96.8L341.7,96.4L341.9,96.0L342.2,95.5L342.4,94.9L342.7,94.3L342.9,93.6L343.2,92.8L343.5,92.0L343.8,91.0L344.1,90.1L344.5,89.0L344.7,88.4L344.9,87.8L345.1,87.2L345.4,86.6L345.6,85.9L345.9,85.2L346.1,84.5L346.4,83.8L346.6,83.1L346.9,82.3L347.2,81.5L347.4,80.7L347.7,79.9L348.0,79.1L348.3,78.3L348.5,77.4L348.8,76.5L349.1,75.6L349.4,74.7L349.7,73.8L350.0,72.9L350.2,72.2L350.4,71.5L350.6,70.8L350.9,70.1L351.1,69.3L351.3,68.5L351.6,67.7L351.8,66.9L352.0,66.1L352.3,65.2L352.5,64.4L352.8,63.5L353.0,62.6L353.3,61.8L353.5,60.9L353.8,60.1L354.0,59.2L354.2,58.4L354.5,57.6L354.7,56.7L354.9,55.9L355.2,55.1L355.4,54.4L355.6,53.6L355.8,52.9L356.0,52.2L356.2,51.5L356.4,50.9L356.6,50.3L356.8,49.7L357.2,48.6L357.5,47.5L357.8,46.6L358.1,45.8L358.4,45.0L358.7,44.3L358.9,43.6L359.2,43.0L359.4,42.4L359.6,41.8L359.8,41.3L360.1,40.7L360.3,40.1L360.5,39.5L360.8,38.6L361.1,37.8L361.3,37.0L361.6,36.2L361.8,35.4L362.1,34.7L362.3,34.0L362.5,33.3L362.8,32.6L363.0,32.0L363.4,31.1L363.7,30.2L364.1,29.3L364.5,28.5L364.8,27.9L365.2,27.5L365.6,27.3L366.0,27.4L366.4,27.6L366.8,28.0L367.2,28.6L367.6,29.4L367.9,30.6L368.3,32.0L368.4,32.5L368.5,33.1L368.6,33.7L368.7,34.3L368.8,35.0L368.8,35.6L368.9,36.3L369.0,37.1L369.1,37.9L369.1,38.6L369.2,39.5L369.3,40.3L369.4,41.2L369.5,42.0L369.6,42.9L369.6,43.9L369.8,44.8L369.9,45.7L370.0,46.7L370.1,47.7L370.2,48.7L370.4,49.7L370.5,50.4L370.6,51.1L370.7,51.8L370.9,52.6L371.0,53.4L371.1,54.2L371.3,55.0L371.4,55.8L371.6,56.6L371.7,57.5L371.9,58.3L372.0,59.2L372.2,60.1L372.4,61.0L372.5,61.8L372.7,62.7L372.9,63.6L373.0,64.5L373.2,65.4L373.3,66.3L373.5,67.1L373.7,68.0L373.8,68.9L374.0,69.7L374.1,70.6L374.3,71.4L374.4,72.2L374.6,73.0L374.7,73.8L374.8,74.5L375.0,75.3L375.1,76.0L375.2,76.7L375.4,77.7L375.5,78.6L375.6,79.6L375.8,80.5L375.9,81.4L376.0,82.2L376.1,83.1L376.2,83.9L376.3,84.7L376.4,85.5L376.5,86.3L376.6,87.1L376.7,87.9L376.8,88.6L376.9,89.4L377.0,90.1L377.1,90.8L377.2,91.5L377.3,92.2L377.4,92.9L377.5,93.6L377.6,94.3L377.7,95.0L377.9,96.0L378.0,96.9L378.2,97.8L378.4,98.6L378.6,99.5L378.7,100.3L378.9,101.1L379.1,101.8L379.3,102.6L379.5,103.4L379.6,104.1L379.8,104.9L380.0,105.7L380.2,106.4L380.3,107.2L380.5,108.0L380.7,108.8L380.8,109.6L381.0,110.4L381.1,111.1L381.3,111.9L381.4,112.6L381.6,113.4L381.7,114.1L381.9,114.9L382.0,115.7L382.1,116.5L382.3,117.3L382.4,118.1L382.6,119.0L382.7,119.9L382.9,120.8L383.0,121.5L383.1,122.3L383.3,123.0L383.4,123.8L383.5,124.6L383.6,125.4L383.8,126.2L383.9,127.0L384.0,127.8L384.1,128.7L384.3,129.5L384.4,130.3L384.5,131.2L384.6,132.0L384.8,132.9L384.9,133.7L385.0,134.6L385.1,135.4L385.3,136.2L385.4,137.1L385.5,137.9L385.6,138.7L385.7,139.6L385.9,140.4L386.0,141.3L386.1,142.2L386.2,143.1L386.3,143.9L386.5,144.8L386.6,145.7L386.7,146.6L386.8,147.5L386.9,148.3L387.0,149.2L387.2,150.0L387.3,150.8L387.4,151.6L387.5,152.4L387.6,153.1L387.8,153.8L387.9,154.5L388.0,155.1L388.2,156.2L388.5,157.3L388.7,158.2L388.9,159.1L389.1,159.9L389.4,160.6L389.6,161.3L389.8,162.0L390.1,162.6L390.3,163.1L390.6,163.7L391.1,164.6L391.6,165.3L392.2,165.8L392.7,166.3L393.3,166.7L394.0,167.1L394.6,167.4L395.3,167.7L396.0,167.9L396.8,168.1L397.5,168.2L398.3,168.4L399.0,168.5L399.7,168.6L400.5,168.8L401.2,168.9L402.0,169.0L402.7,169.1L403.5,169.2L404.3,169.2L405.1,169.2L405.9,169.1L406.6,169.1L407.4,169.0L408.3,168.9L409.1,168.7L410.0,168.5L410.6,168.3L411.3,168.0L411.9,167.7L412.6,167.4L413.3,167.1L414.0,166.8L414.8,166.5L415.5,166.3L416.3,166.2L417.2,166.2L417.9,166.3L418.6,166.5L419.3,166.7L420.1,167.0L420.9,167.4L421.7,167.7L422.5,168.1L423.3,168.5L424.1,168.9L424.9,169.2L425.6,169.5L426.4,169.7L427.1,169.9L427.7,170.0L428.6,170.0L429.4,169.8L430.2,169.4L430.9,169.0L431.6,168.6L432.3,168.2L433.0,167.9L433.7,167.6L434.4,167.6L435.0,167.7L435.5,167.9L436.0,168.2L436.5,168.6L437.0,169.0L437.5,169.5L438.2,169.9L439.0,170.3L439.9,170.7L441.1,171.0L441.7,171.1L442.3,171.2L442.9,171.3L443.6,171.5L444.3,171.6L445.1,171.7L445.9,171.8L446.7,171.9L447.5,172.1L448.4,172.2L449.2,172.3L450.1,172.4L451.0,172.5L451.9,172.6L452.8,172.6L453.7,172.7L454.5,172.8L455.4,172.8L456.3,172.9L457.1,172.9L457.9,172.9L458.7,172.9L459.5,172.9L460.2,172.9L461.1,172.8L462.0,172.7L462.9,172.6L463.7,172.4L464.6,172.2L465.4,172.0L466.3,171.8L467.1,171.6L467.9,171.3L468.7,171.1L469.5,170.8L470.3,170.6L471.1,170.3L471.8,170.1L472.6,169.9L473.3,169.8L474.1,169.7L474.8,169.6L475.5,169.5L476.4,169.5L477.3,169.5L478.1,169.6L479.0,169.7L479.8,169.9L480.6,170.1L481.4,170.3L482.2,170.5L483.0,170.7L483.7,170.9L484.4,171.1L485.1,171.3L485.8,171.4L486.5,171.5L487.1,171.6L488.1,171.7L489.0,171.7L489.9,171.7L490.7,171.6L491.5,171.5L492.2,171.4L492.9,171.3L493.5,171.1L494.2,170.8L494.9,170.5L495.5,170.1L496.1,169.8L496.7,169.3L497.2,168.8L497.8,168.2L498.3,167.5L498.9,166.6L499.2,166.0L499.6,165.4L499.9,164.7L500.2,164.0L500.6,163.2L500.9,162.4L501.3,161.6L501.6,160.8L501.9,159.9L502.3,159.1L502.6,158.3L502.9,157.5L503.3,156.7L503.6,156.0L504.0,155.2L504.4,154.3L504.8,153.3L505.1,152.4L505.5,151.4L505.9,150.5L506.3,149.7L506.7,148.9L507.0,148.3L507.4,147.7L507.8,147.3L508.1,147.1L508.6,147.0L509.1,147.3L509.6,147.8L510.1,148.5L510.5,149.4L511.0,150.4L511.4,151.4L511.9,152.5L512.1,153.1L512.4,153.8L512.6,154.5L512.8,155.3L513.1,156.1L513.3,157.0L513.5,157.9L513.8,158.7L514.0,159.6L514.2,160.5L514.5,161.3L514.7,162.1L515.0,162.9L515.2,163.6L515.5,164.3L515.9,165.1L516.3,165.9L516.6,166.7L517.0,167.5L517.4,168.1L517.8,168.8L518.3,169.4L518.7,170.0L519.2,170.5L519.7,171.0L520.2,171.4L520.9,171.8L521.5,172.2L522.2,172.4L523.0,172.6L523.7,172.7L524.5,172.8L525.4,172.9L526.3,173.0L527.3,173.1L528.0,173.2L528.8,173.3L529.6,173.4L530.5,173.4L531.5,173.5L532.4,173.6L533.3,173.7L534.3,173.7L535.2,173.8L536.0,173.8L536.8,173.9L537.5,173.9L538.0,174.0L538.5,174.0" fill="none" stroke="#2ed0e0" stroke-width="1.20"/>
<path d="M327.9,99.8L328.4,99.9L329.2,100.2L330.1,100.4L331.0,100.6L331.8,100.7L332.5,100.5L333.1,100.2L333.7,99.7L334.4,99.3L335.0,98.9L335.6,98.5L336.2,98.0L336.8,97.6L337.4,97.1L337.9,96.7L338.5,96.5L339.3,96.6L340.0,97.1L340.7,97.4L341.4,96.9L341.7,96.6L341.9,96.1L342.2,95.6L342.4,95.0L342.7,94.4L342.9,93.7L343.2,92.9L343.5,92.1L343.8,91.1L344.1,90.2L344.5,89.1L344.7,88.5L344.9,87.9L345.1,87.3L345.4,86.6L345.6,86.0L345.9,85.3L346.1,84.6L346.4,83.9L346.6,83.2L346.9,82.4L347.2,81.6L347.4,80.8L347.7,80.0L348.0,79.2L348.3,78.4L348.5,77.5L348.8,76.7L349.1,75.8L349.4,74.9L349.7,74.0L350.0,73.1L350.2,72.4L350.4,71.7L350.6,71.0L350.9,70.3L351.1,69.5L351.3,68.7L351.6,67.9L351.8,67.1L352.0,66.3L352.3,65.5L352.5,64.7L352.8,63.8L353.0,63.0L353.3,62.1L353.5,61.3L353.8,60.4L354.0,59.6L354.2,58.8L354.5,58.0L354.7,57.2L354.9,56.4L355.2,55.6L355.4,54.9L355.6,54.1L355.8,53.4L356.0,52.7L356.2,52.1L356.4,51.5L356.6,50.9L356.8,50.3L357.2,49.2L357.5,48.2L357.8,47.3L358.1,46.5L358.4,45.7L358.7,45.1L358.9,44.4L359.2,43.8L359.4,43.3L359.6,42.7L359.8,42.2L360.1,41.6L360.3,41.0L360.5,40.4L360.8,39.6L361.1,38.8L361.3,38.0L361.6,37.2L361.8,36.4L362.1,35.7L362.3,35.0L362.5,34.4L362.8,33.7L363.0,33.1L363.4,32.2L363.7,31.3L364.1,30.4L364.5,29.7L364.8,29.0L365.2,28.6L365.6,28.5L366.0,28.5L366.4,28.7L366.8,29.1L367.2,29.7L367.6,30.6L367.9,31.7L368.3,33.1L368.4,33.6L368.5,34.2L368.6,34.8L368.7,35.4L368.8,36.0L368.8,36.7L368.9,37.4L369.0,38.1L369.1,38.9L369.1,39.7L369.2,40.5L369.3,41.3L369.4,42.2L369.5,43.1L369.6,44.0L369.6,44.9L369.8,45.8L369.9,46.7L370.0,47.7L370.1,48.7L370.2,49.7L370.4,50.7L370.5,51.3L370.6,52.0L370.7,52.8L370.9,53.5L371.0,54.3L371.1,55.1L371.3,55.9L371.4,56.7L371.6,57.5L371.7,58.3L371.9,59.2L372.0,60.0L372.2,60.9L372.4,61.8L372.5,62.6L372.7,63.5L372.9,64.4L373.0,65.2L373.2,66.1L373.3,67.0L373.5,67.8L373.7,68.7L373.8,69.5L374.0,70.4L374.1,71.2L374.3,72.0L374.4,72.8L374.6,73.6L374.7,74.4L374.8,75.1L375.0,75.8L375.1,76.6L375.2,77.2L375.4,78.2L375.5,79.1L375.6,80.1L375.8,81.0L375.9,81.8L376.0,82.7L376.1,83.5L376.2,84.4L376.3,85.2L376.4,86.0L376.5,86.8L376.6,87.5L376.7,88.3L376.8,89.0L376.9,89.8L377.0,90.5L377.1,91.2L377.2,91.9L377.3,92.6L377.4,93.3L377.5,94.0L377.6,94.7L377.7,95.3L377.9,96.3L378.0,97.2L378.2,98.1L378.4,98.9L378.6,99.8L378.7,100.6L378.9,101.3L379.1,102.1L379.3,102.9L379.5,103.6L379.6,104.4L379.8,105.1L380.0,105.9L380.2,106.6L380.3,107.4L380.5,108.2L380.7,109.0L380.8,109.8L381.0,110.5L381.1,111.3L381.3,112.0L381.4,112.8L381.6,113.5L381.7,114.3L381.9,115.0L382.0,115.8L382.1,116.6L382.3,117.4L382.4,118.2L382.6,119.1L382.7,120.0L382.9,120.9L383.0,121.6L383.1,122.4L383.3,123.1L383.4,123.9L383.5,124.7L383.6,125.4L383.8,126.3L383.9,127.1L384.0,127.9L384.1,128.7L384.3,129.6L384.4,130.4L384.5,131.2L384.6,132.1L384.8,132.9L384.9,133.8L385.0,134.6L385.1,135.5L385.3,136.3L385.4,137.1L385.5,137.9L385.6,138.8L385.7,139.6L385.9,140.5L386.0,141.3L386.1,142.2L386.2,143.1L386.3,144.0L386.5,144.9L386.6,145.7L386.7,146.6L386.8,147.5L386.9,148.4L387.0,149.2L387.2,150.0L387.3,150.8L387.4,151.6L387.5,152.4L387.6,153.1L387.8,153.8L387.9,154.5L388.0,155.1L388.2,156.2L388.5,157.3L388.7,158.2L388.9,159.1L389.1,159.9L389.4,160.6L389.6,161.3L389.8,162.0L390.1,162.6L390.3,163.2L390.6,163.7L391.1,164.6L391.6,165.3L392.2,165.9L392.7,166.3L393.3,166.7L394.0,167.1L394.6,167.4L395.3,167.7L396.0,167.9L396.8,168.1L397.5,168.2L398.3,168.4L399.0,168.5L399.7,168.6L400.5,168.8L401.2,168.9L402.0,169.0L402.7,169.1L403.5,169.2L404.3,169.2L405.1,169.2L405.9,169.1L406.6,169.1L407.4,169.0L408.3,168.9L409.1,168.7L410.0,168.5L410.6,168.3L411.3,168.0L411.9,167.7L412.6,167.4L413.3,167.1L414.0,166.8L414.8,166.5L415.5,166.3L416.3,166.2L417.2,166.2L417.9,166.3L418.6,166.5L419.3,166.7L420.1,167.0L420.9,167.4L421.7,167.7L422.5,168.1L423.3,168.5L424.1,168.9L424.9,169.2L425.6,169.5L426.4,169.7L427.1,169.9L427.7,170.0L428.6,170.0L429.4,169.8L430.2,169.4L430.9,169.0L431.6,168.6L432.3,168.2L433.0,167.9L433.7,167.6L434.4,167.6L435.0,167.7L435.5,167.9L436.0,168.2L436.5,168.6L437.0,169.0L437.5,169.5L438.2,169.9L439.0,170.3L439.9,170.7L441.1,171.0L441.7,171.1L442.3,171.2L442.9,171.3L443.6,171.5L444.3,171.6L445.1,171.7L445.9,171.8L446.7,171.9L447.5,172.1L448.4,172.2L449.2,172.3L450.1,172.4L451.0,172.5L451.9,172.6L452.8,172.6L453.7,172.7L454.5,172.8L455.4,172.8L456.3,172.9L457.1,172.9L457.9,172.9L458.7,172.9L459.5,172.9L460.2,172.9L461.1,172.8L462.0,172.7L462.9,172.6L463.7,172.4L464.6,172.2L465.4,172.0L466.3,171.8L467.1,171.6L467.9,171.3L468.7,171.1L469.5,170.8L470.3,170.6L471.1,170.3L471.8,170.1L472.6,169.9L473.3,169.8L474.1,169.7L474.8,169.6L475.5,169.5L476.4,169.5L477.3,169.5L478.1,169.6L479.0,169.7L479.8,169.9L480.6,170.1L481.4,170.3L482.2,170.5L483.0,170.7L483.7,170.9L484.4,171.1L485.1,171.3L485.8,171.4L486.5,171.5L487.1,171.6L488.1,171.7L489.0,171.7L489.9,171.7L490.7,171.6L491.5,171.5L492.2,171.4L492.9,171.3L493.5,171.1L494.2,170.8L494.9,170.5L495.5,170.1L496.1,169.8L496.7,169.3L497.2,168.8L497.8,168.2L498.3,167.5L498.9,166.6L499.2,166.0L499.6,165.4L499.9,164.7L500.2,164.0L500.6,163.2L500.9,162.4L501.3,161.6L501.6,160.8L501.9,159.9L502.3,159.1L502.6,158.3L502.9,157.5L503.3,156.7L503.6,156.0L504.0,155.2L504.4,154.3L504.8,153.3L505.1,152.4L505.5,151.4L505.9,150.5L506.3,149.7L506.7,148.9L507.0,148.3L507.4,147.7L507.8,147.3L508.1,147.1L508.6,147.0L509.1,147.3L509.6,147.8L510.1,148.5L510.5,149.4L511.0,150.4L511.4,151.4L511.9,152.5L512.1,153.1L512.4,153.8L512.6,154.5L512.8,155.3L513.1,156.1L513.3,157.0L513.5,157.9L513.8,158.7L514.0,159.6L514.2,160.5L514.5,161.3L514.7,162.1L515.0,162.9L515.2,163.6L515.5,164.3L515.9,165.1L516.3,165.9L516.6,166.7L517.0,167.5L517.4,168.1L517.8,168.8L518.3,169.4L518.7,170.0L519.2,170.5L519.7,171.0L520.2,171.4L520.9,171.8L521.5,172.2L522.2,172.4L523.0,172.6L523.7,172.7L524.5,172.8L525.4,172.9L526.3,173.0L527.3,173.1L528.0,173.2L528.8,173.3L529.6,173.4L530.5,173.4L531.5,173.5L532.4,173.6L533.3,173.7L534.3,173.7L535.2,173.8L536.0,173.8L536.8,173.9L537.5,173.9L538.0,174.0L538.5,174.0" fill="none" stroke="#a88080" stroke-width="1.20"/>
<path d="M327.9,99.9L328.4,100.1L329.2,100.4L330.1,100.7L331.0,100.9L331.8,100.9L332.5,100.7L333.1,100.4L333.7,100.0L334.4,99.6L335.0,99.1L335.6,98.7L336.2,98.3L336.8,97.8L337.4,97.3L337.9,97.0L338.5,96.7L339.3,96.8L340.0,97.2L340.7,97.5L341.4,97.1L341.7,96.7L341.9,96.3L342.2,95.8L342.4,95.2L342.7,94.5L342.9,93.8L343.2,93.0L343.5,92.2L343.8,91.2L344.1,90.3L344.5,89.2L344.7,88.6L344.9,88.0L345.1,87.4L345.4,86.7L345.6,86.1L345.9,85.4L346.1,84.7L346.4,84.0L346.6,83.2L346.9,82.5L347.2,81.7L347.4,80.9L347.7,80.1L348.0,79.3L348.3,78.5L348.5,77.7L348.8,76.8L349.1,75.9L349.4,75.0L349.7,74.1L350.0,73.2L350.2,72.6L350.4,71.9L350.6,71.2L350.9,70.5L351.1,69.7L351.3,69.0L351.6,68.2L351.8,67.4L352.0,66.6L352.3,65.8L352.5,64.9L352.8,64.1L353.0,63.3L353.3,62.5L353.5,61.6L353.8,60.8L354.0,60.0L354.2,59.2L354.5,58.4L354.7,57.6L354.9,56.8L355.2,56.1L355.4,55.4L355.6,54.6L355.8,54.0L356.0,53.3L356.2,52.7L356.4,52.1L356.6,51.5L356.8,50.9L357.2,49.9L357.5,48.9L357.8,48.0L358.1,47.2L358.4,46.5L358.7,45.8L358.9,45.2L359.2,44.7L359.4,44.1L359.6,43.6L359.8,43.0L360.1,42.5L360.3,42.0L360.5,41.4L360.8,40.6L361.1,39.8L361.3,39.0L361.6,38.2L361.8,37.5L362.1,36.8L362.3,36.1L362.5,35.4L362.8,34.8L363.0,34.2L363.4,33.3L363.7,32.4L364.1,31.6L364.5,30.8L364.8,30.2L365.2,29.8L365.6,29.6L366.0,29.7L366.4,29.9L366.8,30.3L367.2,30.9L367.6,31.7L367.9,32.8L368.3,34.2L368.4,34.7L368.5,35.3L368.6,35.8L368.7,36.5L368.8,37.1L368.8,37.8L368.9,38.5L369.0,39.2L369.1,40.0L369.1,40.7L369.2,41.6L369.3,42.4L369.4,43.2L369.5,44.1L369.6,45.0L369.6,45.9L369.8,46.8L369.9,47.7L370.0,48.7L370.1,49.7L370.2,50.6L370.4,51.6L370.5,52.3L370.6,53.0L370.7,53.7L370.9,54.4L371.0,55.2L371.1,56.0L371.3,56.8L371.4,57.6L371.6,58.4L371.7,59.2L371.9,60.0L372.0,60.9L372.2,61.7L372.4,62.5L372.5,63.4L372.7,64.3L372.9,65.1L373.0,66.0L373.2,66.8L373.3,67.7L373.5,68.5L373.7,69.4L373.8,70.2L374.0,71.0L374.1,71.8L374.3,72.6L374.4,73.4L374.6,74.2L374.7,74.9L374.8,75.7L375.0,76.4L375.1,77.1L375.2,77.8L375.4,78.7L375.5,79.7L375.6,80.6L375.8,81.5L375.9,82.3L376.0,83.2L376.1,84.0L376.2,84.8L376.3,85.6L376.4,86.4L376.5,87.2L376.6,88.0L376.7,88.7L376.8,89.5L376.9,90.2L377.0,90.9L377.1,91.6L377.2,92.3L377.3,93.0L377.4,93.7L377.5,94.4L377.6,95.0L377.7,95.7L377.9,96.6L378.0,97.5L378.2,98.4L378.4,99.2L378.6,100.0L378.7,100.8L378.9,101.6L379.1,102.4L379.3,103.1L379.5,103.8L379.6,104.6L379.8,105.3L380.0,106.1L380.2,106.8L380.3,107.6L380.5,108.4L380.7,109.2L380.8,109.9L381.0,110.7L381.1,111.4L381.3,112.2L381.4,112.9L381.6,113.7L381.7,114.4L381.9,115.2L382.0,115.9L382.1,116.7L382.3,117.5L382.4,118.4L382.6,119.2L382.7,120.1L382.9,121.0L383.0,121.7L383.1,122.4L383.3,123.2L383.4,124.0L383.5,124.7L383.6,125.5L383.8,126.3L383.9,127.1L384.0,128.0L384.1,128.8L384.3,129.6L384.4,130.5L384.5,131.3L384.6,132.2L384.8,133.0L384.9,133.8L385.0,134.7L385.1,135.5L385.3,136.3L385.4,137.2L385.5,138.0L385.6,138.8L385.7,139.7L385.9,140.5L386.0,141.4L386.1,142.2L386.2,143.1L386.3,144.0L386.5,144.9L386.6,145.8L386.7,146.7L386.8,147.5L386.9,148.4L387.0,149.2L387.2,150.1L387.3,150.9L387.4,151.6L387.5,152.4L387.6,153.1L387.8,153.8L387.9,154.5L388.0,155.1L388.2,156.3L388.5,157.3L388.7,158.2L388.9,159.1L389.1,159.9L389.4,160.6L389.6,161.3L389.8,162.0L390.1,162.6L390.3,163.2L390.6,163.7L391.1,164.6L391.6,165.3L392.2,165.9L392.7,166.3L393.3,166.7L394.0,167.1L394.6,167.4L395.3,167.7L396.0,167.9L396.8,168.1L397.5,168.2L398.3,168.4L399.0,168.5L399.7,168.6L400.5,168.8L401.2,168.9L402.0,169.0L402.7,169.1L403.5,169.2L404.3,169.2L405.1,169.2L405.9,169.1L406.6,169.1L407.4,169.0L408.3,168.9L409.1,168.7L410.0,168.5L410.6,168.3L411.3,168.0L411.9,167.7L412.6,167.4L413.3,167.1L414.0,166.8L414.8,166.5L415.5,166.3L416.3,166.2L417.2,166.2L417.9,166.3L418.6,166.5L419.3,166.7L420.1,167.0L420.9,167.4L421.7,167.7L422.5,168.1L423.3,168.5L424.1,168.9L424.9,169.2L425.6,169.5L426.4,169.7L427.1,169.9L427.7,170.0L428.6,170.0L429.4,169.8L430.2,169.4L430.9,169.0L431.6,168.6L432.3,168.2L433.0,167.9L433.7,167.6L434.4,167.6L435.0,167.7L435.5,167.9L436.0,168.2L436.5,168.6L437.0,169.0L437.5,169.5L438.2,169.9L439.0,170.3L439.9,170.7L441.1,171.0L441.7,171.1L442.3,171.2L442.9,171.3L443.6,171.5L444.3,171.6L445.1,171.7L445.9,171.8L446.7,171.9L447.5,172.1L448.4,172.2L449.2,172.3L450.1,172.4L451.0,172.5L451.9,172.6L452.8,172.6L453.7,172.7L454.5,172.8L455.4,172.8L456.3,172.9L457.1,172.9L457.9,172.9L458.7,172.9L459.5,172.9L460.2,172.9L461.1,172.8L462.0,172.7L462.9,172.6L463.7,172.4L464.6,172.2L465.4,172.0L466.3,171.8L467.1,171.6L467.9,171.3L468.7,171.1L469.5,170.8L470.3,170.6L471.1,170.3L471.8,170.1L472.6,169.9L473.3,169.8L474.1,169.7L474.8,169.6L475.5,169.5L476.4,169.5L477.3,169.5L478.1,169.6L479.0,169.7L479.8,169.9L480.6,170.1L481.4,170.3L482.2,170.5L483.0,170.7L483.7,170.9L484.4,171.1L485.1,171.3L485.8,171.4L486.5,171.5L487.1,171.6L488.1,171.7L489.0,171.7L489.9,171.7L490.7,171.6L491.5,171.5L492.2,171.4L492.9,171.3L493.5,171.1L494.2,170.8L494.9,170.5L495.5,170.1L496.1,169.8L496.7,169.3L497.2,168.8L497.8,168.2L498.3,167.5L498.9,166.6L499.2,166.0L499.6,165.4L499.9,164.7L500.2,164.0L500.6,163.2L500.9,162.4L501.3,161.6L501.6,160.8L501.9,159.9L502.3,159.1L502.6,158.3L502.9,157.5L503.3,156.7L503.6,156.0L504.0,155.2L504.4,154.3L504.8,153.3L505.1,152.4L505.5,151.4L505.9,150.5L506.3,149.7L506.7,148.9L507.0,148.3L507.4,147.7L507.8,147.3L508.1,147.1L508.6,147.0L509.1,147.3L509.6,147.8L510.1,148.5L510.5,149.4L511.0,150.4L511.4,151.4L511.9,152.5L512.1,153.1L512.4,153.8L512.6,154.5L512.8,155.3L513.1,156.1L513.3,157.0L513.5,157.9L513.8,158.7L514.0,159.6L514.2,160.5L514.5,161.3L514.7,162.1L515.0,162.9L515.2,163.6L515.5,164.3L515.9,165.1L516.3,165.9L516.6,166.7L517.0,167.5L517.4,168.1L517.8,168.8L518.3,169.4L518.7,170.0L519.2,170.5L519.7,171.0L520.2,171.4L520.9,171.8L521.5,172.2L522.2,172.4L523.0,172.6L523.7,172.7L524.5,172.8L525.4,172.9L526.3,173.0L527.3,173.1L528.0,173.2L528.8,173.3L529.6,173.4L530.5,173.4L531.5,173.5L532.4,173.6L533.3,173.7L534.3,173.7L535.2,173.8L536.0,173.8L536.8,173.9L537.5,173.9L538.0,174.0L538.5,174.0" fill="none" stroke="#a8a830" stroke-width="1.20"/>
<path d="M327.9,100.1L328.4,100.3L329.2,100.6L330.1,100.9L331.0,101.1L331.8,101.2L332.5,101.0L333.1,100.7L333.7,100.3L334.4,99.8L335.0,99.4L335.6,99.0L336.2,98.5L336.8,98.0L337.4,97.6L337.9,97.2L338.5,96.9L339.3,97.0L340.0,97.4L340.7,97.7L341.4,97.2L341.7,96.9L341.9,96.4L342.2,95.9L342.4,95.3L342.7,94.6L342.9,93.9L343.2,93.1L343.5,92.3L343.8,91.3L344.1,90.4L344.5,89.3L344.7,88.7L344.9,88.1L345.1,87.5L345.4,86.8L345.6,86.2L345.9,85.5L346.1,84.8L346.4,84.1L346.6,83.3L346.9,82.6L347.2,81.8L347.4,81.0L347.7,80.3L348.0,79.4L348.3,78.6L348.5,77.8L348.8,76.9L349.1,76.1L349.4,75.2L349.7,74.3L350.0,73.4L350.2,72.8L350.4,72.1L350.6,71.4L350.9,70.7L351.1,69.9L351.3,69.2L351.6,68.4L351.8,67.6L352.0,66.8L352.3,66.0L352.5,65.2L352.8,64.4L353.0,63.6L353.3,62.8L353.5,62.0L353.8,61.2L354.0,60.4L354.2,59.6L354.5,58.8L354.7,58.1L354.9,57.3L355.2,56.6L355.4,55.9L355.6,55.2L355.8,54.5L356.0,53.8L356.2,53.2L356.4,52.6L356.6,52.1L356.8,51.5L357.2,50.5L357.5,49.6L357.8,48.7L358.1,48.0L358.4,47.3L358.7,46.6L358.9,46.0L359.2,45.5L359.4,45.0L359.6,44.4L359.8,43.9L360.1,43.4L360.3,42.9L360.5,42.3L360.8,41.5L361.1,40.7L361.3,40.0L361.6,39.2L361.8,38.5L362.1,37.8L362.3,37.2L362.5,36.5L362.8,35.9L363.0,35.3L363.4,34.5L363.7,33.6L364.1,32.7L364.5,32.0L364.8,31.4L365.2,30.9L365.6,30.8L366.0,30.9L366.4,31.1L366.8,31.4L367.2,32.0L367.6,32.8L367.9,33.9L368.3,35.3L368.4,35.8L368.5,36.4L368.6,36.9L368.7,37.5L368.8,38.2L368.8,38.8L368.9,39.5L369.0,40.3L369.1,41.0L369.1,41.8L369.2,42.6L369.3,43.4L369.4,44.3L369.5,45.1L369.6,46.0L369.6,46.9L369.8,47.8L369.9,48.8L370.0,49.7L370.1,50.7L370.2,51.6L370.4,52.6L370.5,53.3L370.6,53.9L370.7,54.7L370.9,55.4L371.0,56.1L371.1,56.9L371.3,57.6L371.4,58.4L371.6,59.2L371.7,60.0L371.9,60.9L372.0,61.7L372.2,62.5L372.4,63.3L372.5,64.2L372.7,65.0L372.9,65.9L373.0,66.7L373.2,67.6L373.3,68.4L373.5,69.2L373.7,70.0L373.8,70.9L374.0,71.7L374.1,72.5L374.3,73.3L374.4,74.0L374.6,74.8L374.7,75.5L374.8,76.3L375.0,77.0L375.1,77.7L375.2,78.3L375.4,79.3L375.5,80.2L375.6,81.1L375.8,82.0L375.9,82.8L376.0,83.7L376.1,84.5L376.2,85.3L376.3,86.1L376.4,86.9L376.5,87.6L376.6,88.4L376.7,89.1L376.8,89.9L376.9,90.6L377.0,91.3L377.1,92.0L377.2,92.7L377.3,93.4L377.4,94.1L377.5,94.7L377.6,95.4L377.7,96.0L377.9,97.0L378.0,97.9L378.2,98.7L378.4,99.5L378.6,100.3L378.7,101.1L378.9,101.9L379.1,102.6L379.3,103.4L379.5,104.1L379.6,104.8L379.8,105.5L380.0,106.3L380.2,107.0L380.3,107.8L380.5,108.6L380.7,109.3L380.8,110.1L381.0,110.8L381.1,111.6L381.3,112.3L381.4,113.1L381.6,113.8L381.7,114.6L381.9,115.3L382.0,116.1L382.1,116.9L382.3,117.7L382.4,118.5L382.6,119.3L382.7,120.2L382.9,121.1L383.0,121.8L383.1,122.5L383.3,123.3L383.4,124.0L383.5,124.8L383.6,125.6L383.8,126.4L383.9,127.2L384.0,128.0L384.1,128.9L384.3,129.7L384.4,130.5L384.5,131.4L384.6,132.2L384.8,133.1L384.9,133.9L385.0,134.7L385.1,135.6L385.3,136.4L385.4,137.2L385.5,138.0L385.6,138.9L385.7,139.7L385.9,140.5L386.0,141.4L386.1,142.3L386.2,143.2L386.3,144.0L386.5,144.9L386.6,145.8L386.7,146.7L386.8,147.6L386.9,148.4L387.0,149.2L387.2,150.1L387.3,150.9L387.4,151.7L387.5,152.4L387.6,153.2L387.8,153.9L387.9,154.5L388.0,155.2L388.2,156.3L388.5,157.3L388.7,158.2L388.9,159.1L389.1,159.9L389.4,160.7L389.6,161.3L389.8,162.0L390.1,162.6L390.3,163.2L390.6,163.7L391.1,164.6L391.6,165.3L392.2,165.9L392.7,166.3L393.3,166.7L394.0,167.1L394.6,167.4L395.3,167.7L396.0,167.9L396.8,168.1L397.5,168.2L398.3,168.4L399.0,168.5L399.7,168.6L400.5,168.8L401.2,168.9L402.0,169.0L402.7,169.1L403.5,169.2L404.3,169.2L405.1,169.2L405.9,169.1L406.6,169.1L407.4,169.0L408.3,168.9L409.1,168.7L410.0,168.5L410.6,168.3L411.3,168.0L411.9,167.7L412.6,167.4L413.3,167.1L414.0,166.8L414.8,166.5L415.5,166.3L416.3,166.2L417.2,166.2L417.9,166.3L418.6,166.5L419.3,166.7L420.1,167.0L420.9,167.4L421.7,167.7L422.5,168.1L423.3,168.5L424.1,168.9L424.9,169.2L425.6,169.5L426.4,169.7L427.1,169.9L427.7,170.0L428.6,170.0L429.4,169.8L430.2,169.4L430.9,169.0L431.6,168.6L432.3,168.2L433.0,167.9L433.7,167.6L434.4,167.6L435.0,167.7L435.5,167.9L436.0,168.2L436.5,168.6L437.0,169.0L437.5,169.5L438.2,169.9L439.0,170.3L439.9,170.7L441.1,171.0L441.7,171.1L442.3,171.2L442.9,171.3L443.6,171.5L444.3,171.6L445.1,171.7L445.9,171.8L446.7,171.9L447.5,172.1L448.4,172.2L449.2,172.3L450.1,172.4L451.0,172.5L451.9,172.6L452.8,172.6L453.7,172.7L454.5,172.8L455.4,172.8L456.3,172.9L457.1,172.9L457.9,172.9L458.7,172.9L459.5,172.9L460.2,172.9L461.1,172.8L462.0,172.7L462.9,172.6L463.7,172.4L464.6,172.2L465.4,172.0L466.3,171.8L467.1,171.6L467.9,171.3L468.7,171.1L469.5,170.8L470.3,170.6L471.1,170.3L471.8,170.1L472.6,169.9L473.3,169.8L474.1,169.7L474.8,169.6L475.5,169.5L476.4,169.5L477.3,169.5L478.1,169.6L479.0,169.7L479.8,169.9L480.6,170.1L481.4,170.3L482.2,170.5L483.0,170.7L483.7,170.9L484.4,171.1L485.1,171.3L485.8,171.4L486.5,171.5L487.1,171.6L488.1,171.7L489.0,171.7L489.9,171.7L490.7,171.6L491.5,171.5L492.2,171.4L492.9,171.3L493.5,171.1L494.2,170.8L494.9,170.5L495.5,170.1L496.1,169.8L496.7,169.3L497.2,168.8L497.8,168.2L498.3,167.5L498.9,166.6L499.2,166.0L499.6,165.4L499.9,164.7L500.2,164.0L500.6,163.2L500.9,162.4L501.3,161.6L501.6,160.8L501.9,159.9L502.3,159.1L502.6,158.3L502.9,157.5L503.3,156.7L503.6,156.0L504.0,155.2L504.4,154.3L504.8,153.3L505.1,152.4L505.5,151.4L505.9,150.5L506.3,149.7L506.7,148.9L507.0,148.3L507.4,147.7L507.8,147.3L508.1,147.1L508.6,147.0L509.1,147.3L509.6,147.8L510.1,148.5L510.5,149.4L511.0,150.4L511.4,151.4L511.9,152.5L512.1,153.1L512.4,153.8L512.6,154.5L512.8,155.3L513.1,156.1L513.3,157.0L513.5,157.9L513.8,158.7L514.0,159.6L514.2,160.5L514.5,161.3L514.7,162.1L515.0,162.9L515.2,163.6L515.5,164.3L515.9,165.1L516.3,165.9L516.6,166.7L517.0,167.5L517.4,168.1L517.8,168.8L518.3,169.4L518.7,170.0L519.2,170.5L519.7,171.0L520.2,171.4L520.9,171.8L521.5,172.2L522.2,172.4L523.0,172.6L523.7,172.7L524.5,172.8L525.4,172.9L526.3,173.0L527.3,173.1L528.0,173.2L528.8,173.3L529.6,173.4L530.5,173.4L531.5,173.5L532.4,173.6L533.3,173.7L534.3,173.7L535.2,173.8L536.0,173.8L536.8,173.9L537.5,173.9L538.0,174.0L538.5,174.0" fill="none" stroke="#ff7f27" stroke-width="1.20"/>
<path d="M327.9,100.3L328.4,100.5L329.2,100.8L330.1,101.1L331.0,101.3L331.8,101.4L332.5,101.3L333.1,100.9L333.7,100.5L334.4,100.1L335.0,99.7L335.6,99.3L336.2,98.8L336.8,98.3L337.4,97.8L337.9,97.4L338.5,97.1L339.3,97.2L340.0,97.6L340.7,97.8L341.4,97.4L341.7,97.0L341.9,96.5L342.2,96.0L342.4,95.4L342.7,94.8L342.9,94.0L343.2,93.2L343.5,92.4L343.8,91.5L344.1,90.5L344.5,89.4L344.7,88.8L344.9,88.2L345.1,87.6L345.4,86.9L345.6,86.3L345.9,85.6L346.1,84.9L346.4,84.2L346.6,83.4L346.9,82.7L347.2,81.9L347.4,81.2L347.7,80.4L348.0,79.6L348.3,78.7L348.5,77.9L348.8,77.1L349.1,76.2L349.4,75.3L349.7,74.5L350.0,73.6L350.2,72.9L350.4,72.3L350.6,71.6L350.9,70.9L351.1,70.1L351.3,69.4L351.6,68.6L351.8,67.9L352.0,67.1L352.3,66.3L352.5,65.5L352.8,64.7L353.0,63.9L353.3,63.1L353.5,62.3L353.8,61.5L354.0,60.8L354.2,60.0L354.5,59.2L354.7,58.5L354.9,57.8L355.2,57.0L355.4,56.3L355.6,55.7L355.8,55.0L356.0,54.4L356.2,53.8L356.4,53.2L356.6,52.7L356.8,52.2L357.2,51.2L357.5,50.3L357.8,49.4L358.1,48.7L358.4,48.0L358.7,47.4L358.9,46.8L359.2,46.3L359.4,45.8L359.6,45.3L359.8,44.8L360.1,44.3L360.3,43.8L360.5,43.3L360.8,42.5L361.1,41.7L361.3,41.0L361.6,40.3L361.8,39.6L362.1,38.9L362.3,38.2L362.5,37.6L362.8,37.0L363.0,36.4L363.4,35.6L363.7,34.7L364.1,33.9L364.5,33.1L364.8,32.5L365.2,32.1L365.6,32.0L366.0,32.0L366.4,32.2L366.8,32.6L367.2,33.2L367.6,34.0L367.9,35.0L368.3,36.4L368.4,36.9L368.5,37.4L368.6,38.0L368.7,38.6L368.8,39.3L368.8,39.9L368.9,40.6L369.0,41.3L369.1,42.1L369.1,42.8L369.2,43.6L369.3,44.5L369.4,45.3L369.5,46.2L369.6,47.0L369.6,47.9L369.8,48.8L369.9,49.8L370.0,50.7L370.1,51.6L370.2,52.6L370.4,53.6L370.5,54.2L370.6,54.9L370.7,55.6L370.9,56.3L371.0,57.0L371.1,57.8L371.3,58.5L371.4,59.3L371.6,60.1L371.7,60.9L371.9,61.7L372.0,62.5L372.2,63.3L372.4,64.1L372.5,65.0L372.7,65.8L372.9,66.6L373.0,67.5L373.2,68.3L373.3,69.1L373.5,69.9L373.7,70.7L373.8,71.5L374.0,72.3L374.1,73.1L374.3,73.9L374.4,74.6L374.6,75.4L374.7,76.1L374.8,76.8L375.0,77.5L375.1,78.2L375.2,78.9L375.4,79.8L375.5,80.7L375.6,81.6L375.8,82.5L375.9,83.3L376.0,84.1L376.1,85.0L376.2,85.8L376.3,86.5L376.4,87.3L376.5,88.1L376.6,88.8L376.7,89.6L376.8,90.3L376.9,91.0L377.0,91.7L377.1,92.4L377.2,93.1L377.3,93.8L377.4,94.4L377.5,95.1L377.6,95.7L377.7,96.4L377.9,97.3L378.0,98.2L378.2,99.0L378.4,99.8L378.6,100.6L378.7,101.4L378.9,102.1L379.1,102.9L379.3,103.6L379.5,104.3L379.6,105.0L379.8,105.8L380.0,106.5L380.2,107.2L380.3,108.0L380.5,108.7L380.7,109.5L380.8,110.3L381.0,111.0L381.1,111.8L381.3,112.5L381.4,113.2L381.6,113.9L381.7,114.7L381.9,115.4L382.0,116.2L382.1,117.0L382.3,117.8L382.4,118.6L382.6,119.4L382.7,120.3L382.9,121.2L383.0,121.9L383.1,122.6L383.3,123.4L383.4,124.1L383.5,124.9L383.6,125.7L383.8,126.5L383.9,127.3L384.0,128.1L384.1,128.9L384.3,129.8L384.4,130.6L384.5,131.4L384.6,132.3L384.8,133.1L384.9,133.9L385.0,134.8L385.1,135.6L385.3,136.4L385.4,137.3L385.5,138.1L385.6,138.9L385.7,139.7L385.9,140.6L386.0,141.4L386.1,142.3L386.2,143.2L386.3,144.1L386.5,145.0L386.6,145.8L386.7,146.7L386.8,147.6L386.9,148.4L387.0,149.3L387.2,150.1L387.3,150.9L387.4,151.7L387.5,152.4L387.6,153.2L387.8,153.9L387.9,154.5L388.0,155.2L388.2,156.3L388.5,157.3L388.7,158.3L388.9,159.1L389.1,159.9L389.4,160.7L389.6,161.4L389.8,162.0L390.1,162.6L390.3,163.2L390.6,163.7L391.1,164.6L391.6,165.3L392.2,165.9L392.7,166.3L393.3,166.7L394.0,167.1L394.6,167.4L395.3,167.7L396.0,167.9L396.8,168.1L397.5,168.2L398.3,168.4L399.0,168.5L399.7,168.6L400.5,168.8L401.2,168.9L402.0,169.0L402.7,169.1L403.5,169.2L404.3,169.2L405.1,169.2L405.9,169.1L406.6,169.1L407.4,169.0L408.3,168.9L409.1,168.7L410.0,168.5L410.6,168.3L411.3,168.0L411.9,167.7L412.6,167.4L413.3,167.1L414.0,166.8L414.8,166.5L415.5,166.3L416.3,166.2L417.2,166.2L417.9,166.3L418.6,166.5L419.3,166.7L420.1,167.0L420.9,167.4L421.7,167.7L422.5,168.1L423.3,168.5L424.1,168.9L424.9,169.2L425.6,169.5L426.4,169.7L427.1,169.9L427.7,170.0L428.6,170.0L429.4,169.8L430.2,169.4L430.9,169.0L431.6,168.6L432.3,168.2L433.0,167.9L433.7,167.6L434.4,167.6L435.0,167.7L435.5,167.9L436.0,168.2L436.5,168.6L437.0,169.0L437.5,169.5L438.2,169.9L439.0,170.3L439.9,170.7L441.1,171.0L441.7,171.1L442.3,171.2L442.9,171.3L443.6,171.5L444.3,171.6L445.1,171.7L445.9,171.8L446.7,171.9L447.5,172.1L448.4,172.2L449.2,172.3L450.1,172.4L451.0,172.5L451.9,172.6L452.8,172.6L453.7,172.7L454.5,172.8L455.4,172.8L456.3,172.9L457.1,172.9L457.9,172.9L458.7,172.9L459.5,172.9L460.2,172.9L461.1,172.8L462.0,172.7L462.9,172.6L463.7,172.4L464.6,172.2L465.4,172.0L466.3,171.8L467.1,171.6L467.9,171.3L468.7,171.1L469.5,170.8L470.3,170.6L471.1,170.3L471.8,170.1L472.6,169.9L473.3,169.8L474.1,169.7L474.8,169.6L475.5,169.5L476.4,169.5L477.3,169.5L478.1,169.6L479.0,169.7L479.8,169.9L480.6,170.1L481.4,170.3L482.2,170.5L483.0,170.7L483.7,170.9L484.4,171.1L485.1,171.3L485.8,171.4L486.5,171.5L487.1,171.6L488.1,171.7L489.0,171.7L489.9,171.7L490.7,171.6L491.5,171.5L492.2,171.4L492.9,171.3L493.5,171.1L494.2,170.8L494.9,170.5L495.5,170.1L496.1,169.8L496.7,169.3L497.2,168.8L497.8,168.2L498.3,167.5L498.9,166.6L499.2,166.0L499.6,165.4L499.9,164.7L500.2,164.0L500.6,163.2L500.9,162.4L501.3,161.6L501.6,160.8L501.9,159.9L502.3,159.1L502.6,158.3L502.9,157.5L503.3,156.7L503.6,156.0L504.0,155.2L504.4,154.3L504.8,153.3L505.1,152.4L505.5,151.4L505.9,150.5L506.3,149.7L506.7,148.9L507.0,148.3L507.4,147.7L507.8,147.3L508.1,147.1L508.6,147.0L509.1,147.3L509.6,147.8L510.1,148.5L510.5,149.4L511.0,150.4L511.4,151.4L511.9,152.5L512.1,153.1L512.4,153.8L512.6,154.5L512.8,155.3L513.1,156.1L513.3,157.0L513.5,157.9L513.8,158.7L514.0,159.6L514.2,160.5L514.5,161.3L514.7,162.1L515.0,162.9L515.2,163.6L515.5,164.3L515.9,165.1L516.3,165.9L516.6,166.7L517.0,167.5L517.4,168.1L517.8,168.8L518.3,169.4L518.7,170.0L519.2,170.5L519.7,171.0L520.2,171.4L520.9,171.8L521.5,172.2L522.2,172.4L523.0,172.6L523.7,172.7L524.5,172.8L525.4,172.9L526.3,173.0L527.3,173.1L528.0,173.2L528.8,173.3L529.6,173.4L530.5,173.4L531.5,173.5L532.4,173.6L533.3,173.7L534.3,173.7L535.2,173.8L536.0,173.8L536.8,173.9L537.5,173.9L538.0,174.0L538.5,174.0" fill="none" stroke="#74aee0" stroke-width="1.20"/>
<path d="M327.9,100.4L328.4,100.7L329.2,101.0L330.1,101.3L331.0,101.6L331.8,101.7L332.5,101.5L333.1,101.2L333.7,100.8L334.4,100.4L335.0,99.9L335.6,99.5L336.2,99.0L336.8,98.5L337.4,98.0L337.9,97.6L338.5,97.4L339.3,97.4L340.0,97.8L340.7,98.0L341.4,97.5L341.7,97.1L341.9,96.7L342.2,96.1L342.4,95.5L342.7,94.9L342.9,94.2L343.2,93.4L343.5,92.5L343.8,91.6L344.1,90.6L344.5,89.5L344.7,88.9L344.9,88.3L345.1,87.7L345.4,87.0L345.6,86.4L345.9,85.7L346.1,85.0L346.4,84.3L346.6,83.5L346.9,82.8L347.2,82.0L347.4,81.3L347.7,80.5L348.0,79.7L348.3,78.9L348.5,78.0L348.8,77.2L349.1,76.3L349.4,75.5L349.7,74.6L350.0,73.7L350.2,73.1L350.4,72.4L350.6,71.8L350.9,71.1L351.1,70.4L351.3,69.6L351.6,68.9L351.8,68.1L352.0,67.4L352.3,66.6L352.5,65.8L352.8,65.0L353.0,64.2L353.3,63.5L353.5,62.7L353.8,61.9L354.0,61.2L354.2,60.4L354.5,59.7L354.7,58.9L354.9,58.2L355.2,57.5L355.4,56.8L355.6,56.2L355.8,55.6L356.0,54.9L356.2,54.4L356.4,53.8L356.6,53.3L356.8,52.8L357.2,51.8L357.5,50.9L357.8,50.1L358.1,49.4L358.4,48.8L358.7,48.2L358.9,47.7L359.2,47.1L359.4,46.7L359.6,46.2L359.8,45.7L360.1,45.2L360.3,44.7L360.5,44.2L360.8,43.4L361.1,42.7L361.3,42.0L361.6,41.3L361.8,40.6L362.1,39.9L362.3,39.3L362.5,38.7L362.8,38.1L363.0,37.5L363.4,36.7L363.7,35.8L364.1,35.0L364.5,34.3L364.8,33.7L365.2,33.3L365.6,33.1L366.0,33.2L366.4,33.4L366.8,33.7L367.2,34.3L367.6,35.1L367.9,36.1L368.3,37.5L368.4,38.0L368.5,38.5L368.6,39.1L368.7,39.7L368.8,40.3L368.8,41.0L368.9,41.7L369.0,42.4L369.1,43.1L369.1,43.9L369.2,44.7L369.3,45.5L369.4,46.3L369.5,47.2L369.6,48.1L369.6,48.9L369.8,49.8L369.9,50.8L370.0,51.7L370.1,52.6L370.2,53.6L370.4,54.5L370.5,55.2L370.6,55.8L370.7,56.5L370.9,57.2L371.0,58.0L371.1,58.7L371.3,59.4L371.4,60.2L371.6,61.0L371.7,61.8L371.9,62.5L372.0,63.3L372.2,64.1L372.4,64.9L372.5,65.8L372.7,66.6L372.9,67.4L373.0,68.2L373.2,69.0L373.3,69.8L373.5,70.6L373.7,71.4L373.8,72.2L374.0,73.0L374.1,73.7L374.3,74.5L374.4,75.3L374.6,76.0L374.7,76.7L374.8,77.4L375.0,78.1L375.1,78.8L375.2,79.4L375.4,80.3L375.5,81.2L375.6,82.1L375.8,82.9L375.9,83.8L376.0,84.6L376.1,85.4L376.2,86.2L376.3,87.0L376.4,87.8L376.5,88.5L376.6,89.2L376.7,90.0L376.8,90.7L376.9,91.4L377.0,92.1L377.1,92.8L377.2,93.5L377.3,94.1L377.4,94.8L377.5,95.4L377.6,96.1L377.7,96.7L377.9,97.6L378.0,98.5L378.2,99.3L378.4,100.1L378.6,100.9L378.7,101.7L378.9,102.4L379.1,103.1L379.3,103.9L379.5,104.6L379.6,105.3L379.8,106.0L380.0,106.7L380.2,107.4L380.3,108.2L380.5,108.9L380.7,109.7L380.8,110.4L381.0,111.2L381.1,111.9L381.3,112.6L381.4,113.4L381.6,114.1L381.7,114.8L381.9,115.6L382.0,116.3L382.1,117.1L382.3,117.9L382.4,118.7L382.6,119.5L382.7,120.4L382.9,121.3L383.0,122.0L383.1,122.7L383.3,123.5L383.4,124.2L383.5,125.0L383.6,125.8L383.8,126.6L383.9,127.4L384.0,128.2L384.1,129.0L384.3,129.8L384.4,130.7L384.5,131.5L384.6,132.3L384.8,133.2L384.9,134.0L385.0,134.8L385.1,135.7L385.3,136.5L385.4,137.3L385.5,138.1L385.6,138.9L385.7,139.8L385.9,140.6L386.0,141.5L386.1,142.4L386.2,143.2L386.3,144.1L386.5,145.0L386.6,145.9L386.7,146.7L386.8,147.6L386.9,148.5L387.0,149.3L387.2,150.1L387.3,150.9L387.4,151.7L387.5,152.5L387.6,153.2L387.8,153.9L387.9,154.6L388.0,155.2L388.2,156.3L388.5,157.3L388.7,158.3L388.9,159.1L389.1,159.9L389.4,160.7L389.6,161.4L389.8,162.0L390.1,162.6L390.3,163.2L390.6,163.7L391.1,164.6L391.6,165.3L392.2,165.9L392.7,166.3L393.3,166.7L394.0,167.1L394.6,167.4L395.3,167.7L396.0,167.9L396.8,168.1L397.5,168.2L398.3,168.4L399.0,168.5L399.7,168.6L400.5,168.8L401.2,168.9L402.0,169.0L402.7,169.1L403.5,169.2L404.3,169.2L405.1,169.2L405.9,169.1L406.6,169.1L407.4,169.0L408.3,168.9L409.1,168.7L410.0,168.5L410.6,168.3L411.3,168.0L411.9,167.7L412.6,167.4L413.3,167.1L414.0,166.8L414.8,166.5L415.5,166.3L416.3,166.2L417.2,166.2L417.9,166.3L418.6,166.5L419.3,166.7L420.1,167.0L420.9,167.4L421.7,167.7L422.5,168.1L423.3,168.5L424.1,168.9L424.9,169.2L425.6,169.5L426.4,169.7L427.1,169.9L427.7,170.0L428.6,170.0L429.4,169.8L430.2,169.4L430.9,169.0L431.6,168.6L432.3,168.2L433.0,167.9L433.7,167.6L434.4,167.6L435.0,167.7L435.5,167.9L436.0,168.2L436.5,168.6L437.0,169.0L437.5,169.5L438.2,169.9L439.0,170.3L439.9,170.7L441.1,171.0L441.7,171.1L442.3,171.2L442.9,171.3L443.6,171.5L444.3,171.6L445.1,171.7L445.9,171.8L446.7,171.9L447.5,172.1L448.4,172.2L449.2,172.3L450.1,172.4L451.0,172.5L451.9,172.6L452.8,172.6L453.7,172.7L454.5,172.8L455.4,172.8L456.3,172.9L457.1,172.9L457.9,172.9L458.7,172.9L459.5,172.9L460.2,172.9L461.1,172.8L462.0,172.7L462.9,172.6L463.7,172.4L464.6,172.2L465.4,172.0L466.3,171.8L467.1,171.6L467.9,171.3L468.7,171.1L469.5,170.8L470.3,170.6L471.1,170.3L471.8,170.1L472.6,169.9L473.3,169.8L474.1,169.7L474.8,169.6L475.5,169.5L476.4,169.5L477.3,169.5L478.1,169.6L479.0,169.7L479.8,169.9L480.6,170.1L481.4,170.3L482.2,170.5L483.0,170.7L483.7,170.9L484.4,171.1L485.1,171.3L485.8,171.4L486.5,171.5L487.1,171.6L488.1,171.7L489.0,171.7L489.9,171.7L490.7,171.6L491.5,171.5L492.2,171.4L492.9,171.3L493.5,171.1L494.2,170.8L494.9,170.5L495.5,170.1L496.1,169.8L496.7,169.3L497.2,168.8L497.8,168.2L498.3,167.5L498.9,166.6L499.2,166.0L499.6,165.4L499.9,164.7L500.2,164.0L500.6,163.2L500.9,162.4L501.3,161.6L501.6,160.8L501.9,159.9L502.3,159.1L502.6,158.3L502.9,157.5L503.3,156.7L503.6,156.0L504.0,155.2L504.4,154.3L504.8,153.3L505.1,152.4L505.5,151.4L505.9,150.5L506.3,149.7L506.7,148.9L507.0,148.3L507.4,147.7L507.8,147.3L508.1,147.1L508.6,147.0L509.1,147.3L509.6,147.8L510.1,148.5L510.5,149.4L511.0,150.4L511.4,151.4L511.9,152.5L512.1,153.1L512.4,153.8L512.6,154.5L512.8,155.3L513.1,156.1L513.3,157.0L513.5,157.9L513.8,158.7L514.0,159.6L514.2,160.5L514.5,161.3L514.7,162.1L515.0,162.9L515.2,163.6L515.5,164.3L515.9,165.1L516.3,165.9L516.6,166.7L517.0,167.5L517.4,168.1L517.8,168.8L518.3,169.4L518.7,170.0L519.2,170.5L519.7,171.0L520.2,171.4L520.9,171.8L521.5,172.2L522.2,172.4L523.0,172.6L523.7,172.7L524.5,172.8L525.4,172.9L526.3,173.0L527.3,173.1L528.0,173.2L528.8,173.3L529.6,173.4L530.5,173.4L531.5,173.5L532.4,173.6L533.3,173.7L534.3,173.7L535.2,173.8L536.0,173.8L536.8,173.9L537.5,173.9L538.0,174.0L538.5,174.0" fill="none" stroke="#7dcc3a" stroke-width="1.20"/>
<path d="M327.9,100.6L328.4,100.8L329.2,101.2L330.1,101.6L331.0,101.8L331.8,101.9L332.5,101.8L333.1,101.5L333.7,101.1L334.4,100.6L335.0,100.2L335.6,99.8L336.2,99.3L336.8,98.8L337.4,98.3L337.9,97.9L338.5,97.6L339.3,97.6L340.0,98.0L340.7,98.2L341.4,97.7L341.7,97.3L341.9,96.8L342.2,96.3L342.4,95.7L342.7,95.0L342.9,94.3L343.2,93.5L343.5,92.6L343.8,91.7L344.1,90.7L344.5,89.6L344.7,89.0L344.9,88.4L345.1,87.8L345.4,87.1L345.6,86.5L345.9,85.8L346.1,85.1L346.4,84.4L346.6,83.6L346.9,82.9L347.2,82.1L347.4,81.4L347.7,80.6L348.0,79.8L348.3,79.0L348.5,78.2L348.8,77.3L349.1,76.5L349.4,75.6L349.7,74.8L350.0,73.9L350.2,73.3L350.4,72.6L350.6,72.0L350.9,71.3L351.1,70.6L351.3,69.8L351.6,69.1L351.8,68.4L352.0,67.6L352.3,66.9L352.5,66.1L352.8,65.3L353.0,64.6L353.3,63.8L353.5,63.0L353.8,62.3L354.0,61.5L354.2,60.8L354.5,60.1L354.7,59.4L354.9,58.7L355.2,58.0L355.4,57.3L355.6,56.7L355.8,56.1L356.0,55.5L356.2,54.9L356.4,54.4L356.6,53.9L356.8,53.4L357.2,52.5L357.5,51.6L357.8,50.9L358.1,50.2L358.4,49.5L358.7,49.0L358.9,48.5L359.2,48.0L359.4,47.5L359.6,47.0L359.8,46.6L360.1,46.1L360.3,45.7L360.5,45.1L360.8,44.4L361.1,43.7L361.3,43.0L361.6,42.3L361.8,41.6L362.1,41.0L362.3,40.3L362.5,39.7L362.8,39.2L363.0,38.6L363.4,37.8L363.7,37.0L364.1,36.2L364.5,35.4L364.8,34.8L365.2,34.4L365.6,34.3L366.0,34.4L366.4,34.5L366.8,34.9L367.2,35.4L367.6,36.2L367.9,37.3L368.3,38.6L368.4,39.1L368.5,39.6L368.6,40.2L368.7,40.8L368.8,41.4L368.8,42.1L368.9,42.7L369.0,43.5L369.1,44.2L369.1,45.0L369.2,45.7L369.3,46.5L369.4,47.4L369.5,48.2L369.6,49.1L369.6,50.0L369.8,50.9L369.9,51.8L370.0,52.7L370.1,53.6L370.2,54.5L370.4,55.5L370.5,56.1L370.6,56.8L370.7,57.5L370.9,58.2L371.0,58.9L371.1,59.6L371.3,60.3L371.4,61.1L371.6,61.8L371.7,62.6L371.9,63.4L372.0,64.2L372.2,65.0L372.4,65.7L372.5,66.5L372.7,67.3L372.9,68.1L373.0,68.9L373.2,69.7L373.3,70.5L373.5,71.3L373.7,72.1L373.8,72.9L374.0,73.6L374.1,74.4L374.3,75.1L374.4,75.9L374.6,76.6L374.7,77.3L374.8,78.0L375.0,78.7L375.1,79.3L375.2,80.0L375.4,80.9L375.5,81.7L375.6,82.6L375.8,83.4L375.9,84.3L376.0,85.1L376.1,85.9L376.2,86.7L376.3,87.4L376.4,88.2L376.5,88.9L376.6,89.7L376.7,90.4L376.8,91.1L376.9,91.8L377.0,92.5L377.1,93.2L377.2,93.8L377.3,94.5L377.4,95.2L377.5,95.8L377.6,96.5L377.7,97.1L377.9,98.0L378.0,98.8L378.2,99.6L378.4,100.4L378.6,101.2L378.7,102.0L378.9,102.7L379.1,103.4L379.3,104.1L379.5,104.8L379.6,105.5L379.8,106.2L380.0,106.9L380.2,107.6L380.3,108.4L380.5,109.1L380.7,109.9L380.8,110.6L381.0,111.3L381.1,112.1L381.3,112.8L381.4,113.5L381.6,114.2L381.7,115.0L381.9,115.7L382.0,116.5L382.1,117.2L382.3,118.0L382.4,118.8L382.6,119.6L382.7,120.5L382.9,121.4L383.0,122.1L383.1,122.8L383.3,123.5L383.4,124.3L383.5,125.1L383.6,125.8L383.8,126.6L383.9,127.4L384.0,128.2L384.1,129.1L384.3,129.9L384.4,130.7L384.5,131.5L384.6,132.4L384.8,133.2L384.9,134.1L385.0,134.9L385.1,135.7L385.3,136.5L385.4,137.4L385.5,138.2L385.6,139.0L385.7,139.8L385.9,140.7L386.0,141.5L386.1,142.4L386.2,143.3L386.3,144.1L386.5,145.0L386.6,145.9L386.7,146.8L386.8,147.6L386.9,148.5L387.0,149.3L387.2,150.2L387.3,151.0L387.4,151.7L387.5,152.5L387.6,153.2L387.8,153.9L387.9,154.6L388.0,155.2L388.2,156.3L388.5,157.4L388.7,158.3L388.9,159.2L389.1,160.0L389.4,160.7L389.6,161.4L389.8,162.0L390.1,162.6L390.3,163.2L390.6,163.7L391.1,164.6L391.6,165.3L392.2,165.9L392.7,166.3L393.3,166.7L394.0,167.1L394.6,167.4L395.3,167.7L396.0,167.9L396.8,168.1L397.5,168.2L398.3,168.4L399.0,168.5L399.7,168.6L400.5,168.8L401.2,168.9L402.0,169.0L402.7,169.1L403.5,169.2L404.3,169.2L405.1,169.2L405.9,169.1L406.6,169.1L407.4,169.0L408.3,168.9L409.1,168.7L410.0,168.5L410.6,168.3L411.3,168.0L411.9,167.7L412.6,167.4L413.3,167.1L414.0,166.8L414.8,166.5L415.5,166.3L416.3,166.2L417.2,166.2L417.9,166.3L418.6,166.5L419.3,166.7L420.1,167.0L420.9,167.4L421.7,167.7L422.5,168.1L423.3,168.5L424.1,168.9L424.9,169.2L425.6,169.5L426.4,169.7L427.1,169.9L427.7,170.0L428.6,170.0L429.4,169.8L430.2,169.4L430.9,169.0L431.6,168.6L432.3,168.2L433.0,167.9L433.7,167.6L434.4,167.6L435.0,167.7L435.5,167.9L436.0,168.2L436.5,168.6L437.0,169.0L437.5,169.5L438.2,169.9L439.0,170.3L439.9,170.7L441.1,171.0L441.7,171.1L442.3,171.2L442.9,171.3L443.6,171.5L444.3,171.6L445.1,171.7L445.9,171.8L446.7,171.9L447.5,172.1L448.4,172.2L449.2,172.3L450.1,172.4L451.0,172.5L451.9,172.6L452.8,172.6L453.7,172.7L454.5,172.8L455.4,172.8L456.3,172.9L457.1,172.9L457.9,172.9L458.7,172.9L459.5,172.9L460.2,172.9L461.1,172.8L462.0,172.7L462.9,172.6L463.7,172.4L464.6,172.2L465.4,172.0L466.3,171.8L467.1,171.6L467.9,171.3L468.7,171.1L469.5,170.8L470.3,170.6L471.1,170.3L471.8,170.1L472.6,169.9L473.3,169.8L474.1,169.7L474.8,169.6L475.5,169.5L476.4,169.5L477.3,169.5L478.1,169.6L479.0,169.7L479.8,169.9L480.6,170.1L481.4,170.3L482.2,170.5L483.0,170.7L483.7,170.9L484.4,171.1L485.1,171.3L485.8,171.4L486.5,171.5L487.1,171.6L488.1,171.7L489.0,171.7L489.9,171.7L490.7,171.6L491.5,171.5L492.2,171.4L492.9,171.3L493.5,171.1L494.2,170.8L494.9,170.5L495.5,170.1L496.1,169.8L496.7,169.3L497.2,168.8L497.8,168.2L498.3,167.5L498.9,166.6L499.2,166.0L499.6,165.4L499.9,164.7L500.2,164.0L500.6,163.2L500.9,162.4L501.3,161.6L501.6,160.8L501.9,159.9L502.3,159.1L502.6,158.3L502.9,157.5L503.3,156.7L503.6,156.0L504.0,155.2L504.4,154.3L504.8,153.3L505.1,152.4L505.5,151.4L505.9,150.5L506.3,149.7L506.7,148.9L507.0,148.3L507.4,147.7L507.8,147.3L508.1,147.1L508.6,147.0L509.1,147.3L509.6,147.8L510.1,148.5L510.5,149.4L511.0,150.4L511.4,151.4L511.9,152.5L512.1,153.1L512.4,153.8L512.6,154.5L512.8,155.3L513.1,156.1L513.3,157.0L513.5,157.9L513.8,158.7L514.0,159.6L514.2,160.5L514.5,161.3L514.7,162.1L515.0,162.9L515.2,163.6L515.5,164.3L515.9,165.1L516.3,165.9L516.6,166.7L517.0,167.5L517.4,168.1L517.8,168.8L518.3,169.4L518.7,170.0L519.2,170.5L519.7,171.0L520.2,171.4L520.9,171.8L521.5,172.2L522.2,172.4L523.0,172.6L523.7,172.7L524.5,172.8L525.4,172.9L526.3,173.0L527.3,173.1L528.0,173.2L528.8,173.3L529.6,173.4L530.5,173.4L531.5,173.5L532.4,173.6L533.3,173.7L534.3,173.7L535.2,173.8L536.0,173.8L536.8,173.9L537.5,173.9L538.0,174.0L538.5,174.0" fill="none" stroke="#555555" stroke-width="1.20"/>
<path d="M383.3,123.0L383.4,123.8L383.5,124.6L383.6,125.4L383.8,126.2L383.9,127.0L384.0,127.8L384.1,128.7L384.3,129.5L384.4,130.3L384.5,131.2L384.6,132.0L384.8,132.9L384.9,133.7L385.0,134.6L385.1,135.4L385.3,136.2L385.4,137.1L385.5,137.9L385.6,138.7L385.7,139.6L385.9,140.4L386.0,141.3L386.1,142.2L386.2,143.1L386.3,143.9L386.5,144.8L386.6,145.7L386.7,146.6L386.8,147.5L386.9,148.3L387.0,149.2L387.2,150.0L387.3,150.8L387.4,151.6L387.5,152.4L387.6,153.1L387.8,153.8L387.9,154.5L388.0,155.1L388.2,156.2L388.5,157.3L388.7,158.2L388.9,159.1L389.1,159.9L389.4,160.6L389.6,161.3L389.8,162.0L390.1,162.6L390.3,163.1L390.6,163.7L391.1,164.6L391.6,165.3L392.2,165.8L392.7,166.3L393.3,166.7L394.0,167.1L394.6,167.4L395.3,167.7L396.0,167.9L396.8,168.1L397.5,168.2L398.3,168.4L399.0,168.5L399.7,168.6L400.5,168.8L401.2,168.9L402.0,169.0L402.7,169.1L403.5,169.2L404.3,169.2L405.1,169.2L405.9,169.1L406.6,169.1L407.4,169.0L408.3,168.9L409.1,168.7L410.0,168.5L410.6,168.3L411.3,168.0L411.9,167.7L412.6,167.4L413.3,167.1L414.0,166.8L414.8,166.5L415.5,166.3L416.3,166.2L417.2,166.2L417.9,166.3L418.6,166.5L419.3,166.7L420.1,167.0L420.9,167.4L421.7,167.7L422.5,168.1L423.3,168.5L424.1,168.9L424.9,169.2L425.6,169.5L426.4,169.7L427.1,169.9L427.7,170.0L428.6,170.0L429.4,169.8L430.2,169.4L430.9,169.0L431.6,168.6L432.3,168.2L433.0,167.9L433.7,167.6L434.4,167.6L435.0,167.7L435.5,167.9L436.0,168.2L436.5,168.6L437.0,169.0L437.5,169.5L438.2,169.9L439.0,170.3L439.9,170.7L441.1,171.0L441.7,171.1L442.3,171.2L442.9,171.3L443.6,171.5L444.3,171.6L445.1,171.7L445.9,171.8L446.7,171.9L447.5,172.1L448.4,172.2L449.2,172.3L450.1,172.4L451.0,172.5L451.9,172.6L452.8,172.6L453.7,172.7L454.5,172.8L455.4,172.8L456.3,172.9L457.1,172.9L457.9,172.9L458.7,172.9L459.5,172.9L460.2,172.9L461.1,172.8L462.0,172.7L462.9,172.6L463.7,172.4L464.6,172.2L465.4,172.0L466.3,171.8L467.1,171.6L467.9,171.3L468.7,171.1L469.5,170.8L470.3,170.6L471.1,170.3L471.8,170.1L472.6,169.9L473.3,169.8L474.1,169.7L474.8,169.6L475.5,169.5L476.4,169.5L477.3,169.5L478.1,169.6L479.0,169.7L479.8,169.9L480.6,170.1L481.4,170.3L482.2,170.5L483.0,170.7L483.7,170.9L484.4,171.1L485.1,171.3L485.8,171.4L486.5,171.5L487.1,171.6L488.1,171.7L489.0,171.7L489.9,171.7L490.7,171.6L491.5,171.5L492.2,171.4L492.9,171.3L493.5,171.1L494.2,170.8L494.9,170.5L495.5,170.1L496.1,169.8L496.7,169.3L497.2,168.8L497.8,168.2L498.3,167.5L498.9,166.6L499.2,166.0L499.6,165.4L499.9,164.7L500.2,164.0L500.6,163.2L500.9,162.4L501.3,161.6L501.6,160.8L501.9,159.9L502.3,159.1L502.6,158.3L502.9,157.5L503.3,156.7L503.6,156.0L504.0,155.2L504.4,154.3L504.8,153.3L505.1,152.4L505.5,151.4L505.9,150.5L506.3,149.7L506.7,148.9L507.0,148.3L507.4,147.7L507.8,147.3L508.1,147.1L508.6,147.0L509.1,147.3L509.6,147.8L510.1,148.5L510.5,149.4L511.0,150.4L511.4,151.4L511.9,152.5L512.1,153.1L512.4,153.8L512.6,154.5L512.8,155.3L513.1,156.1L513.3,157.0L513.5,157.9L513.8,158.7L514.0,159.6L514.2,160.5L514.5,161.3L514.7,162.1L515.0,162.9L515.2,163.6L515.5,164.3L515.9,165.1L516.3,165.9L516.6,166.7L517.0,167.5L517.4,168.1L517.8,168.8L518.3,169.4L518.7,170.0L519.2,170.5L519.7,171.0L520.2,171.4L520.9,171.8L521.5,172.2L522.2,172.4L523.0,172.6L523.7,172.7L524.5,172.8L525.4,172.9L526.3,173.0L527.3,173.1L528.0,173.2L528.8,173.3L529.6,173.4L530.5,173.4L531.5,173.5L532.4,173.6L533.3,173.7L534.3,173.7L535.2,173.8L536.0,173.8L536.8,173.9L537.5,173.9L538.0,174.0L538.5,174.0" fill="none" stroke="#57524c" stroke-width="1.35" stroke-linecap="round"/>
<line x1="375.10" y1="18.60" x2="375.10" y2="42.10" stroke="#151515" stroke-width="1.00"/>
<path d="M373.60,41.60L376.60,41.60L375.10,46.20Z" fill="#151515"/>
<text x="378.90" y="24.90" font-size="6.90" fill="#1a1a1a" color="#1a1a1a" textLength="35.90" lengthAdjust="spacingAndGlyphs">pronounced</text>
<text x="378.90" y="33.50" font-size="6.90" fill="#1a1a1a" color="#1a1a1a" textLength="35.90" lengthAdjust="spacingAndGlyphs">degradation</text>
<text x="378.90" y="42.40" font-size="6.90" fill="#1a1a1a" color="#1a1a1a" textLength="25.10" lengthAdjust="spacingAndGlyphs">of DPBF</text>
<text x="469.30" y="115.90" font-size="7.70" fill="#1a1a1a" color="#1a1a1a" textLength="50.60" lengthAdjust="spacingAndGlyphs">irradiation time</text>
<text x="469.30" y="125.90" font-size="7.70" fill="#1a1a1a" color="#1a1a1a" textLength="53.50" lengthAdjust="spacingAndGlyphs">(λ = 660 nm), s:</text>
<text x="447.90" y="143.40" font-size="6.90" fill="#1a1a1a" color="#1a1a1a" textLength="32.50" lengthAdjust="spacingAndGlyphs">no change</text>
<text x="447.90" y="151.80" font-size="6.90" fill="#1a1a1a" color="#1a1a1a" textLength="23.00" lengthAdjust="spacingAndGlyphs">of MPP</text>
<text x="447.90" y="161.30" font-size="6.90" fill="#1a1a1a" color="#1a1a1a" textLength="36.10" lengthAdjust="spacingAndGlyphs">absorbance</text>
<line x1="493.60" y1="138.00" x2="493.60" y2="161.40" stroke="#151515" stroke-width="1.00"/>
<path d="M492.10,160.90L495.10,160.90L493.60,165.50Z" fill="#151515"/>
<line x1="487.70" y1="145.40" x2="499.00" y2="155.50" stroke="#ff2020" stroke-width="1.30"/>
<line x1="500.70" y1="144.20" x2="488.00" y2="156.60" stroke="#ff2020" stroke-width="1.30"/>
<rect x="529.40" y="95.10" width="16.00" height="74.40" fill="#fff" stroke="#666" stroke-width="0.8"/>
<line x1="529.90" y1="98.30" x2="540.30" y2="98.30" stroke="#555555" stroke-width="1.30"/>
<text x="541.00" y="100.06" font-size="4.90" fill="#333" color="#333" style="stroke-width:0.06px">0</text>
<line x1="529.90" y1="103.98" x2="540.30" y2="103.98" stroke="#f03a3a" stroke-width="1.30"/>
<text x="541.00" y="105.74" font-size="4.90" fill="#333" color="#333" style="stroke-width:0.06px">2</text>
<line x1="529.90" y1="109.66" x2="540.30" y2="109.66" stroke="#3a6fe0" stroke-width="1.30"/>
<text x="541.00" y="111.42" font-size="4.90" fill="#333" color="#333" style="stroke-width:0.06px">4</text>
<line x1="529.90" y1="115.34" x2="540.30" y2="115.34" stroke="#3daa6a" stroke-width="1.30"/>
<text x="541.00" y="117.10" font-size="4.90" fill="#333" color="#333" style="stroke-width:0.06px">6</text>
<line x1="529.90" y1="121.02" x2="540.30" y2="121.02" stroke="#b48cf0" stroke-width="1.30"/>
<text x="541.00" y="122.78" font-size="4.90" fill="#333" color="#333" style="stroke-width:0.06px">8</text>
<line x1="529.90" y1="126.70" x2="540.30" y2="126.70" stroke="#dda520" stroke-width="1.30"/>
<text x="541.00" y="128.46" font-size="4.90" fill="#333" color="#333" style="stroke-width:0.06px">10</text>
<line x1="529.90" y1="132.38" x2="540.30" y2="132.38" stroke="#2ed0e0" stroke-width="1.30"/>
<text x="541.00" y="134.14" font-size="4.90" fill="#333" color="#333" style="stroke-width:0.06px">12</text>
<line x1="529.90" y1="138.06" x2="540.30" y2="138.06" stroke="#a88080" stroke-width="1.30"/>
<text x="541.00" y="139.82" font-size="4.90" fill="#333" color="#333" style="stroke-width:0.06px">14</text>
<line x1="529.90" y1="143.74" x2="540.30" y2="143.74" stroke="#a8a830" stroke-width="1.30"/>
<text x="541.00" y="145.50" font-size="4.90" fill="#333" color="#333" style="stroke-width:0.06px">16</text>
<line x1="529.90" y1="149.42" x2="540.30" y2="149.42" stroke="#ff7f27" stroke-width="1.30"/>
<text x="541.00" y="151.18" font-size="4.90" fill="#333" color="#333" style="stroke-width:0.06px">18</text>
<line x1="529.90" y1="155.10" x2="540.30" y2="155.10" stroke="#74aee0" stroke-width="1.30"/>
<text x="541.00" y="156.86" font-size="4.90" fill="#333" color="#333" style="stroke-width:0.06px">20</text>
<line x1="529.90" y1="160.78" x2="540.30" y2="160.78" stroke="#7dcc3a" stroke-width="1.30"/>
<text x="541.00" y="162.54" font-size="4.90" fill="#333" color="#333" style="stroke-width:0.06px">22</text>
<line x1="529.90" y1="166.46" x2="540.30" y2="166.46" stroke="#555555" stroke-width="1.30"/>
<text x="541.00" y="168.22" font-size="4.90" fill="#333" color="#333" style="stroke-width:0.06px">24</text>
<path d="M446.60,16.40V83.20H543.20" fill="none" stroke="#444" stroke-width="0.80"/>
<line x1="445.00" y1="18.01" x2="446.60" y2="18.01" stroke="#444" stroke-width="0.70"/>
<line x1="445.00" y1="30.87" x2="446.60" y2="30.87" stroke="#444" stroke-width="0.70"/>
<line x1="445.00" y1="43.73" x2="446.60" y2="43.73" stroke="#444" stroke-width="0.70"/>
<line x1="445.00" y1="56.58" x2="446.60" y2="56.58" stroke="#444" stroke-width="0.70"/>
<line x1="445.00" y1="69.44" x2="446.60" y2="69.44" stroke="#444" stroke-width="0.70"/>
<line x1="445.00" y1="82.30" x2="446.60" y2="82.30" stroke="#444" stroke-width="0.70"/>
<line x1="445.70" y1="24.44" x2="446.60" y2="24.44" stroke="#444" stroke-width="0.70"/>
<line x1="445.70" y1="37.30" x2="446.60" y2="37.30" stroke="#444" stroke-width="0.70"/>
<line x1="445.70" y1="50.15" x2="446.60" y2="50.15" stroke="#444" stroke-width="0.70"/>
<line x1="445.70" y1="63.01" x2="446.60" y2="63.01" stroke="#444" stroke-width="0.70"/>
<line x1="445.70" y1="75.87" x2="446.60" y2="75.87" stroke="#444" stroke-width="0.70"/>
<text x="444.40" y="19.81" font-size="5.00" text-anchor="end" fill="#222" color="#222" style="stroke-width:0.06px">0.10</text>
<text x="444.40" y="32.67" font-size="5.00" text-anchor="end" fill="#222" color="#222" style="stroke-width:0.06px">0.08</text>
<text x="444.40" y="45.53" font-size="5.00" text-anchor="end" fill="#222" color="#222" style="stroke-width:0.06px">0.06</text>
<text x="444.40" y="58.38" font-size="5.00" text-anchor="end" fill="#222" color="#222" style="stroke-width:0.06px">0.04</text>
<text x="444.40" y="71.24" font-size="5.00" text-anchor="end" fill="#222" color="#222" style="stroke-width:0.06px">0.02</text>
<text x="444.40" y="84.10" font-size="5.00" text-anchor="end" fill="#222" color="#222" style="stroke-width:0.06px">0.00</text>
<line x1="448.20" y1="83.20" x2="448.20" y2="84.80" stroke="#444" stroke-width="0.70"/>
<line x1="469.23" y1="83.20" x2="469.23" y2="84.80" stroke="#444" stroke-width="0.70"/>
<line x1="490.26" y1="83.20" x2="490.26" y2="84.80" stroke="#444" stroke-width="0.70"/>
<line x1="511.29" y1="83.20" x2="511.29" y2="84.80" stroke="#444" stroke-width="0.70"/>
<line x1="532.32" y1="83.20" x2="532.32" y2="84.80" stroke="#444" stroke-width="0.70"/>
<line x1="458.71" y1="83.20" x2="458.71" y2="84.10" stroke="#444" stroke-width="0.70"/>
<line x1="479.75" y1="83.20" x2="479.75" y2="84.10" stroke="#444" stroke-width="0.70"/>
<line x1="500.77" y1="83.20" x2="500.77" y2="84.10" stroke="#444" stroke-width="0.70"/>
<line x1="521.80" y1="83.20" x2="521.80" y2="84.10" stroke="#444" stroke-width="0.70"/>
<line x1="542.84" y1="83.20" x2="542.84" y2="84.10" stroke="#444" stroke-width="0.70"/>
<text x="448.20" y="90.90" font-size="5.30" text-anchor="middle" fill="#222" color="#222" style="stroke-width:0.06px">0</text>
<text x="469.23" y="90.90" font-size="5.30" text-anchor="middle" fill="#222" color="#222" style="stroke-width:0.06px">5</text>
<text x="490.26" y="90.90" font-size="5.30" text-anchor="middle" fill="#222" color="#222" style="stroke-width:0.06px">10</text>
<text x="511.29" y="90.90" font-size="5.30" text-anchor="middle" fill="#222" color="#222" style="stroke-width:0.06px">15</text>
<text x="532.32" y="90.90" font-size="5.30" text-anchor="middle" fill="#222" color="#222" style="stroke-width:0.06px">20</text>
<text x="490.50" y="100.70" font-size="6.70" text-anchor="middle" fill="#333" color="#333" textLength="9.00" lengthAdjust="spacingAndGlyphs">t, s</text>
<text x="431.20" y="48.20" font-size="9.40" text-anchor="middle" fill="#222" color="#222" transform="rotate(-90 431.20 48.20)">ln(I<tspan font-size="6.00" dy="1.70">0</tspan><tspan dy="-1.70"> / I)</tspan></text>
<path d="M448.2,82.3L456.6,77.7L465.0,72.5L473.4,67.3L481.8,61.8L490.3,56.6L498.7,52.0L507.1,46.4L515.5,40.7L523.9,36.1L532.3,31.6L540.7,25.5" fill="none" stroke="#333" stroke-width="0.9"/>
<circle cx="448.20" cy="82.30" r="1.0" fill="#333"/>
<circle cx="456.61" cy="77.67" r="1.0" fill="#333"/>
<circle cx="465.02" cy="72.53" r="1.0" fill="#333"/>
<circle cx="473.44" cy="67.32" r="1.0" fill="#333"/>
<circle cx="481.85" cy="61.79" r="1.0" fill="#333"/>
<circle cx="490.26" cy="56.58" r="1.0" fill="#333"/>
<circle cx="498.67" cy="52.02" r="1.0" fill="#333"/>
<circle cx="507.08" cy="46.43" r="1.0" fill="#333"/>
<circle cx="515.50" cy="40.70" r="1.0" fill="#333"/>
<circle cx="523.91" cy="36.08" r="1.0" fill="#333"/>
<circle cx="532.32" cy="31.58" r="1.0" fill="#333"/>
<circle cx="540.73" cy="25.47" r="1.0" fill="#333"/>
<path d="M44.90,248.20V419.60H262.40" fill="none" stroke="#444" stroke-width="1.25"/>
<line x1="42.30" y1="404.60" x2="44.90" y2="404.60" stroke="#444" stroke-width="1.00"/>
<line x1="42.30" y1="381.35" x2="44.90" y2="381.35" stroke="#444" stroke-width="1.00"/>
<line x1="42.30" y1="358.10" x2="44.90" y2="358.10" stroke="#444" stroke-width="1.00"/>
<line x1="42.30" y1="334.85" x2="44.90" y2="334.85" stroke="#444" stroke-width="1.00"/>
<line x1="42.30" y1="311.60" x2="44.90" y2="311.60" stroke="#444" stroke-width="1.00"/>
<line x1="42.30" y1="288.35" x2="44.90" y2="288.35" stroke="#444" stroke-width="1.00"/>
<line x1="42.30" y1="265.10" x2="44.90" y2="265.10" stroke="#444" stroke-width="1.00"/>
<line x1="43.30" y1="416.23" x2="44.90" y2="416.23" stroke="#444" stroke-width="1.00"/>
<line x1="43.30" y1="392.98" x2="44.90" y2="392.98" stroke="#444" stroke-width="1.00"/>
<line x1="43.30" y1="369.73" x2="44.90" y2="369.73" stroke="#444" stroke-width="1.00"/>
<line x1="43.30" y1="346.48" x2="44.90" y2="346.48" stroke="#444" stroke-width="1.00"/>
<line x1="43.30" y1="323.23" x2="44.90" y2="323.23" stroke="#444" stroke-width="1.00"/>
<line x1="43.30" y1="299.98" x2="44.90" y2="299.98" stroke="#444" stroke-width="1.00"/>
<line x1="43.30" y1="276.73" x2="44.90" y2="276.73" stroke="#444" stroke-width="1.00"/>
<line x1="43.30" y1="253.48" x2="44.90" y2="253.48" stroke="#444" stroke-width="1.00"/>
<text x="40.20" y="407.55" font-size="8.20" text-anchor="end" fill="#222" color="#222">0.08</text>
<text x="40.20" y="384.30" font-size="8.20" text-anchor="end" fill="#222" color="#222">0.10</text>
<text x="40.20" y="361.05" font-size="8.20" text-anchor="end" fill="#222" color="#222">0.12</text>
<text x="40.20" y="337.80" font-size="8.20" text-anchor="end" fill="#222" color="#222">0.14</text>
<text x="40.20" y="314.55" font-size="8.20" text-anchor="end" fill="#222" color="#222">0.16</text>
<text x="40.20" y="291.30" font-size="8.20" text-anchor="end" fill="#222" color="#222">0.18</text>
<text x="40.20" y="268.05" font-size="8.20" text-anchor="end" fill="#222" color="#222">0.20</text>
<line x1="59.20" y1="419.60" x2="59.20" y2="422.20" stroke="#444" stroke-width="1.00"/>
<line x1="102.00" y1="419.60" x2="102.00" y2="422.20" stroke="#444" stroke-width="1.00"/>
<line x1="144.80" y1="419.60" x2="144.80" y2="422.20" stroke="#444" stroke-width="1.00"/>
<line x1="187.60" y1="419.60" x2="187.60" y2="422.20" stroke="#444" stroke-width="1.00"/>
<line x1="230.40" y1="419.60" x2="230.40" y2="422.20" stroke="#444" stroke-width="1.00"/>
<line x1="80.60" y1="419.60" x2="80.60" y2="421.20" stroke="#444" stroke-width="1.00"/>
<line x1="123.40" y1="419.60" x2="123.40" y2="421.20" stroke="#444" stroke-width="1.00"/>
<line x1="166.20" y1="419.60" x2="166.20" y2="421.20" stroke="#444" stroke-width="1.00"/>
<line x1="209.00" y1="419.60" x2="209.00" y2="421.20" stroke="#444" stroke-width="1.00"/>
<line x1="251.80" y1="419.60" x2="251.80" y2="421.20" stroke="#444" stroke-width="1.00"/>
<text x="59.20" y="430.80" font-size="8.00" text-anchor="middle" fill="#222" color="#222">500</text>
<text x="102.00" y="430.80" font-size="8.00" text-anchor="middle" fill="#222" color="#222">550</text>
<text x="144.80" y="430.80" font-size="8.00" text-anchor="middle" fill="#222" color="#222">600</text>
<text x="187.60" y="430.80" font-size="8.00" text-anchor="middle" fill="#222" color="#222">650</text>
<text x="230.40" y="430.80" font-size="8.00" text-anchor="middle" fill="#222" color="#222">700</text>
<text x="13.50" y="342.00" font-size="15.20" text-anchor="middle" fill="#111" color="#111" textLength="90.00" lengthAdjust="spacingAndGlyphs" transform="rotate(-90 13.50 342.00)">Absorbance</text>
<text x="151.70" y="445.80" font-size="12.50" text-anchor="middle" fill="#111" color="#111" textLength="90.40" lengthAdjust="spacingAndGlyphs">Wavelength, nm</text>
<text x="132.70" y="461.10" font-size="10.60" text-anchor="middle" font-weight="bold" font-family="Liberation Serif" fill="#111" color="#111" textLength="11.50" lengthAdjust="spacingAndGlyphs">(c)</text>
<path d="M45.2,398.8C46.37,399.02 49.85,400.32 52.20,400.10C54.55,399.88 57.05,398.47 59.30,397.50C61.55,396.53 63.67,395.05 65.70,394.30C67.73,393.55 69.57,392.90 71.50,393.00C73.43,393.10 75.03,393.93 77.30,394.90C79.57,395.87 82.73,398.37 85.10,398.80C87.47,399.23 89.78,397.83 91.50,397.50C93.22,397.17 93.93,396.62 95.40,396.80C96.87,396.98 98.42,397.55 100.30,398.60C102.18,399.65 104.55,401.80 106.70,403.10C108.85,404.40 110.62,405.22 113.20,406.40C115.78,407.58 119.20,409.13 122.20,410.20C125.20,411.27 128.42,412.15 131.20,412.80C133.98,413.45 136.53,414.37 138.90,414.10C141.27,413.83 143.72,412.30 145.40,411.20C147.08,410.10 147.53,409.03 149.00,407.50C150.47,405.97 152.62,403.33 154.20,402.00C155.78,400.67 157.00,400.13 158.50,399.50C160.00,398.87 161.13,398.23 163.20,398.20C165.27,398.17 168.33,398.70 170.90,399.30C173.47,399.90 176.45,401.38 178.60,401.80C180.75,402.22 182.08,402.55 183.80,401.80C185.52,401.05 187.60,399.43 188.90,397.30C190.20,395.17 190.73,391.72 191.60,389.00C192.47,386.28 193.03,387.25 194.10,381.00C195.17,374.75 196.68,359.50 198.00,351.50C199.32,343.50 200.67,337.42 202.00,333.00C203.33,328.58 204.52,326.72 206.00,325.00C207.48,323.28 208.80,320.43 210.90,322.70C213.00,324.97 216.25,332.93 218.60,338.60C220.95,344.27 222.98,349.70 225.00,356.70C227.02,363.70 228.88,374.68 230.70,380.60C232.52,386.52 234.18,388.77 235.90,392.20C237.62,395.63 239.07,398.63 241.00,401.20C242.93,403.77 245.35,405.88 247.50,407.60C249.65,409.32 251.55,411.07 253.90,411.50C256.25,411.93 260.32,410.42 261.60,410.20" fill="none" stroke="#111111" stroke-width="1.55" stroke-linejoin="round"/>
<path d="M45.2,375.0C46.27,375.53 49.68,377.67 51.60,378.20C53.52,378.73 54.98,378.53 56.70,378.20C58.42,377.87 60.07,376.85 61.90,376.20C63.73,375.55 65.98,374.40 67.70,374.30C69.42,374.20 70.60,374.63 72.20,375.60C73.80,376.57 75.37,378.92 77.30,380.10C79.23,381.28 81.22,382.48 83.80,382.70C86.38,382.92 90.48,381.10 92.80,381.40C95.12,381.70 96.02,383.13 97.70,384.50C99.38,385.87 100.75,388.00 102.90,389.60C105.05,391.20 108.03,392.70 110.60,394.10C113.17,395.50 115.73,396.82 118.30,398.00C120.87,399.18 123.42,400.35 126.00,401.20C128.58,402.05 131.65,402.72 133.80,403.10C135.95,403.48 137.18,403.72 138.90,403.50C140.62,403.28 142.25,402.93 144.10,401.80C145.95,400.67 148.53,398.30 150.00,396.70C151.47,395.10 151.35,393.38 152.90,392.20C154.45,391.02 157.15,389.82 159.30,389.60C161.45,389.38 163.43,390.25 165.80,390.90C168.17,391.55 170.93,392.85 173.50,393.50C176.07,394.15 179.27,394.92 181.20,394.80C183.13,394.68 183.60,394.52 185.10,392.80C186.60,391.08 188.85,387.97 190.20,384.50C191.55,381.03 192.23,377.50 193.20,372.00C194.17,366.50 194.87,358.00 196.00,351.50C197.13,345.00 198.67,338.58 200.00,333.00C201.33,327.42 202.62,321.43 204.00,318.00C205.38,314.57 206.97,312.40 208.30,312.40C209.63,312.40 210.70,315.35 212.00,318.00C213.30,320.65 214.13,322.72 216.10,328.30C218.07,333.88 221.37,343.43 223.80,351.50C226.23,359.57 228.68,370.57 230.70,376.70C232.72,382.83 233.97,384.87 235.90,388.30C237.83,391.73 240.15,394.83 242.30,397.30C244.45,399.77 246.87,401.58 248.80,403.10C250.73,404.62 252.40,405.97 253.90,406.40C255.40,406.83 256.52,406.03 257.80,405.70C259.08,405.37 260.97,404.62 261.60,404.40" fill="none" stroke="#1c1cf5" stroke-width="1.55" stroke-linejoin="round"/>
<path d="M45.2,379.0C46.05,379.30 48.80,381.05 50.30,380.80C51.80,380.55 52.92,379.25 54.20,377.50C55.48,375.75 56.08,372.42 58.00,370.30C59.92,368.18 63.77,365.38 65.70,364.80C67.63,364.22 68.08,364.68 69.60,366.80C71.12,368.92 73.08,374.80 74.80,377.50C76.52,380.20 78.40,381.98 79.90,383.00C81.40,384.02 82.30,384.77 83.80,383.60C85.30,382.43 87.52,377.85 88.90,376.00C90.28,374.15 91.02,372.42 92.10,372.50C93.18,372.58 94.08,374.33 95.40,376.50C96.72,378.67 98.75,383.12 100.00,385.50C101.25,387.88 101.57,389.38 102.90,390.80C104.23,392.22 105.87,393.00 108.00,394.00C110.13,395.00 113.12,395.60 115.70,396.80C118.28,398.00 121.13,400.20 123.50,401.20C125.87,402.20 127.75,402.45 129.90,402.80C132.05,403.15 134.47,403.57 136.40,403.30C138.33,403.03 139.83,403.17 141.50,401.20C143.17,399.23 144.50,394.48 146.40,391.50C148.30,388.52 151.28,384.75 152.90,383.30C154.52,381.85 154.82,382.42 156.10,382.80C157.38,383.18 158.98,384.07 160.60,385.60C162.22,387.13 163.65,390.23 165.80,392.00C167.95,393.77 171.37,395.48 173.50,396.20C175.63,396.92 176.88,396.58 178.60,396.30C180.32,396.02 182.30,395.75 183.80,394.50C185.30,393.25 186.32,392.22 187.60,388.80C188.88,385.38 190.42,378.80 191.50,374.00C192.58,369.20 193.25,366.00 194.10,360.00C194.95,354.00 195.82,345.92 196.60,338.00C197.38,330.08 198.07,320.17 198.80,312.50C199.53,304.83 200.23,298.75 201.00,292.00C201.77,285.25 202.48,277.72 203.40,272.00C204.32,266.28 205.40,258.03 206.50,257.70C207.60,257.37 209.08,264.28 210.00,270.00C210.92,275.72 211.25,283.67 212.00,292.00C212.75,300.33 213.67,310.33 214.50,320.00C215.33,329.67 216.33,343.33 217.00,350.00C217.67,356.67 217.72,355.75 218.50,360.00C219.28,364.25 220.52,371.20 221.70,375.50C222.88,379.80 223.67,382.58 225.60,385.80C227.53,389.02 230.52,392.02 233.30,394.80C236.08,397.58 239.08,400.57 242.30,402.50C245.52,404.43 249.38,405.87 252.60,406.40C255.82,406.93 260.10,405.82 261.60,405.70" fill="none" stroke="#188a82" stroke-width="1.55" stroke-linejoin="round"/>
<path d="M45.2,379.5C46.05,379.82 48.80,381.62 50.30,381.40C51.80,381.18 52.92,379.92 54.20,378.20C55.48,376.48 56.08,373.25 58.00,371.10C59.92,368.95 63.77,365.95 65.70,365.30C67.63,364.65 68.08,365.05 69.60,367.20C71.12,369.35 73.08,375.52 74.80,378.20C76.52,380.88 78.40,382.33 79.90,383.30C81.40,384.27 82.30,385.28 83.80,384.00C85.30,382.72 87.52,377.65 88.90,375.60C90.28,373.55 91.02,371.60 92.10,371.70C93.18,371.80 94.08,373.83 95.40,376.20C96.72,378.57 98.75,383.35 100.00,385.90C101.25,388.45 101.57,390.02 102.90,391.50C104.23,392.98 105.87,393.83 108.00,394.80C110.13,395.77 113.12,396.13 115.70,397.30C118.28,398.47 121.13,400.83 123.50,401.80C125.87,402.77 127.75,402.82 129.90,403.10C132.05,403.38 134.47,403.72 136.40,403.50C138.33,403.28 139.83,403.68 141.50,401.80C143.17,399.92 144.50,395.20 146.40,392.20C148.30,389.20 151.28,385.30 152.90,383.80C154.52,382.30 154.82,382.77 156.10,383.20C157.38,383.63 158.98,384.80 160.60,386.40C162.22,388.00 163.65,391.08 165.80,392.80C167.95,394.52 171.37,396.05 173.50,396.70C175.63,397.35 176.88,397.02 178.60,396.70C180.32,396.38 182.30,396.20 183.80,394.80C185.30,393.40 186.32,391.95 187.60,388.30C188.88,384.65 190.42,377.95 191.50,372.90C192.58,367.85 193.28,364.32 194.10,358.00C194.92,351.68 195.67,342.58 196.40,335.00C197.13,327.42 197.78,320.00 198.50,312.50C199.22,305.00 199.95,297.50 200.70,290.00C201.45,282.50 202.12,273.87 203.00,267.50C203.88,261.13 204.88,251.80 206.00,251.80C207.12,251.80 208.75,261.13 209.70,267.50C210.65,273.87 211.07,282.50 211.70,290.00C212.33,297.50 212.77,302.25 213.50,312.50C214.23,322.75 215.15,341.43 216.10,351.50C217.05,361.57 218.27,367.18 219.20,372.90C220.13,378.62 220.42,382.15 221.70,385.80C222.98,389.45 224.75,392.23 226.90,394.80C229.05,397.37 231.82,399.38 234.60,401.20C237.38,403.02 240.80,404.52 243.60,405.70C246.40,406.88 249.25,407.98 251.40,408.30C253.55,408.62 254.80,408.10 256.50,407.60C258.20,407.10 260.75,405.68 261.60,405.30" fill="none" stroke="#f51c1c" stroke-width="1.55" stroke-linejoin="round"/>
<rect x="46.9" y="249.4" width="152.6" height="33.8" fill="#fff" stroke="#999" stroke-width="0.8"/>
<line x1="48.40" y1="254.60" x2="62.90" y2="254.60" stroke="#111" stroke-width="1.60"/>
<text x="65.00" y="257.00" font-size="6.90" fill="#1a1a1a" color="#1a1a1a" textLength="59.00" lengthAdjust="spacingAndGlyphs">CPL5+MPP in water</text>
<line x1="48.40" y1="262.57" x2="62.90" y2="262.57" stroke="#1c1cf5" stroke-width="1.60"/>
<text x="65.00" y="264.97" font-size="6.90" fill="#1a1a1a" color="#1a1a1a" textLength="123.00" lengthAdjust="spacingAndGlyphs">CPL5+MPP + liposomes (0 min incubation)</text>
<line x1="48.40" y1="270.54" x2="62.90" y2="270.54" stroke="#188a82" stroke-width="1.60"/>
<text x="65.00" y="272.94" font-size="6.90" fill="#1a1a1a" color="#1a1a1a" textLength="130.30" lengthAdjust="spacingAndGlyphs">CPL5+MPP + liposomes (30 min incubation)</text>
<line x1="48.40" y1="278.51" x2="62.90" y2="278.51" stroke="#f51c1c" stroke-width="1.60"/>
<text x="65.00" y="280.91" font-size="6.90" fill="#1a1a1a" color="#1a1a1a" textLength="132.60" lengthAdjust="spacingAndGlyphs">CPL5+MPP + liposomes (180 min incubation)</text>
<path d="M321.70,245.00V409.60H540.80" fill="none" stroke="#444" stroke-width="1.25"/>
<line x1="319.10" y1="407.80" x2="321.70" y2="407.80" stroke="#444" stroke-width="1.00"/>
<line x1="319.10" y1="385.73" x2="321.70" y2="385.73" stroke="#444" stroke-width="1.00"/>
<line x1="319.10" y1="363.66" x2="321.70" y2="363.66" stroke="#444" stroke-width="1.00"/>
<line x1="319.10" y1="341.59" x2="321.70" y2="341.59" stroke="#444" stroke-width="1.00"/>
<line x1="319.10" y1="319.52" x2="321.70" y2="319.52" stroke="#444" stroke-width="1.00"/>
<line x1="319.10" y1="297.44" x2="321.70" y2="297.44" stroke="#444" stroke-width="1.00"/>
<line x1="319.10" y1="275.37" x2="321.70" y2="275.37" stroke="#444" stroke-width="1.00"/>
<line x1="319.10" y1="253.30" x2="321.70" y2="253.30" stroke="#444" stroke-width="1.00"/>
<line x1="320.10" y1="396.76" x2="321.70" y2="396.76" stroke="#444" stroke-width="1.00"/>
<line x1="320.10" y1="374.69" x2="321.70" y2="374.69" stroke="#444" stroke-width="1.00"/>
<line x1="320.10" y1="352.62" x2="321.70" y2="352.62" stroke="#444" stroke-width="1.00"/>
<line x1="320.10" y1="330.55" x2="321.70" y2="330.55" stroke="#444" stroke-width="1.00"/>
<line x1="320.10" y1="308.48" x2="321.70" y2="308.48" stroke="#444" stroke-width="1.00"/>
<line x1="320.10" y1="286.41" x2="321.70" y2="286.41" stroke="#444" stroke-width="1.00"/>
<line x1="320.10" y1="264.34" x2="321.70" y2="264.34" stroke="#444" stroke-width="1.00"/>
<text x="316.60" y="410.82" font-size="8.40" text-anchor="end" fill="#222" color="#222">0</text>
<text x="316.60" y="388.75" font-size="8.40" text-anchor="end" fill="#222" color="#222">10</text>
<text x="316.60" y="366.68" font-size="8.40" text-anchor="end" fill="#222" color="#222">20</text>
<text x="316.60" y="344.61" font-size="8.40" text-anchor="end" fill="#222" color="#222">30</text>
<text x="316.60" y="322.54" font-size="8.40" text-anchor="end" fill="#222" color="#222">40</text>
<text x="316.60" y="300.47" font-size="8.40" text-anchor="end" fill="#222" color="#222">50</text>
<text x="316.60" y="278.40" font-size="8.40" text-anchor="end" fill="#222" color="#222">60</text>
<text x="316.60" y="256.33" font-size="8.40" text-anchor="end" fill="#222" color="#222">70</text>
<line x1="357.50" y1="409.60" x2="357.50" y2="412.20" stroke="#444" stroke-width="1.00"/>
<line x1="394.50" y1="409.60" x2="394.50" y2="412.20" stroke="#444" stroke-width="1.00"/>
<line x1="431.50" y1="409.60" x2="431.50" y2="412.20" stroke="#444" stroke-width="1.00"/>
<line x1="468.50" y1="409.60" x2="468.50" y2="412.20" stroke="#444" stroke-width="1.00"/>
<line x1="505.50" y1="409.60" x2="505.50" y2="412.20" stroke="#444" stroke-width="1.00"/>
<line x1="339.00" y1="409.60" x2="339.00" y2="411.20" stroke="#444" stroke-width="1.00"/>
<line x1="376.00" y1="409.60" x2="376.00" y2="411.20" stroke="#444" stroke-width="1.00"/>
<line x1="413.00" y1="409.60" x2="413.00" y2="411.20" stroke="#444" stroke-width="1.00"/>
<line x1="450.00" y1="409.60" x2="450.00" y2="411.20" stroke="#444" stroke-width="1.00"/>
<line x1="487.00" y1="409.60" x2="487.00" y2="411.20" stroke="#444" stroke-width="1.00"/>
<line x1="524.00" y1="409.60" x2="524.00" y2="411.20" stroke="#444" stroke-width="1.00"/>
<text x="357.50" y="420.80" font-size="8.20" text-anchor="middle" fill="#222" color="#222">675</text>
<text x="394.50" y="420.80" font-size="8.20" text-anchor="middle" fill="#222" color="#222">700</text>
<text x="431.50" y="420.80" font-size="8.20" text-anchor="middle" fill="#222" color="#222">725</text>
<text x="468.50" y="420.80" font-size="8.20" text-anchor="middle" fill="#222" color="#222">750</text>
<text x="505.50" y="420.80" font-size="8.20" text-anchor="middle" fill="#222" color="#222">775</text>
<text x="294.50" y="332.30" font-size="12.60" text-anchor="middle" fill="#111" color="#111" textLength="155.00" lengthAdjust="spacingAndGlyphs" transform="rotate(-90 294.50 332.30)">Fluorescence intensity, a.u.</text>
<text x="434.20" y="437.50" font-size="12.50" text-anchor="middle" fill="#111" color="#111" textLength="89.90" lengthAdjust="spacingAndGlyphs">Wavelength, nm</text>
<text x="415.20" y="461.50" font-size="11.00" text-anchor="middle" font-weight="bold" font-family="Liberation Serif" fill="#111" color="#111" textLength="13.50" lengthAdjust="spacingAndGlyphs">(d)</text>
<path d="M328.4,381.9L328.7,381.9L329.0,381.0L329.5,380.6L330.0,379.7L330.5,377.8L331.1,376.5L331.7,376.3L332.0,374.7L332.3,373.9L332.6,374.2L333.0,372.6L333.3,372.3L333.7,370.8L334.0,370.1L334.4,368.3L334.8,368.0L335.2,367.3L335.5,365.7L335.9,364.8L336.3,363.6L336.6,361.4L337.0,361.2L337.2,360.0L337.5,358.7L337.7,357.3L338.0,357.6L338.2,355.9L338.5,355.3L338.7,354.4L339.0,353.1L339.3,352.3L339.5,350.4L339.8,349.9L340.0,348.2L340.3,347.8L340.5,346.5L340.8,344.2L341.0,343.2L341.2,342.2L341.5,342.2L341.7,340.3L342.0,339.5L342.2,337.9L342.4,337.2L342.6,335.9L342.9,334.8L343.1,334.0L343.3,333.0L343.6,332.4L343.8,331.0L344.0,330.4L344.2,329.2L344.4,328.4L344.7,326.9L344.9,325.1L345.1,325.1L345.3,324.2L345.5,323.1L345.7,321.5L345.9,320.6L346.1,318.8L346.3,318.6L346.5,317.1L346.7,315.5L346.9,314.1L347.0,314.3L347.2,313.5L347.4,311.1L347.5,311.1L347.7,309.4L347.8,307.9L348.0,307.0L348.1,306.6L348.3,305.6L348.4,303.3L348.6,303.0L348.8,301.0L348.9,300.9L349.0,299.2L349.2,298.9L349.3,298.0L349.5,296.2L349.6,295.8L349.8,293.7L349.9,292.3L350.0,292.1L350.2,290.3L350.3,289.5L350.5,288.7L350.6,287.8L350.8,285.9L350.9,284.6L351.1,284.7L351.2,282.8L351.4,282.6L351.5,281.5L351.6,279.6L351.8,278.7L351.9,277.7L352.1,276.9L352.2,275.8L352.3,274.8L352.5,273.9L352.6,273.4L352.7,271.8L352.9,270.8L353.0,270.3L353.2,268.3L353.4,267.1L353.6,266.8L353.8,264.9L354.0,263.7L354.2,261.8L354.4,261.2L354.6,260.4L354.8,258.6L355.0,258.5L355.2,257.7L355.3,256.0L355.5,256.2L356.2,254.1L356.7,253.9L357.3,253.0L357.9,252.9L358.5,252.5L359.0,250.8L359.5,249.7L360.0,249.4L360.5,249.3L360.8,248.6L361.1,249.7L361.3,251.0L361.6,251.5L361.9,252.5L362.1,253.3L362.4,254.2L362.7,255.4L363.1,255.7L363.6,256.3L364.1,257.7L364.6,257.8L364.8,259.3L365.1,260.3L365.3,260.5L365.6,261.2L365.8,263.0L366.1,263.3L366.4,264.5L366.7,266.3L367.0,268.3L367.1,268.2L367.3,269.3L367.4,270.2L367.6,271.9L367.7,272.2L367.9,273.8L368.0,273.8L368.2,275.1L368.4,276.6L368.5,278.0L368.7,278.5L368.8,279.2L369.0,280.2L369.2,282.0L369.3,282.6L369.5,284.7L369.7,285.9L369.8,286.1L370.0,287.4L370.1,289.3L370.3,290.2L370.4,291.5L370.6,291.8L370.7,292.5L370.8,293.8L370.9,295.6L371.1,295.8L371.2,297.0L371.3,298.2L371.4,299.3L371.5,300.3L371.6,302.2L371.8,302.2L371.9,303.0L372.0,305.5L372.1,306.5L372.3,307.8L372.4,308.1L372.5,309.9L372.7,311.0L372.8,311.0L373.0,312.9L373.2,314.1L373.3,315.0L373.5,315.8L373.7,316.6L373.9,317.7L374.1,318.7L374.3,319.5L374.5,321.4L374.7,322.1L374.9,324.0L375.1,324.0L375.4,326.4L375.6,327.2L375.8,328.7L376.1,329.8L376.3,330.9L376.5,331.5L376.8,331.8L377.0,333.9L377.3,334.1L377.5,335.4L377.7,336.9L378.0,337.7L378.2,338.6L378.4,340.3L378.7,340.8L378.9,341.3L379.2,342.4L379.5,344.5L379.8,345.1L380.1,346.6L380.4,347.1L380.7,347.9L381.0,349.5L381.3,350.9L381.6,350.9L381.9,352.8L382.2,353.9L382.6,354.7L382.9,355.6L383.2,355.3L383.5,357.1L383.9,358.4L384.2,358.0L384.7,359.5L385.1,360.6L385.6,362.1L386.1,363.1L386.6,364.2L387.1,365.7L387.6,365.6L388.2,366.6L388.7,367.7L389.2,368.6L389.7,369.3L390.2,371.5L390.7,372.0L391.5,371.9L392.3,373.5L393.2,374.0L394.0,374.7L394.8,375.3L395.6,376.2L396.4,376.6L397.1,376.7L398.1,376.9L399.0,377.3L399.8,377.0L400.8,377.8L402.0,378.3L402.8,378.1L403.7,378.1L404.7,378.7L405.8,379.5L406.8,380.3L407.9,381.0L409.0,380.8L410.1,381.7L411.2,381.6L412.3,381.3L413.4,381.1L414.6,381.0L415.8,381.0L416.9,380.3L418.1,380.3L419.1,379.7L420.1,379.2L421.0,379.6L422.3,380.0L423.4,379.5L424.2,380.6L425.1,381.0L426.0,382.0L427.0,382.0L427.9,380.8L428.9,381.2L429.8,380.7L430.9,379.8L431.8,380.3L432.7,380.1L433.6,381.5L434.6,381.7L435.8,382.6L437.0,383.0L437.7,383.2L438.5,383.7L439.3,383.9L440.2,383.7L441.1,384.9L442.0,384.6L442.9,385.3L443.8,386.8L444.8,386.2L445.8,386.9L446.8,387.4L447.7,389.0L448.6,388.5L449.5,388.7L450.4,390.4L451.3,389.9L452.3,391.5L453.3,391.7L454.3,392.5L455.2,393.1L456.2,393.0L457.2,393.8L458.1,393.1L459.1,394.6L460.1,394.6L461.2,395.3L462.2,394.7L463.2,396.0L464.2,396.6L465.3,395.6L466.3,396.2L467.3,396.9L468.3,397.5L469.4,396.9L470.4,397.1L471.4,397.5L472.4,398.4L473.4,398.9L474.5,398.7L475.5,398.9L476.5,399.3L477.5,399.6L478.5,400.0L479.5,399.8L480.5,400.7L481.6,401.7L482.6,401.1L483.6,401.9L484.6,401.2L485.6,402.3L486.7,402.6L487.7,402.7L488.7,402.7L489.7,402.9L490.8,403.3L491.8,403.9L492.8,403.0L493.8,403.1L494.9,404.2L495.9,404.6L496.9,404.2L497.9,404.2L499.0,404.7L500.0,404.0L501.0,404.3L502.0,404.3L503.1,404.9L504.1,404.6L505.1,404.6L506.1,405.3L507.2,405.8L508.2,404.9L509.2,405.6L510.2,405.2L511.1,406.0L512.0,405.7L513.0,405.3L513.9,405.3L514.9,405.0L515.9,405.8L516.9,405.7L518.0,405.4L519.2,405.8L520.5,405.7L521.4,406.4L522.5,405.5L523.6,406.8L524.7,406.0L525.9,406.2L527.2,406.0L528.5,406.6L529.7,406.5L531.0,406.1L532.3,406.0L533.5,406.4L534.7,406.6L535.8,405.9L536.8,406.4L537.8,406.7L538.6,406.0L539.4,405.6L540.0,405.6" fill="none" stroke="#ff2a2a" stroke-width="1.2" stroke-linejoin="round"/>
<path d="M327.5,405.4L328.8,405.3L330.1,405.5L331.4,405.4L332.7,404.9L334.0,404.8L335.3,404.8L336.6,404.7L337.9,405.2L339.2,405.3L340.5,405.3L341.8,404.6L343.1,405.2L344.4,404.6L345.7,404.7L347.0,404.9L348.3,404.3L349.6,404.3L350.9,404.9L352.2,404.4L353.5,404.5L354.8,404.7L356.1,404.7L357.4,404.1L358.7,404.4L360.0,404.5L361.3,404.6L362.6,404.4L363.9,404.8L365.2,405.1L366.5,404.7L367.8,404.8L369.1,404.5L370.4,404.7L371.7,405.1L373.0,404.7L374.3,405.4L375.6,405.5L376.9,404.8L378.2,405.6L379.5,405.2L380.8,405.6L382.1,405.6L383.4,405.2L384.7,405.6L386.0,405.6L387.3,405.8L388.6,405.3L389.9,405.8L391.2,406.0L392.5,405.8L393.8,405.7L395.1,405.3L396.4,405.7L397.7,405.6L399.0,405.9L400.3,405.9L401.6,405.8L402.9,405.5L404.2,405.9L405.5,405.9L406.8,405.5L408.1,406.1L409.4,405.9L410.7,405.5L412.0,406.2L413.3,405.5L414.6,405.7L415.9,406.0L417.2,405.9L418.5,405.9L419.8,406.0L421.1,405.8L422.4,405.7L423.7,405.6L425.0,405.5L426.3,406.1L427.6,406.1L428.9,405.9L430.2,406.1L431.5,405.8L432.8,405.7L434.1,405.8L435.4,406.3L436.7,405.5L438.0,406.0L439.3,405.7L440.6,406.2L441.9,405.9L443.2,405.8L444.5,405.9L445.8,406.0L447.1,406.3L448.4,405.9L449.7,406.3L451.0,405.7L452.3,405.8L453.6,405.7L454.9,405.7L456.2,406.3L457.5,406.3L458.8,405.8L460.1,405.8L461.4,406.0L462.7,406.3L464.0,406.4L465.3,406.4L466.6,406.2L467.9,405.8L469.2,406.1L470.5,405.9L471.8,406.2L473.1,406.2L474.4,405.9L475.7,406.0L477.0,406.5L478.3,405.8L479.6,406.5L480.9,406.6L482.2,406.6L483.5,406.1L484.8,406.3L486.1,406.3L487.4,406.4L488.7,406.7L490.0,406.4L491.3,406.1L492.6,406.6L493.9,406.3L495.2,406.4L496.5,406.5L497.8,405.9L499.1,406.6L500.4,406.5L501.7,406.3L503.0,406.4L504.3,406.3L505.6,406.1L506.9,406.4L508.2,406.0L509.5,406.4L510.8,406.5L512.1,406.4L513.4,406.5L514.7,406.8L516.0,406.8L517.3,406.1L518.6,406.7L519.9,406.6L521.2,406.1L522.5,406.3L523.8,406.2L525.1,406.1L526.4,406.5L527.7,406.9L529.0,406.3L530.3,406.9L531.6,406.7L532.9,406.2L534.2,406.9L535.5,406.6L536.8,406.9L538.1,406.8L539.4,406.8" fill="none" stroke="#1a1aee" stroke-width="1.2"/>
<path d="M327.5,405.7L328.8,405.7L330.1,405.7L331.4,405.7L332.7,405.7L334.0,405.7L335.3,405.7L336.6,405.8L337.9,405.8L339.2,405.8L340.5,405.8L341.8,405.8L343.1,405.8L344.4,405.8L345.7,405.8L347.0,405.8L348.3,405.8L349.6,405.8L350.9,405.8L352.2,405.8L353.5,405.9L354.8,405.9L356.1,405.9L357.4,405.9L358.7,405.9L360.0,405.9L361.3,405.9L362.6,405.9L363.9,405.9L365.2,405.9L366.5,405.9L367.8,405.9L369.1,405.9L370.4,406.0L371.7,406.0L373.0,406.0L374.3,406.0L375.6,406.0L376.9,406.0L378.2,406.0L379.5,406.0L380.8,406.0L382.1,406.0L383.4,406.0L384.7,406.0L386.0,406.1L387.3,406.1L388.6,406.1L389.9,406.1L391.2,406.1L392.5,406.1L393.8,406.1L395.1,406.1L396.4,406.1L397.7,406.1L399.0,406.1L400.3,406.1L401.6,406.1L402.9,406.2L404.2,406.2L405.5,406.2L406.8,406.2L408.1,406.2L409.4,406.2L410.7,406.2L412.0,406.2L413.3,406.2L414.6,406.2L415.9,406.2L417.2,406.2L418.5,406.2L419.8,406.3L421.1,406.3L422.4,406.3L423.7,406.3L425.0,406.3L426.3,406.3L427.6,406.3L428.9,406.3L430.2,406.3L431.5,406.3L432.8,406.3L434.1,406.3L435.4,406.3L436.7,406.4L438.0,406.4L439.3,406.4L440.6,406.4L441.9,406.4L443.2,406.4L444.5,406.4L445.8,406.4L447.1,406.4L448.4,406.4L449.7,406.4L451.0,406.4L452.3,406.4L453.6,406.5L454.9,406.5L456.2,406.5L457.5,406.5L458.8,406.5L460.1,406.5L461.4,406.5L462.7,406.5L464.0,406.5L465.3,406.5L466.6,406.5L467.9,406.5L469.2,406.6L470.5,406.6L471.8,406.6L473.1,406.6L474.4,406.6L475.7,406.6L477.0,406.6L478.3,406.6L479.6,406.6L480.9,406.6L482.2,406.6L483.5,406.6L484.8,406.6L486.1,406.7L487.4,406.7L488.7,406.7L490.0,406.7L491.3,406.7L492.6,406.7L493.9,406.7L495.2,406.7L496.5,406.7L497.8,406.7L499.1,406.7L500.4,406.7L501.7,406.7L503.0,406.8L504.3,406.8L505.6,406.8L506.9,406.8L508.2,406.8L509.5,406.8L510.8,406.8L512.1,406.8L513.4,406.8L514.7,406.8L516.0,406.8L517.3,406.8L518.6,406.8L519.9,406.9L521.2,406.9L522.5,406.9L523.8,406.9L525.1,406.9L526.4,406.9L527.7,406.9L529.0,406.9L530.3,406.9L531.6,406.9L532.9,406.9L534.2,406.9L535.5,406.9L536.8,407.0L538.1,407.0L539.4,407.0" fill="none" stroke="#111" stroke-width="1.2"/>
<rect x="371.3" y="243.0" width="173.7" height="29.7" fill="#fff" stroke="#999" stroke-width="0.8"/>
<line x1="373.00" y1="249.60" x2="388.50" y2="249.60" stroke="#111" stroke-width="1.60"/>
<text x="391.80" y="252.30" font-size="7.50" fill="#1a1a1a" color="#1a1a1a" textLength="66.20" lengthAdjust="spacingAndGlyphs">CPL5+MPP in water</text>
<line x1="373.00" y1="258.70" x2="388.50" y2="258.70" stroke="#1a1aee" stroke-width="1.60"/>
<text x="391.80" y="261.40" font-size="7.50" fill="#1a1a1a" color="#1a1a1a" textLength="141.70" lengthAdjust="spacingAndGlyphs">CPL5+MPP + liposomes (0 min incubation)</text>
<line x1="373.00" y1="267.80" x2="388.50" y2="267.80" stroke="#ff2a2a" stroke-width="1.60"/>
<text x="391.80" y="270.50" font-size="7.50" fill="#1a1a1a" color="#1a1a1a" textLength="151.60" lengthAdjust="spacingAndGlyphs">CPL5+MPP + liposomes (180 min incubation)</text>
</svg></body></html>
